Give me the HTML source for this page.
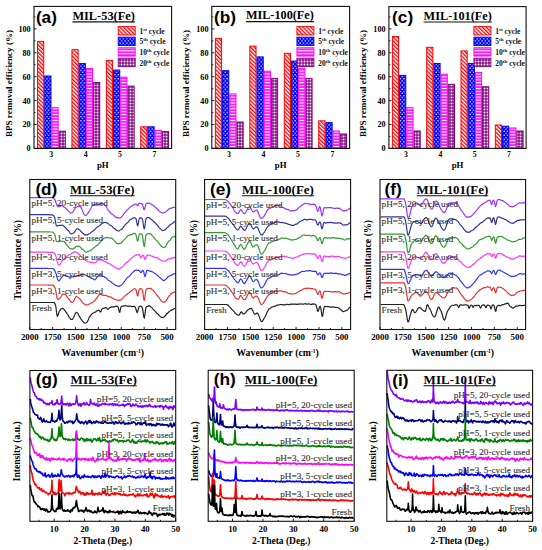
<!DOCTYPE html>
<html><head><meta charset="utf-8"><style>
html,body{margin:0;padding:0;background:#fff;}
svg{display:block;}
</style></head><body>
<svg width="542" height="550" viewBox="0 0 542 550">
<rect width="542" height="550" fill="#fff"/>
<defs>
<pattern id="pr" patternUnits="userSpaceOnUse" width="2.7" height="2.7" patternTransform="rotate(-45)">
<rect width="2.7" height="2.7" fill="#fff"/><rect width="1.3" height="2.7" fill="#ff0000"/></pattern>
<pattern id="pb" patternUnits="userSpaceOnUse" width="3.4" height="4.2">
<rect width="3.4" height="4.2" fill="#0000ff"/><rect x="0.4" y="0.45" width="1.25" height="1.2" fill="#fff"/><rect x="2.1" y="2.55" width="1.25" height="1.2" fill="#fff"/></pattern>
<pattern id="pm" patternUnits="userSpaceOnUse" width="4" height="2.9">
<rect width="4" height="2.9" fill="#ff00ff"/><rect y="0.9" width="4" height="1.2" fill="#fff"/></pattern>
<pattern id="pp" patternUnits="userSpaceOnUse" width="3" height="3">
<rect width="3" height="3" fill="#800080"/><rect x="0.6" y="0.6" width="1.8" height="1.8" fill="#fff"/></pattern>
</defs>
<rect x="37.55" y="41.35" width="6.20" height="107.05" fill="url(#pr)" stroke="#ff0000" stroke-width="1.0"/>
<rect x="44.75" y="76.00" width="6.20" height="72.40" fill="url(#pb)" stroke="#0000ff" stroke-width="1.0"/>
<rect x="51.95" y="107.67" width="6.20" height="40.73" fill="url(#pm)" stroke="#ff00ff" stroke-width="1.0"/>
<rect x="59.15" y="131.21" width="6.20" height="17.19" fill="url(#pp)" stroke="#800080" stroke-width="1.0"/>
<rect x="71.95" y="49.72" width="6.20" height="98.69" fill="url(#pr)" stroke="#ff0000" stroke-width="1.0"/>
<rect x="79.15" y="63.58" width="6.20" height="84.82" fill="url(#pb)" stroke="#0000ff" stroke-width="1.0"/>
<rect x="86.35" y="68.60" width="6.20" height="79.80" fill="url(#pm)" stroke="#ff00ff" stroke-width="1.0"/>
<rect x="93.55" y="82.46" width="6.20" height="65.94" fill="url(#pp)" stroke="#800080" stroke-width="1.0"/>
<rect x="106.35" y="60.47" width="6.20" height="87.93" fill="url(#pr)" stroke="#ff0000" stroke-width="1.0"/>
<rect x="113.55" y="70.03" width="6.20" height="78.37" fill="url(#pb)" stroke="#0000ff" stroke-width="1.0"/>
<rect x="120.75" y="77.20" width="6.20" height="71.20" fill="url(#pm)" stroke="#ff00ff" stroke-width="1.0"/>
<rect x="127.95" y="86.16" width="6.20" height="62.24" fill="url(#pp)" stroke="#800080" stroke-width="1.0"/>
<rect x="140.75" y="126.79" width="6.20" height="21.61" fill="url(#pr)" stroke="#ff0000" stroke-width="1.0"/>
<rect x="147.95" y="126.79" width="6.20" height="21.61" fill="url(#pb)" stroke="#0000ff" stroke-width="1.0"/>
<rect x="155.15" y="130.38" width="6.20" height="18.02" fill="url(#pm)" stroke="#ff00ff" stroke-width="1.0"/>
<rect x="162.35" y="131.57" width="6.20" height="16.83" fill="url(#pp)" stroke="#800080" stroke-width="1.0"/>
<rect x="34.00" y="6.40" width="137.60" height="142.00" fill="none" stroke="#111" stroke-width="1.1"/>
<line x1="34.00" y1="148.40" x2="36.60" y2="148.40" stroke="#111" stroke-width="0.9"/>
<text x="30.70" y="151.30" font-family='"Liberation Serif", serif' font-size="8.2" font-weight="bold" text-anchor="end" fill="#000" >0</text>
<line x1="34.00" y1="136.45" x2="35.50" y2="136.45" stroke="#111" stroke-width="0.9"/>
<line x1="34.00" y1="124.50" x2="36.60" y2="124.50" stroke="#111" stroke-width="0.9"/>
<text x="30.70" y="127.40" font-family='"Liberation Serif", serif' font-size="8.2" font-weight="bold" text-anchor="end" fill="#000" >20</text>
<line x1="34.00" y1="112.55" x2="35.50" y2="112.55" stroke="#111" stroke-width="0.9"/>
<line x1="34.00" y1="100.60" x2="36.60" y2="100.60" stroke="#111" stroke-width="0.9"/>
<text x="30.70" y="103.50" font-family='"Liberation Serif", serif' font-size="8.2" font-weight="bold" text-anchor="end" fill="#000" >40</text>
<line x1="34.00" y1="88.65" x2="35.50" y2="88.65" stroke="#111" stroke-width="0.9"/>
<line x1="34.00" y1="76.70" x2="36.60" y2="76.70" stroke="#111" stroke-width="0.9"/>
<text x="30.70" y="79.60" font-family='"Liberation Serif", serif' font-size="8.2" font-weight="bold" text-anchor="end" fill="#000" >60</text>
<line x1="34.00" y1="64.75" x2="35.50" y2="64.75" stroke="#111" stroke-width="0.9"/>
<line x1="34.00" y1="52.80" x2="36.60" y2="52.80" stroke="#111" stroke-width="0.9"/>
<text x="30.70" y="55.70" font-family='"Liberation Serif", serif' font-size="8.2" font-weight="bold" text-anchor="end" fill="#000" >80</text>
<line x1="34.00" y1="40.85" x2="35.50" y2="40.85" stroke="#111" stroke-width="0.9"/>
<line x1="34.00" y1="28.90" x2="36.60" y2="28.90" stroke="#111" stroke-width="0.9"/>
<text x="30.70" y="31.80" font-family='"Liberation Serif", serif' font-size="8.2" font-weight="bold" text-anchor="end" fill="#000" >100</text>
<line x1="34.00" y1="16.95" x2="35.50" y2="16.95" stroke="#111" stroke-width="0.9"/>
<text x="51.20" y="157.00" font-family='"Liberation Serif", serif' font-size="7.8" font-weight="bold" text-anchor="middle" fill="#000" >3</text>
<text x="85.60" y="157.00" font-family='"Liberation Serif", serif' font-size="7.8" font-weight="bold" text-anchor="middle" fill="#000" >4</text>
<text x="120.00" y="157.00" font-family='"Liberation Serif", serif' font-size="7.8" font-weight="bold" text-anchor="middle" fill="#000" >5</text>
<text x="154.40" y="157.00" font-family='"Liberation Serif", serif' font-size="7.8" font-weight="bold" text-anchor="middle" fill="#000" >7</text>
<text x="102.80" y="168.00" font-family='"Liberation Serif", serif' font-size="8.8" font-weight="bold" text-anchor="middle" fill="#000" >pH</text>
<text transform="translate(12.40,83.50) rotate(-90)" font-family='"Liberation Serif", serif' font-size="9.1" font-weight="bold" text-anchor="middle" fill="#000">BPS removal efficiency (%)</text>
<text x="35.90" y="23.04" font-family='"Liberation Sans", sans-serif' font-size="17.2" font-weight="bold" text-anchor="start" fill="#000" >(a)</text>
<text x="72.40" y="19.60" font-family='"Liberation Serif", serif' font-size="12.4" font-weight="bold" textLength="62.50" lengthAdjust="spacingAndGlyphs">MIL-53(Fe)</text>
<line x1="72.40" y1="21.90" x2="134.90" y2="21.90" stroke="#111" stroke-width="1.1"/>
<rect x="118.20" y="26.60" width="17.0" height="8.4" fill="url(#pr)" stroke="#ff0000" stroke-width="0.9"/>
<text x="139.60" y="33.90" font-family='"Liberation Serif", serif' font-size="7.5" font-weight="bold" fill="#111">1<tspan font-size="5.0" dy="-3.0">st</tspan><tspan dy="3.0"> cycle</tspan></text>
<rect x="118.20" y="37.15" width="17.0" height="8.4" fill="url(#pb)" stroke="#0000ff" stroke-width="0.9"/>
<text x="139.60" y="44.45" font-family='"Liberation Serif", serif' font-size="7.5" font-weight="bold" fill="#111">5<tspan font-size="5.0" dy="-3.0">th</tspan><tspan dy="3.0"> cycle</tspan></text>
<rect x="118.20" y="47.70" width="17.0" height="8.4" fill="url(#pm)" stroke="#ff00ff" stroke-width="0.9"/>
<text x="139.60" y="55.00" font-family='"Liberation Serif", serif' font-size="7.5" font-weight="bold" fill="#111">10<tspan font-size="5.0" dy="-3.0">th</tspan><tspan dy="3.0"> cycle</tspan></text>
<rect x="118.20" y="58.25" width="17.0" height="8.4" fill="url(#pp)" stroke="#800080" stroke-width="0.9"/>
<text x="139.60" y="65.55" font-family='"Liberation Serif", serif' font-size="7.5" font-weight="bold" fill="#111">20<tspan font-size="5.0" dy="-3.0">th</tspan><tspan dy="3.0"> cycle</tspan></text>
<rect x="215.38" y="38.36" width="6.20" height="110.04" fill="url(#pr)" stroke="#ff0000" stroke-width="1.0"/>
<rect x="222.57" y="70.63" width="6.20" height="77.77" fill="url(#pb)" stroke="#0000ff" stroke-width="1.0"/>
<rect x="229.78" y="93.93" width="6.20" height="54.47" fill="url(#pm)" stroke="#ff00ff" stroke-width="1.0"/>
<rect x="236.97" y="122.01" width="6.20" height="26.39" fill="url(#pp)" stroke="#800080" stroke-width="1.0"/>
<rect x="249.83" y="46.13" width="6.20" height="102.27" fill="url(#pr)" stroke="#ff0000" stroke-width="1.0"/>
<rect x="257.03" y="56.89" width="6.20" height="91.52" fill="url(#pb)" stroke="#0000ff" stroke-width="1.0"/>
<rect x="264.23" y="71.23" width="6.20" height="77.17" fill="url(#pm)" stroke="#ff00ff" stroke-width="1.0"/>
<rect x="271.43" y="78.39" width="6.20" height="70.01" fill="url(#pp)" stroke="#800080" stroke-width="1.0"/>
<rect x="284.28" y="53.30" width="6.20" height="95.10" fill="url(#pr)" stroke="#ff0000" stroke-width="1.0"/>
<rect x="291.48" y="61.07" width="6.20" height="87.33" fill="url(#pb)" stroke="#0000ff" stroke-width="1.0"/>
<rect x="298.68" y="68.24" width="6.20" height="80.16" fill="url(#pm)" stroke="#ff00ff" stroke-width="1.0"/>
<rect x="305.88" y="78.39" width="6.20" height="70.01" fill="url(#pp)" stroke="#800080" stroke-width="1.0"/>
<rect x="318.73" y="120.82" width="6.20" height="27.58" fill="url(#pr)" stroke="#ff0000" stroke-width="1.0"/>
<rect x="325.93" y="122.61" width="6.20" height="25.79" fill="url(#pb)" stroke="#0000ff" stroke-width="1.0"/>
<rect x="333.12" y="130.97" width="6.20" height="17.43" fill="url(#pm)" stroke="#ff00ff" stroke-width="1.0"/>
<rect x="340.33" y="133.96" width="6.20" height="14.44" fill="url(#pp)" stroke="#800080" stroke-width="1.0"/>
<rect x="211.80" y="6.40" width="137.80" height="142.00" fill="none" stroke="#111" stroke-width="1.1"/>
<line x1="211.80" y1="148.40" x2="214.40" y2="148.40" stroke="#111" stroke-width="0.9"/>
<text x="208.50" y="151.30" font-family='"Liberation Serif", serif' font-size="8.2" font-weight="bold" text-anchor="end" fill="#000" >0</text>
<line x1="211.80" y1="136.45" x2="213.30" y2="136.45" stroke="#111" stroke-width="0.9"/>
<line x1="211.80" y1="124.50" x2="214.40" y2="124.50" stroke="#111" stroke-width="0.9"/>
<text x="208.50" y="127.40" font-family='"Liberation Serif", serif' font-size="8.2" font-weight="bold" text-anchor="end" fill="#000" >20</text>
<line x1="211.80" y1="112.55" x2="213.30" y2="112.55" stroke="#111" stroke-width="0.9"/>
<line x1="211.80" y1="100.60" x2="214.40" y2="100.60" stroke="#111" stroke-width="0.9"/>
<text x="208.50" y="103.50" font-family='"Liberation Serif", serif' font-size="8.2" font-weight="bold" text-anchor="end" fill="#000" >40</text>
<line x1="211.80" y1="88.65" x2="213.30" y2="88.65" stroke="#111" stroke-width="0.9"/>
<line x1="211.80" y1="76.70" x2="214.40" y2="76.70" stroke="#111" stroke-width="0.9"/>
<text x="208.50" y="79.60" font-family='"Liberation Serif", serif' font-size="8.2" font-weight="bold" text-anchor="end" fill="#000" >60</text>
<line x1="211.80" y1="64.75" x2="213.30" y2="64.75" stroke="#111" stroke-width="0.9"/>
<line x1="211.80" y1="52.80" x2="214.40" y2="52.80" stroke="#111" stroke-width="0.9"/>
<text x="208.50" y="55.70" font-family='"Liberation Serif", serif' font-size="8.2" font-weight="bold" text-anchor="end" fill="#000" >80</text>
<line x1="211.80" y1="40.85" x2="213.30" y2="40.85" stroke="#111" stroke-width="0.9"/>
<line x1="211.80" y1="28.90" x2="214.40" y2="28.90" stroke="#111" stroke-width="0.9"/>
<text x="208.50" y="31.80" font-family='"Liberation Serif", serif' font-size="8.2" font-weight="bold" text-anchor="end" fill="#000" >100</text>
<line x1="211.80" y1="16.95" x2="213.30" y2="16.95" stroke="#111" stroke-width="0.9"/>
<text x="229.03" y="157.00" font-family='"Liberation Serif", serif' font-size="7.8" font-weight="bold" text-anchor="middle" fill="#000" >3</text>
<text x="263.48" y="157.00" font-family='"Liberation Serif", serif' font-size="7.8" font-weight="bold" text-anchor="middle" fill="#000" >4</text>
<text x="297.93" y="157.00" font-family='"Liberation Serif", serif' font-size="7.8" font-weight="bold" text-anchor="middle" fill="#000" >5</text>
<text x="332.38" y="157.00" font-family='"Liberation Serif", serif' font-size="7.8" font-weight="bold" text-anchor="middle" fill="#000" >7</text>
<text x="280.70" y="168.00" font-family='"Liberation Serif", serif' font-size="8.8" font-weight="bold" text-anchor="middle" fill="#000" >pH</text>
<text transform="translate(189.30,83.50) rotate(-90)" font-family='"Liberation Serif", serif' font-size="9.1" font-weight="bold" text-anchor="middle" fill="#000">BPS removal efficiency (%)</text>
<text x="214.10" y="23.04" font-family='"Liberation Sans", sans-serif' font-size="17.2" font-weight="bold" text-anchor="start" fill="#000" >(b)</text>
<text x="245.90" y="19.30" font-family='"Liberation Serif", serif' font-size="12.3" font-weight="bold" textLength="67.90" lengthAdjust="spacingAndGlyphs">MIL-100(Fe)</text>
<line x1="245.90" y1="21.60" x2="313.80" y2="21.60" stroke="#111" stroke-width="1.1"/>
<rect x="296.90" y="26.60" width="17.0" height="8.4" fill="url(#pr)" stroke="#ff0000" stroke-width="0.9"/>
<text x="318.30" y="33.90" font-family='"Liberation Serif", serif' font-size="7.5" font-weight="bold" fill="#111">1<tspan font-size="5.0" dy="-3.0">st</tspan><tspan dy="3.0"> cycle</tspan></text>
<rect x="296.90" y="37.15" width="17.0" height="8.4" fill="url(#pb)" stroke="#0000ff" stroke-width="0.9"/>
<text x="318.30" y="44.45" font-family='"Liberation Serif", serif' font-size="7.5" font-weight="bold" fill="#111">5<tspan font-size="5.0" dy="-3.0">th</tspan><tspan dy="3.0"> cycle</tspan></text>
<rect x="296.90" y="47.70" width="17.0" height="8.4" fill="url(#pm)" stroke="#ff00ff" stroke-width="0.9"/>
<text x="318.30" y="55.00" font-family='"Liberation Serif", serif' font-size="7.5" font-weight="bold" fill="#111">10<tspan font-size="5.0" dy="-3.0">th</tspan><tspan dy="3.0"> cycle</tspan></text>
<rect x="296.90" y="58.25" width="17.0" height="8.4" fill="url(#pp)" stroke="#800080" stroke-width="0.9"/>
<text x="318.30" y="65.55" font-family='"Liberation Serif", serif' font-size="7.5" font-weight="bold" fill="#111">20<tspan font-size="5.0" dy="-3.0">th</tspan><tspan dy="3.0"> cycle</tspan></text>
<rect x="392.40" y="36.57" width="6.20" height="111.83" fill="url(#pr)" stroke="#ff0000" stroke-width="1.0"/>
<rect x="399.60" y="75.41" width="6.20" height="72.99" fill="url(#pb)" stroke="#0000ff" stroke-width="1.0"/>
<rect x="406.80" y="107.67" width="6.20" height="40.73" fill="url(#pm)" stroke="#ff00ff" stroke-width="1.0"/>
<rect x="414.00" y="130.97" width="6.20" height="17.43" fill="url(#pp)" stroke="#800080" stroke-width="1.0"/>
<rect x="426.70" y="47.33" width="6.20" height="101.08" fill="url(#pr)" stroke="#ff0000" stroke-width="1.0"/>
<rect x="433.90" y="63.46" width="6.20" height="84.94" fill="url(#pb)" stroke="#0000ff" stroke-width="1.0"/>
<rect x="441.10" y="74.21" width="6.20" height="74.19" fill="url(#pm)" stroke="#ff00ff" stroke-width="1.0"/>
<rect x="448.30" y="84.37" width="6.20" height="64.03" fill="url(#pp)" stroke="#800080" stroke-width="1.0"/>
<rect x="461.00" y="50.91" width="6.20" height="97.49" fill="url(#pr)" stroke="#ff0000" stroke-width="1.0"/>
<rect x="468.20" y="63.46" width="6.20" height="84.94" fill="url(#pb)" stroke="#0000ff" stroke-width="1.0"/>
<rect x="475.40" y="72.42" width="6.20" height="75.98" fill="url(#pm)" stroke="#ff00ff" stroke-width="1.0"/>
<rect x="482.60" y="86.76" width="6.20" height="61.64" fill="url(#pp)" stroke="#800080" stroke-width="1.0"/>
<rect x="495.30" y="125.00" width="6.20" height="23.40" fill="url(#pr)" stroke="#ff0000" stroke-width="1.0"/>
<rect x="502.50" y="126.20" width="6.20" height="22.20" fill="url(#pb)" stroke="#0000ff" stroke-width="1.0"/>
<rect x="509.70" y="127.99" width="6.20" height="20.41" fill="url(#pm)" stroke="#ff00ff" stroke-width="1.0"/>
<rect x="516.90" y="130.97" width="6.20" height="17.43" fill="url(#pp)" stroke="#800080" stroke-width="1.0"/>
<rect x="388.90" y="6.60" width="137.20" height="141.80" fill="none" stroke="#111" stroke-width="1.1"/>
<line x1="388.90" y1="148.40" x2="391.50" y2="148.40" stroke="#111" stroke-width="0.9"/>
<text x="385.60" y="151.30" font-family='"Liberation Serif", serif' font-size="8.2" font-weight="bold" text-anchor="end" fill="#000" >0</text>
<line x1="388.90" y1="136.45" x2="390.40" y2="136.45" stroke="#111" stroke-width="0.9"/>
<line x1="388.90" y1="124.50" x2="391.50" y2="124.50" stroke="#111" stroke-width="0.9"/>
<text x="385.60" y="127.40" font-family='"Liberation Serif", serif' font-size="8.2" font-weight="bold" text-anchor="end" fill="#000" >20</text>
<line x1="388.90" y1="112.55" x2="390.40" y2="112.55" stroke="#111" stroke-width="0.9"/>
<line x1="388.90" y1="100.60" x2="391.50" y2="100.60" stroke="#111" stroke-width="0.9"/>
<text x="385.60" y="103.50" font-family='"Liberation Serif", serif' font-size="8.2" font-weight="bold" text-anchor="end" fill="#000" >40</text>
<line x1="388.90" y1="88.65" x2="390.40" y2="88.65" stroke="#111" stroke-width="0.9"/>
<line x1="388.90" y1="76.70" x2="391.50" y2="76.70" stroke="#111" stroke-width="0.9"/>
<text x="385.60" y="79.60" font-family='"Liberation Serif", serif' font-size="8.2" font-weight="bold" text-anchor="end" fill="#000" >60</text>
<line x1="388.90" y1="64.75" x2="390.40" y2="64.75" stroke="#111" stroke-width="0.9"/>
<line x1="388.90" y1="52.80" x2="391.50" y2="52.80" stroke="#111" stroke-width="0.9"/>
<text x="385.60" y="55.70" font-family='"Liberation Serif", serif' font-size="8.2" font-weight="bold" text-anchor="end" fill="#000" >80</text>
<line x1="388.90" y1="40.85" x2="390.40" y2="40.85" stroke="#111" stroke-width="0.9"/>
<line x1="388.90" y1="28.90" x2="391.50" y2="28.90" stroke="#111" stroke-width="0.9"/>
<text x="385.60" y="31.80" font-family='"Liberation Serif", serif' font-size="8.2" font-weight="bold" text-anchor="end" fill="#000" >100</text>
<line x1="388.90" y1="16.95" x2="390.40" y2="16.95" stroke="#111" stroke-width="0.9"/>
<text x="406.05" y="157.00" font-family='"Liberation Serif", serif' font-size="7.8" font-weight="bold" text-anchor="middle" fill="#000" >3</text>
<text x="440.35" y="157.00" font-family='"Liberation Serif", serif' font-size="7.8" font-weight="bold" text-anchor="middle" fill="#000" >4</text>
<text x="474.65" y="157.00" font-family='"Liberation Serif", serif' font-size="7.8" font-weight="bold" text-anchor="middle" fill="#000" >5</text>
<text x="508.95" y="157.00" font-family='"Liberation Serif", serif' font-size="7.8" font-weight="bold" text-anchor="middle" fill="#000" >7</text>
<text x="457.50" y="168.00" font-family='"Liberation Serif", serif' font-size="8.8" font-weight="bold" text-anchor="middle" fill="#000" >pH</text>
<text transform="translate(365.80,83.50) rotate(-90)" font-family='"Liberation Serif", serif' font-size="9.1" font-weight="bold" text-anchor="middle" fill="#000">BPS removal efficiency (%)</text>
<text x="392.10" y="23.04" font-family='"Liberation Sans", sans-serif' font-size="17.2" font-weight="bold" text-anchor="start" fill="#000" >(c)</text>
<text x="423.60" y="19.70" font-family='"Liberation Serif", serif' font-size="12.3" font-weight="bold" textLength="68.20" lengthAdjust="spacingAndGlyphs">MIL-101(Fe)</text>
<line x1="423.60" y1="22.00" x2="491.80" y2="22.00" stroke="#111" stroke-width="1.1"/>
<rect x="473.90" y="26.60" width="17.0" height="8.4" fill="url(#pr)" stroke="#ff0000" stroke-width="0.9"/>
<text x="495.30" y="33.90" font-family='"Liberation Serif", serif' font-size="7.5" font-weight="bold" fill="#111">1<tspan font-size="5.0" dy="-3.0">st</tspan><tspan dy="3.0"> cycle</tspan></text>
<rect x="473.90" y="37.15" width="17.0" height="8.4" fill="url(#pb)" stroke="#0000ff" stroke-width="0.9"/>
<text x="495.30" y="44.45" font-family='"Liberation Serif", serif' font-size="7.5" font-weight="bold" fill="#111">5<tspan font-size="5.0" dy="-3.0">th</tspan><tspan dy="3.0"> cycle</tspan></text>
<rect x="473.90" y="47.70" width="17.0" height="8.4" fill="url(#pm)" stroke="#ff00ff" stroke-width="0.9"/>
<text x="495.30" y="55.00" font-family='"Liberation Serif", serif' font-size="7.5" font-weight="bold" fill="#111">10<tspan font-size="5.0" dy="-3.0">th</tspan><tspan dy="3.0"> cycle</tspan></text>
<rect x="473.90" y="58.25" width="17.0" height="8.4" fill="url(#pp)" stroke="#800080" stroke-width="0.9"/>
<text x="495.30" y="65.55" font-family='"Liberation Serif", serif' font-size="7.5" font-weight="bold" fill="#111">20<tspan font-size="5.0" dy="-3.0">th</tspan><tspan dy="3.0"> cycle</tspan></text>
<path d="M30.3 197.7 30.8 197.7 31.3 197.7 31.8 197.7 32.3 197.7 32.8 197.7 33.3 197.7 33.8 197.7 34.3 197.7 34.8 197.7 35.3 197.7 35.8 197.7 36.3 197.7 36.8 197.7 37.3 197.7 37.8 197.7 38.3 197.7 38.8 197.7 39.3 197.7 39.8 197.7 40.3 197.7 40.8 197.7 41.3 197.7 41.8 197.7 42.3 197.7 42.8 197.7 43.3 197.7 43.8 197.7 44.3 197.7 44.8 197.7 45.3 197.7 45.8 197.7 46.3 197.7 46.8 197.7 47.3 197.7 47.8 197.7 48.3 197.7 48.8 197.7 49.3 197.7 49.8 197.7 50.3 197.7 50.8 197.7 51.3 197.7 51.8 197.7 52.3 197.7 52.8 197.9 53.3 198.1 53.8 198.5 54.3 198.8 54.8 199.4 55.3 200.5 55.8 202.0 56.3 203.6 56.8 205.1 57.3 206.1 57.8 206.6 58.3 206.6 58.8 206.6 59.3 206.6 59.8 206.4 60.3 206.2 60.8 205.7 61.3 205.6 61.8 205.8 62.3 205.9 62.8 206.3 63.3 206.6 63.8 206.9 64.3 207.2 64.8 207.5 65.3 207.9 65.8 208.3 66.3 208.8 66.8 209.5 67.3 209.9 67.8 210.3 68.3 210.8 68.8 211.3 69.3 211.9 69.8 212.4 70.3 212.7 70.8 212.9 71.3 213.0 71.8 212.9 72.3 212.8 72.8 212.0 73.3 211.3 73.8 210.5 74.3 209.5 74.8 208.7 75.3 208.2 75.8 207.6 76.3 207.3 76.8 207.0 77.3 206.6 77.8 206.5 78.3 206.5 78.8 206.6 79.3 206.5 79.8 206.4 80.3 206.5 80.8 207.1 81.3 207.9 81.8 209.0 82.3 210.4 82.8 211.7 83.3 212.7 83.8 214.0 84.3 214.7 84.8 215.2 85.3 215.7 85.8 215.5 86.3 215.1 86.8 214.7 87.3 214.0 87.8 213.3 88.3 212.7 88.8 211.9 89.3 211.2 89.8 210.5 90.3 209.3 90.8 208.5 91.3 207.5 91.8 206.4 92.3 205.7 92.8 205.1 93.3 204.7 93.8 204.4 94.3 204.4 94.8 204.4 95.3 204.4 95.8 204.5 96.3 204.5 96.8 204.4 97.3 204.5 97.8 204.5 98.3 204.4 98.8 204.4 99.3 204.1 99.8 203.9 100.3 204.0 100.8 204.0 101.3 204.2 101.8 204.2 102.3 204.0 102.8 204.1 103.3 204.1 103.8 204.1 104.3 204.8 104.8 205.0 105.3 205.3 105.8 206.1 106.3 206.7 106.8 207.7 107.3 208.7 107.8 209.5 108.3 210.4 108.8 210.9 109.3 211.5 109.8 212.0 110.3 212.6 110.8 213.2 111.3 213.6 111.8 213.9 112.3 214.3 112.8 214.5 113.3 215.0 113.8 215.3 114.3 215.9 114.8 216.5 115.3 216.8 115.8 217.4 116.3 217.6 116.8 217.4 117.3 217.6 117.8 217.6 118.3 217.7 118.8 218.0 119.3 218.0 119.8 217.8 120.3 217.7 120.8 217.6 121.3 217.2 121.8 216.6 122.3 216.1 122.8 215.2 123.3 214.6 123.8 214.0 124.3 213.1 124.8 212.7 125.3 212.1 125.8 211.4 126.3 210.8 126.8 210.1 127.3 209.8 127.8 209.4 128.3 208.9 128.8 208.3 129.3 207.9 129.8 207.4 130.3 207.0 130.8 206.6 131.3 206.1 131.8 205.9 132.3 205.6 132.8 205.4 133.3 205.1 133.8 204.6 134.3 204.4 134.8 204.2 135.3 204.1 135.8 204.1 136.3 204.2 136.8 204.8 137.3 205.7 137.8 205.7 138.3 204.5 138.8 203.4 139.3 203.1 139.8 203.4 140.3 203.5 140.8 203.6 141.3 203.8 141.8 203.6 142.3 204.4 142.8 205.3 143.3 207.3 143.8 209.5 144.3 209.7 144.8 208.5 145.3 206.3 145.8 204.3 146.3 203.5 146.8 203.2 147.3 203.0 147.8 203.1 148.3 203.2 148.8 203.2 149.3 203.2 149.8 203.3 150.3 203.5 150.8 203.9 151.3 204.3 151.8 204.7 152.3 204.8 152.8 205.1 153.3 205.5 153.8 206.0 154.3 206.5 154.8 206.9 155.3 207.2 155.8 207.5 156.3 208.0 156.8 208.5 157.3 209.0 157.8 209.5 158.3 210.1 158.8 210.7 159.3 211.3 159.8 211.8 160.3 212.1 160.8 212.3 161.3 212.5 161.8 212.7 162.3 213.0 162.8 213.2 163.3 213.1 163.8 212.8 164.3 212.7 164.8 212.3 165.3 212.1 165.8 211.7 166.3 211.4 166.8 211.0 167.3 210.4 167.8 210.1 168.3 209.5 168.8 209.0 169.3 208.7 169.8 208.4 170.3 208.4 170.8 208.2 171.3 208.1 171.8 208.1 172.3 207.6 172.8 207.6 173.3 207.4 173.8 207.3 174.3 207.5 174.8 207.3 175.3 207.3" fill="none" stroke="#9933ff" stroke-width="1.2" stroke-linejoin="round"/>
<path d="M30.3 214.6 30.8 214.6 31.3 214.6 31.8 214.6 32.3 214.6 32.8 214.6 33.3 214.6 33.8 214.6 34.3 214.6 34.8 214.6 35.3 214.6 35.8 214.6 36.3 214.6 36.8 214.6 37.3 214.6 37.8 214.6 38.3 214.6 38.8 214.6 39.3 214.6 39.8 214.6 40.3 214.6 40.8 214.6 41.3 214.6 41.8 214.6 42.3 214.6 42.8 214.6 43.3 214.7 43.8 214.7 44.3 214.7 44.8 214.7 45.3 214.7 45.8 214.7 46.3 214.7 46.8 214.7 47.3 214.7 47.8 214.7 48.3 214.7 48.8 214.7 49.3 214.7 49.8 214.8 50.3 214.8 50.8 214.8 51.3 214.8 51.8 214.8 52.3 214.8 52.8 215.1 53.3 215.5 53.8 216.0 54.3 216.7 54.8 217.8 55.3 220.4 55.8 223.4 56.3 225.6 56.8 226.0 57.3 225.8 57.8 225.8 58.3 225.6 58.8 225.4 59.3 225.5 59.8 225.4 60.3 225.4 60.8 225.4 61.3 225.3 61.8 225.2 62.3 225.2 62.8 225.4 63.3 225.6 63.8 226.0 64.3 226.5 64.8 227.0 65.3 227.5 65.8 227.9 66.3 228.5 66.8 229.1 67.3 229.8 67.8 230.2 68.3 230.5 68.8 231.1 69.3 231.7 69.8 232.6 70.3 233.4 70.8 233.7 71.3 233.9 71.8 233.7 72.3 233.7 72.8 233.5 73.3 233.1 73.8 232.8 74.3 232.1 74.8 231.6 75.3 230.9 75.8 230.2 76.3 229.5 76.8 228.9 77.3 228.9 77.8 228.8 78.3 229.1 78.8 229.5 79.3 229.7 79.8 230.3 80.3 230.6 80.8 231.1 81.3 231.8 81.8 232.2 82.3 232.9 82.8 233.3 83.3 233.7 83.8 234.1 84.3 234.6 84.8 234.8 85.3 234.7 85.8 235.1 86.3 234.9 86.8 234.9 87.3 235.0 87.8 234.5 88.3 234.2 88.8 233.9 89.3 233.7 89.8 233.5 90.3 233.2 90.8 232.7 91.3 232.2 91.8 231.8 92.3 231.5 92.8 231.1 93.3 230.7 93.8 230.3 94.3 229.8 94.8 229.5 95.3 228.9 95.8 228.4 96.3 227.8 96.8 227.4 97.3 227.0 97.8 226.9 98.3 226.6 98.8 226.3 99.3 225.9 99.8 225.4 100.3 225.0 100.8 224.4 101.3 224.1 101.8 223.8 102.3 223.2 102.8 223.2 103.3 222.8 103.8 222.6 104.3 222.5 104.8 222.3 105.3 222.6 105.8 222.5 106.3 222.8 106.8 222.9 107.3 223.0 107.8 223.3 108.3 223.7 108.8 224.3 109.3 224.8 109.8 225.0 110.3 225.2 110.8 225.5 111.3 225.8 111.8 226.3 112.3 226.6 112.8 227.1 113.3 227.7 113.8 228.1 114.3 228.5 114.8 229.0 115.3 229.1 115.8 229.7 116.3 230.1 116.8 230.3 117.3 230.6 117.8 230.7 118.3 230.9 118.8 231.0 119.3 230.9 119.8 230.4 120.3 230.0 120.8 229.8 121.3 229.4 121.8 229.2 122.3 228.8 122.8 228.0 123.3 227.4 123.8 226.6 124.3 225.9 124.8 225.3 125.3 224.6 125.8 224.2 126.3 223.6 126.8 223.2 127.3 222.9 127.8 222.4 128.3 222.0 128.8 221.2 129.3 220.4 129.8 219.9 130.3 219.4 130.8 219.3 131.3 219.2 131.8 218.9 132.3 218.4 132.8 218.2 133.3 218.2 133.8 217.9 134.3 217.9 134.8 217.9 135.3 217.9 135.8 218.2 136.3 219.8 136.8 222.6 137.3 225.1 137.8 225.8 138.3 223.5 138.8 220.5 139.3 218.9 139.8 218.1 140.3 217.8 140.8 217.9 141.3 218.1 141.8 218.2 142.3 219.0 142.8 220.9 143.3 224.4 143.8 227.8 144.3 228.9 144.8 226.9 145.3 223.0 145.8 219.8 146.3 218.3 146.8 217.9 147.3 217.6 147.8 217.7 148.3 217.6 148.8 217.6 149.3 217.8 149.8 218.2 150.3 218.7 150.8 219.1 151.3 219.6 151.8 219.8 152.3 220.1 152.8 220.7 153.3 221.1 153.8 221.8 154.3 222.2 154.8 222.4 155.3 223.0 155.8 223.5 156.3 224.1 156.8 224.8 157.3 225.0 157.8 225.6 158.3 226.3 158.8 227.1 159.3 227.8 159.8 228.3 160.3 228.6 160.8 229.0 161.3 229.6 161.8 230.0 162.3 230.5 162.8 230.6 163.3 230.5 163.8 230.3 164.3 230.1 164.8 230.0 165.3 229.6 165.8 229.3 166.3 228.5 166.8 228.0 167.3 227.6 167.8 227.1 168.3 226.9 168.8 226.1 169.3 225.5 169.8 225.0 170.3 224.6 170.8 224.4 171.3 224.0 171.8 223.9 172.3 223.4 172.8 223.2 173.3 222.8 173.8 222.2 174.3 221.8 174.8 221.6 175.3 221.4" fill="none" stroke="#333399" stroke-width="1.2" stroke-linejoin="round"/>
<path d="M30.3 231.8 30.8 231.8 31.3 231.8 31.8 231.8 32.3 231.8 32.8 231.8 33.3 231.8 33.8 231.8 34.3 231.8 34.8 231.8 35.3 231.8 35.8 231.8 36.3 231.8 36.8 231.8 37.3 231.8 37.8 231.8 38.3 231.8 38.8 231.8 39.3 231.8 39.8 231.8 40.3 231.8 40.8 231.8 41.3 231.8 41.8 231.8 42.3 231.8 42.8 231.8 43.3 231.9 43.8 231.9 44.3 231.9 44.8 231.9 45.3 231.9 45.8 231.9 46.3 231.9 46.8 231.9 47.3 231.9 47.8 231.9 48.3 231.9 48.8 231.9 49.3 231.9 49.8 232.0 50.3 232.0 50.8 232.0 51.3 232.0 51.8 232.0 52.3 232.0 52.8 232.3 53.3 232.6 53.8 233.1 54.3 233.7 54.8 234.7 55.3 236.8 55.8 239.3 56.3 241.2 56.8 241.5 57.3 241.6 57.8 241.6 58.3 241.7 58.8 241.5 59.3 241.3 59.8 241.3 60.3 241.1 60.8 241.1 61.3 241.3 61.8 241.5 62.3 241.4 62.8 241.3 63.3 241.3 63.8 241.5 64.3 241.7 64.8 242.2 65.3 243.0 65.8 243.6 66.3 244.4 66.8 245.0 67.3 245.5 67.8 246.2 68.3 246.6 68.8 247.2 69.3 247.9 69.8 248.3 70.3 248.8 70.8 249.0 71.3 248.8 71.8 248.8 72.3 249.1 72.8 249.0 73.3 248.9 73.8 248.6 74.3 248.0 74.8 247.5 75.3 247.1 75.8 246.7 76.3 246.4 76.8 246.3 77.3 246.0 77.8 246.0 78.3 246.2 78.8 246.0 79.3 246.3 79.8 246.7 80.3 247.0 80.8 247.7 81.3 248.1 81.8 248.8 82.3 249.2 82.8 249.5 83.3 249.9 83.8 250.4 84.3 250.7 84.8 251.3 85.3 251.9 85.8 252.0 86.3 252.2 86.8 252.0 87.3 251.9 87.8 251.6 88.3 251.3 88.8 251.3 89.3 251.0 89.8 251.0 90.3 250.9 90.8 250.3 91.3 250.1 91.8 249.7 92.3 249.1 92.8 248.7 93.3 248.1 93.8 247.6 94.3 247.3 94.8 247.0 95.3 246.6 95.8 246.1 96.3 245.8 96.8 245.5 97.3 245.2 97.8 244.8 98.3 244.3 98.8 243.7 99.3 243.1 99.8 242.9 100.3 242.3 100.8 241.5 101.3 240.8 101.8 240.1 102.3 239.5 102.8 239.2 103.3 238.8 103.8 238.2 104.3 237.9 104.8 237.8 105.3 237.8 105.8 237.7 106.3 237.7 106.8 237.4 107.3 237.4 107.8 237.7 108.3 237.9 108.8 238.0 109.3 238.0 109.8 237.8 110.3 237.7 110.8 237.8 111.3 238.1 111.8 238.4 112.3 238.6 112.8 239.2 113.3 239.6 113.8 240.0 114.3 240.7 114.8 241.1 115.3 241.9 115.8 242.5 116.3 242.9 116.8 243.3 117.3 243.4 117.8 243.7 118.3 243.7 118.8 244.0 119.3 243.8 119.8 243.5 120.3 243.5 120.8 243.1 121.3 242.9 121.8 242.6 122.3 241.9 122.8 241.2 123.3 240.6 123.8 240.0 124.3 239.6 124.8 239.1 125.3 238.6 125.8 238.1 126.3 237.4 126.8 236.8 127.3 236.3 127.8 235.8 128.3 235.6 128.8 235.4 129.3 235.2 129.8 235.1 130.3 234.9 130.8 234.7 131.3 234.7 131.8 234.4 132.3 234.1 132.8 234.1 133.3 233.6 133.8 233.4 134.3 233.5 134.8 233.3 135.3 233.6 135.8 234.4 136.3 235.9 136.8 238.5 137.3 241.0 137.8 241.1 138.3 238.7 138.8 236.0 139.3 234.1 139.8 233.7 140.3 233.9 140.8 233.7 141.3 233.9 141.8 234.2 142.3 235.0 142.8 237.6 143.3 241.6 143.8 245.5 144.3 246.5 144.8 244.0 145.3 239.7 145.8 236.2 146.3 234.5 146.8 234.2 147.3 233.9 147.8 233.9 148.3 233.7 148.8 233.5 149.3 233.6 149.8 233.6 150.3 233.8 150.8 233.9 151.3 234.4 151.8 235.1 152.3 235.9 152.8 236.4 153.3 237.0 153.8 237.4 154.3 238.0 154.8 238.7 155.3 239.4 155.8 240.0 156.3 240.4 156.8 240.7 157.3 241.1 157.8 241.5 158.3 242.2 158.8 243.1 159.3 243.6 159.8 244.4 160.3 244.9 160.8 245.6 161.3 246.3 161.8 246.6 162.3 247.0 162.8 247.1 163.3 247.2 163.8 247.4 164.3 247.3 164.8 247.1 165.3 246.7 165.8 246.1 166.3 245.3 166.8 244.3 167.3 243.3 167.8 242.5 168.3 241.7 168.8 241.0 169.3 240.8 169.8 240.3 170.3 239.9 170.8 239.2 171.3 238.4 171.8 237.7 172.3 237.2 172.8 237.1 173.3 236.7 173.8 236.5 174.3 236.8 174.8 236.4 175.3 236.1" fill="none" stroke="#339933" stroke-width="1.2" stroke-linejoin="round"/>
<path d="M30.3 252.2 30.8 252.2 31.3 252.2 31.8 252.2 32.3 252.2 32.8 252.2 33.3 252.2 33.8 252.2 34.3 252.2 34.8 252.2 35.3 252.2 35.8 252.2 36.3 252.2 36.8 252.2 37.3 252.2 37.8 252.2 38.3 252.2 38.8 252.2 39.3 252.2 39.8 252.2 40.3 252.2 40.8 252.2 41.3 252.2 41.8 252.2 42.3 252.2 42.8 252.2 43.3 252.2 43.8 252.2 44.3 252.2 44.8 252.2 45.3 252.2 45.8 252.2 46.3 252.2 46.8 252.2 47.3 252.2 47.8 252.3 48.3 252.3 48.8 252.3 49.3 252.3 49.8 252.3 50.3 252.3 50.8 252.3 51.3 252.3 51.8 252.3 52.3 252.3 52.8 252.3 53.3 252.4 53.8 252.7 54.3 253.2 54.8 253.8 55.3 254.5 55.8 255.9 56.3 257.8 56.8 259.8 57.3 261.7 57.8 263.3 58.3 264.6 58.8 264.9 59.3 264.9 59.8 264.5 60.3 263.8 60.8 263.0 61.3 262.1 61.8 261.1 62.3 260.7 62.8 260.2 63.3 259.6 63.8 259.3 64.3 258.8 64.8 258.4 65.3 258.2 65.8 257.7 66.3 257.1 66.8 256.7 67.3 256.0 67.8 255.8 68.3 255.4 68.8 255.0 69.3 254.8 69.8 254.5 70.3 254.3 70.8 254.1 71.3 253.8 71.8 253.2 72.3 252.9 72.8 252.6 73.3 252.2 73.8 252.1 74.3 251.9 74.8 251.8 75.3 251.8 75.8 252.1 76.3 252.3 76.8 252.4 77.3 252.6 77.8 253.0 78.3 253.3 78.8 253.8 79.3 254.5 79.8 255.0 80.3 255.5 80.8 256.1 81.3 256.6 81.8 257.1 82.3 257.5 82.8 257.9 83.3 258.6 83.8 258.9 84.3 259.2 84.8 259.7 85.3 260.1 85.8 260.6 86.3 261.0 86.8 261.0 87.3 261.2 87.8 261.4 88.3 261.8 88.8 262.0 89.3 262.0 89.8 262.2 90.3 262.2 90.8 262.3 91.3 262.3 91.8 262.3 92.3 262.5 92.8 262.5 93.3 262.7 93.8 262.9 94.3 262.8 94.8 263.0 95.3 262.8 95.8 262.5 96.3 262.1 96.8 261.3 97.3 260.7 97.8 260.4 98.3 259.9 98.8 260.0 99.3 259.9 99.8 259.7 100.3 259.9 100.8 259.8 101.3 260.1 101.8 260.1 102.3 260.1 102.8 260.4 103.3 260.4 103.8 260.9 104.3 261.2 104.8 261.4 105.3 261.6 105.8 261.8 106.3 262.0 106.8 262.4 107.3 262.9 107.8 263.1 108.3 263.3 108.8 263.4 109.3 263.7 109.8 263.9 110.3 264.4 110.8 264.7 111.3 264.9 111.8 265.2 112.3 265.4 112.8 265.9 113.3 266.2 113.8 266.6 114.3 266.8 114.8 267.1 115.3 267.3 115.8 267.6 116.3 268.1 116.8 268.4 117.3 268.7 117.8 269.0 118.3 268.8 118.8 268.8 119.3 268.8 119.8 268.4 120.3 268.2 120.8 267.8 121.3 267.5 121.8 267.2 122.3 267.0 122.8 266.6 123.3 266.1 123.8 265.4 124.3 264.8 124.8 264.0 125.3 263.5 125.8 263.1 126.3 262.7 126.8 262.2 127.3 261.9 127.8 261.6 128.3 261.1 128.8 260.7 129.3 260.0 129.8 259.9 130.3 259.4 130.8 258.9 131.3 258.4 131.8 257.8 132.3 257.3 132.8 257.1 133.3 256.8 133.8 256.4 134.3 256.1 134.8 255.7 135.3 255.3 135.8 255.0 136.3 254.9 136.8 255.1 137.3 255.0 137.8 255.0 138.3 254.7 138.8 254.4 139.3 254.6 139.8 255.2 140.3 256.6 140.8 257.8 141.3 257.7 141.8 256.4 142.3 255.6 142.8 255.0 143.3 255.2 143.8 256.3 144.3 257.8 144.8 259.4 145.3 259.4 145.8 257.8 146.3 256.2 146.8 255.5 147.3 255.2 147.8 255.3 148.3 255.2 148.8 255.1 149.3 255.1 149.8 255.2 150.3 255.4 150.8 255.8 151.3 256.0 151.8 256.2 152.3 256.2 152.8 256.4 153.3 256.6 153.8 256.9 154.3 257.3 154.8 257.4 155.3 257.6 155.8 257.6 156.3 257.6 156.8 257.7 157.3 257.9 157.8 258.3 158.3 258.6 158.8 259.0 159.3 259.5 159.8 259.6 160.3 260.0 160.8 260.2 161.3 260.3 161.8 260.6 162.3 260.8 162.8 261.0 163.3 261.0 163.8 261.1 164.3 261.0 164.8 261.0 165.3 261.1 165.8 260.8 166.3 260.5 166.8 260.1 167.3 259.6 167.8 259.3 168.3 259.0 168.8 258.7 169.3 258.9 169.8 258.8 170.3 258.7 170.8 258.5 171.3 258.2 171.8 258.2 172.3 258.0 172.8 258.1 173.3 257.9 173.8 257.6 174.3 257.6 174.8 257.3 175.3 257.3" fill="none" stroke="#ff33ff" stroke-width="1.2" stroke-linejoin="round"/>
<path d="M30.3 268.4 30.8 268.4 31.3 268.4 31.8 268.4 32.3 268.4 32.8 268.4 33.3 268.4 33.8 268.4 34.3 268.4 34.8 268.4 35.3 268.4 35.8 268.4 36.3 268.4 36.8 268.4 37.3 268.4 37.8 268.4 38.3 268.4 38.8 268.4 39.3 268.4 39.8 268.4 40.3 268.4 40.8 268.4 41.3 268.4 41.8 268.4 42.3 268.4 42.8 268.4 43.3 268.4 43.8 268.4 44.3 268.4 44.8 268.4 45.3 268.4 45.8 268.4 46.3 268.4 46.8 268.4 47.3 268.4 47.8 268.4 48.3 268.5 48.8 268.5 49.3 268.5 49.8 268.5 50.3 268.5 50.8 268.5 51.3 268.5 51.8 268.5 52.3 268.5 52.8 268.5 53.3 268.6 53.8 269.1 54.3 269.8 54.8 270.7 55.3 271.6 55.8 273.0 56.3 274.7 56.8 276.6 57.3 278.3 57.8 279.7 58.3 280.6 58.8 280.8 59.3 280.7 59.8 280.2 60.3 279.3 60.8 278.5 61.3 277.7 61.8 277.1 62.3 276.5 62.8 275.9 63.3 275.5 63.8 275.3 64.3 275.4 64.8 275.4 65.3 275.5 65.8 275.7 66.3 275.9 66.8 276.0 67.3 276.2 67.8 276.3 68.3 276.6 68.8 277.0 69.3 277.1 69.8 277.3 70.3 277.2 70.8 277.0 71.3 277.0 71.8 276.8 72.3 276.9 72.8 276.8 73.3 276.7 73.8 276.4 74.3 276.2 74.8 276.1 75.3 276.0 75.8 276.0 76.3 275.8 76.8 275.7 77.3 275.7 77.8 275.7 78.3 275.7 78.8 275.6 79.3 275.4 79.8 275.2 80.3 274.9 80.8 274.8 81.3 274.8 81.8 274.9 82.3 274.9 82.8 274.8 83.3 274.6 83.8 274.5 84.3 274.6 84.8 274.8 85.3 275.1 85.8 275.3 86.3 275.5 86.8 275.8 87.3 276.1 87.8 276.3 88.3 276.6 88.8 276.9 89.3 277.1 89.8 277.4 90.3 277.7 90.8 277.9 91.3 278.1 91.8 278.4 92.3 278.5 92.8 278.7 93.3 279.1 93.8 279.5 94.3 279.7 94.8 279.9 95.3 279.4 95.8 278.9 96.3 278.4 96.8 277.5 97.3 276.9 97.8 276.4 98.3 275.8 98.8 275.7 99.3 275.3 99.8 275.0 100.3 274.8 100.8 274.7 101.3 275.0 101.8 275.3 102.3 275.8 102.8 276.1 103.3 276.3 103.8 276.6 104.3 276.9 104.8 277.1 105.3 277.5 105.8 277.8 106.3 278.0 106.8 278.6 107.3 279.0 107.8 279.7 108.3 280.2 108.8 280.5 109.3 280.8 109.8 281.1 110.3 281.3 110.8 281.8 111.3 282.0 111.8 282.5 112.3 282.9 112.8 283.2 113.3 283.7 113.8 284.0 114.3 284.5 114.8 284.8 115.3 285.1 115.8 285.4 116.3 285.6 116.8 285.5 117.3 285.9 117.8 286.2 118.3 286.0 118.8 286.3 119.3 286.3 119.8 285.9 120.3 285.8 120.8 285.4 121.3 285.0 121.8 284.7 122.3 284.2 122.8 283.7 123.3 283.1 123.8 282.4 124.3 281.7 124.8 281.1 125.3 280.2 125.8 279.5 126.3 278.8 126.8 278.0 127.3 277.6 127.8 277.1 128.3 277.0 128.8 276.7 129.3 276.2 129.8 275.9 130.3 275.2 130.8 274.4 131.3 273.9 131.8 273.3 132.3 272.7 132.8 272.4 133.3 271.9 133.8 271.5 134.3 271.0 134.8 270.5 135.3 270.2 135.8 270.0 136.3 270.2 136.8 270.3 137.3 270.3 137.8 270.4 138.3 270.2 138.8 270.5 139.3 270.7 139.8 270.9 140.3 272.0 140.8 272.7 141.3 272.5 141.8 271.4 142.3 270.5 142.8 270.3 143.3 270.8 143.8 272.2 144.3 274.5 144.8 276.3 145.3 276.2 145.8 274.1 146.3 271.8 146.8 270.6 147.3 270.3 147.8 270.3 148.3 270.5 148.8 270.6 149.3 270.9 149.8 271.1 150.3 271.2 150.8 271.4 151.3 271.4 151.8 271.5 152.3 272.0 152.8 272.0 153.3 272.4 153.8 272.7 154.3 273.1 154.8 273.4 155.3 273.6 155.8 274.0 156.3 274.2 156.8 274.7 157.3 275.1 157.8 275.6 158.3 276.1 158.8 276.6 159.3 277.0 159.8 277.6 160.3 277.8 160.8 278.2 161.3 278.9 161.8 279.1 162.3 279.7 162.8 280.2 163.3 280.4 163.8 280.6 164.3 280.5 164.8 280.0 165.3 279.6 165.8 279.2 166.3 278.7 166.8 278.3 167.3 277.7 167.8 277.0 168.3 276.5 168.8 276.1 169.3 276.0 169.8 276.0 170.3 275.7 170.8 275.6 171.3 275.2 171.8 274.9 172.3 274.7 172.8 274.2 173.3 274.0 173.8 274.1 174.3 273.8 174.8 273.7 175.3 273.6" fill="none" stroke="#3333ff" stroke-width="1.2" stroke-linejoin="round"/>
<path d="M30.3 285.0 30.8 285.0 31.3 285.0 31.8 285.0 32.3 285.0 32.8 285.0 33.3 285.0 33.8 285.0 34.3 285.0 34.8 285.0 35.3 285.0 35.8 285.0 36.3 285.0 36.8 285.0 37.3 285.0 37.8 285.0 38.3 285.0 38.8 285.0 39.3 285.0 39.8 285.0 40.3 285.0 40.8 285.0 41.3 285.0 41.8 285.0 42.3 285.0 42.8 285.0 43.3 285.0 43.8 285.0 44.3 285.0 44.8 285.0 45.3 285.0 45.8 285.0 46.3 285.0 46.8 285.0 47.3 285.0 47.8 285.0 48.3 285.1 48.8 285.1 49.3 285.1 49.8 285.1 50.3 285.1 50.8 285.1 51.3 285.1 51.8 285.1 52.3 285.1 52.8 285.1 53.3 285.2 53.8 285.7 54.3 286.6 54.8 287.6 55.3 288.9 55.8 291.3 56.3 294.2 56.8 297.0 57.3 298.9 57.8 299.4 58.3 299.3 58.8 298.9 59.3 298.7 59.8 298.3 60.3 297.9 60.8 297.1 61.3 296.3 61.8 295.4 62.3 294.5 62.8 294.1 63.3 293.9 63.8 294.0 64.3 294.1 64.8 294.3 65.3 294.6 65.8 294.9 66.3 295.4 66.8 296.4 67.3 297.1 67.8 297.8 68.3 298.3 68.8 298.9 69.3 299.6 69.8 300.3 70.3 301.4 70.8 301.9 71.3 302.1 71.8 302.4 72.3 302.3 72.8 302.0 73.3 301.5 73.8 300.9 74.3 300.0 74.8 298.7 75.3 297.8 75.8 296.7 76.3 296.3 76.8 296.6 77.3 297.0 77.8 297.3 78.3 297.6 78.8 298.0 79.3 298.3 79.8 298.8 80.3 299.4 80.8 300.1 81.3 300.9 81.8 301.7 82.3 302.3 82.8 302.8 83.3 303.2 83.8 303.6 84.3 304.1 84.8 304.3 85.3 304.6 85.8 304.9 86.3 304.9 86.8 304.8 87.3 304.9 87.8 304.7 88.3 304.5 88.8 304.3 89.3 304.1 89.8 303.8 90.3 303.5 90.8 303.3 91.3 302.9 91.8 302.7 92.3 302.6 92.8 302.1 93.3 301.8 93.8 301.4 94.3 300.9 94.8 300.6 95.3 300.1 95.8 299.3 96.3 298.5 96.8 298.0 97.3 297.1 97.8 296.5 98.3 295.7 98.8 295.1 99.3 294.6 99.8 294.3 100.3 294.2 100.8 294.3 101.3 294.5 101.8 294.8 102.3 295.1 102.8 295.2 103.3 295.2 103.8 295.3 104.3 295.3 104.8 295.3 105.3 295.3 105.8 295.4 106.3 295.6 106.8 295.8 107.3 296.2 107.8 296.3 108.3 296.7 108.8 297.0 109.3 296.8 109.8 296.9 110.3 296.9 110.8 296.9 111.3 297.3 111.8 297.8 112.3 297.9 112.8 298.3 113.3 298.7 113.8 299.0 114.3 299.2 114.8 299.3 115.3 299.3 115.8 299.6 116.3 299.8 116.8 300.0 117.3 300.2 117.8 300.2 118.3 300.2 118.8 300.3 119.3 300.3 119.8 300.2 120.3 300.2 120.8 299.9 121.3 299.5 121.8 299.1 122.3 298.4 122.8 298.0 123.3 297.6 123.8 297.1 124.3 296.4 124.8 296.0 125.3 295.6 125.8 295.2 126.3 295.0 126.8 294.3 127.3 294.1 127.8 293.5 128.3 293.2 128.8 292.9 129.3 292.3 129.8 292.0 130.3 291.5 130.8 291.1 131.3 290.6 131.8 290.5 132.3 290.4 132.8 289.9 133.3 289.5 133.8 289.1 134.3 288.8 134.8 288.6 135.3 289.0 135.8 289.4 136.3 290.7 136.8 293.3 137.3 295.7 137.8 295.9 138.3 293.8 138.8 291.2 139.3 289.4 139.8 288.9 140.3 288.8 140.8 288.7 141.3 288.8 141.8 289.0 142.3 289.8 142.8 292.0 143.3 295.8 143.8 299.2 144.3 300.4 144.8 298.0 145.3 294.2 145.8 290.9 146.3 289.3 146.8 288.8 147.3 288.5 147.8 288.6 148.3 288.5 148.8 288.4 149.3 288.5 149.8 288.4 150.3 288.3 150.8 288.4 151.3 288.8 151.8 289.2 152.3 289.6 152.8 290.0 153.3 290.4 153.8 291.1 154.3 291.8 154.8 292.5 155.3 293.2 155.8 293.7 156.3 294.4 156.8 295.0 157.3 295.6 157.8 296.1 158.3 297.0 158.8 297.4 159.3 297.9 159.8 298.8 160.3 299.3 160.8 300.1 161.3 300.9 161.8 301.4 162.3 301.8 162.8 302.1 163.3 302.2 163.8 302.1 164.3 301.9 164.8 301.8 165.3 301.5 165.8 301.1 166.3 300.4 166.8 299.7 167.3 298.7 167.8 297.9 168.3 297.2 168.8 296.3 169.3 295.7 169.8 295.2 170.3 294.6 170.8 294.1 171.3 293.8 171.8 293.2 172.3 292.9 172.8 292.9 173.3 292.5 173.8 292.5 174.3 292.1 174.8 291.6 175.3 291.4" fill="none" stroke="#e83030" stroke-width="1.2" stroke-linejoin="round"/>
<path d="M30.3 302.5 30.8 302.5 31.3 302.5 31.8 302.5 32.3 302.5 32.8 302.5 33.3 302.5 33.8 302.5 34.3 302.5 34.8 302.5 35.3 302.5 35.8 302.5 36.3 302.5 36.8 302.5 37.3 302.5 37.8 302.5 38.3 302.5 38.8 302.5 39.3 302.5 39.8 302.5 40.3 302.5 40.8 302.5 41.3 302.5 41.8 302.5 42.3 302.5 42.8 302.5 43.3 302.5 43.8 302.5 44.3 302.5 44.8 302.5 45.3 302.5 45.8 302.5 46.3 302.5 46.8 302.5 47.3 302.5 47.8 302.5 48.3 302.5 48.8 302.5 49.3 302.5 49.8 302.5 50.3 302.5 50.8 302.5 51.3 302.5 51.8 302.5 52.3 302.5 52.8 302.5 53.3 302.5 53.8 302.5 54.3 302.9 54.8 303.6 55.3 304.6 55.8 306.3 56.3 310.3 56.8 314.4 57.3 316.4 57.8 315.7 58.3 314.3 58.8 312.6 59.3 311.3 59.8 310.5 60.3 310.0 60.8 309.2 61.3 308.7 61.8 308.5 62.3 308.4 62.8 308.6 63.3 308.8 63.8 309.2 64.3 309.5 64.8 310.4 65.3 311.2 65.8 311.9 66.3 312.6 66.8 313.3 67.3 313.9 67.8 314.7 68.3 315.7 68.8 316.4 69.3 317.5 69.8 318.2 70.3 318.7 70.8 319.3 71.3 319.4 71.8 319.5 72.3 319.5 72.8 318.7 73.3 318.0 73.8 317.0 74.3 315.7 74.8 314.7 75.3 313.6 75.8 312.9 76.3 312.4 76.8 312.4 77.3 312.9 77.8 313.3 78.3 314.3 78.8 315.4 79.3 316.2 79.8 317.2 80.3 317.9 80.8 318.8 81.3 319.4 81.8 320.0 82.3 320.9 82.8 321.3 83.3 322.0 83.8 322.6 84.3 322.9 84.8 323.0 85.3 323.0 85.8 323.0 86.3 322.8 86.8 322.5 87.3 321.8 87.8 320.7 88.3 319.7 88.8 318.5 89.3 317.2 89.8 316.7 90.3 315.7 90.8 315.0 91.3 314.7 91.8 314.1 92.3 313.8 92.8 313.4 93.3 313.0 93.8 312.8 94.3 312.5 94.8 312.4 95.3 312.1 95.8 311.7 96.3 311.3 96.8 310.9 97.3 310.6 97.8 310.5 98.3 310.3 98.8 310.1 99.3 310.5 99.8 311.3 100.3 312.1 100.8 311.8 101.3 310.5 101.8 309.2 102.3 308.7 102.8 308.4 103.3 308.4 103.8 308.3 104.3 308.2 104.8 307.9 105.3 307.6 105.8 307.6 106.3 307.7 106.8 308.1 107.3 308.8 107.8 309.5 108.3 309.2 108.8 308.5 109.3 307.9 109.8 307.6 110.3 307.4 110.8 307.3 111.3 307.1 111.8 306.9 112.3 306.9 112.8 306.7 113.3 306.8 113.8 306.9 114.3 306.9 114.8 306.6 115.3 306.4 115.8 306.4 116.3 306.1 116.8 306.4 117.3 306.5 117.8 306.4 118.3 307.4 118.8 309.4 119.3 311.9 119.8 312.4 120.3 310.0 120.8 307.6 121.3 306.5 121.8 306.1 122.3 306.1 122.8 306.3 123.3 306.0 123.8 305.9 124.3 306.0 124.8 305.8 125.3 306.0 125.8 305.9 126.3 305.9 126.8 305.9 127.3 306.0 127.8 306.3 128.3 306.3 128.8 306.3 129.3 306.2 129.8 306.0 130.3 306.1 130.8 306.3 131.3 306.3 131.8 306.6 132.3 306.7 132.8 306.6 133.3 306.5 133.8 306.3 134.3 306.4 134.8 306.7 135.3 307.4 135.8 308.7 136.3 310.5 136.8 312.2 137.3 312.5 137.8 311.2 138.3 308.9 138.8 307.4 139.3 306.5 139.8 306.1 140.3 306.1 140.8 306.1 141.3 306.6 141.8 306.7 142.3 307.7 142.8 310.1 143.3 313.4 143.8 317.1 144.3 318.1 144.8 315.6 145.3 311.6 145.8 308.4 146.3 306.8 146.8 306.4 147.3 306.4 147.8 306.3 148.3 306.2 148.8 305.6 149.3 305.7 149.8 306.1 150.3 306.3 150.8 307.0 151.3 307.3 151.8 307.6 152.3 308.0 152.8 308.8 153.3 309.3 153.8 309.8 154.3 310.6 154.8 310.9 155.3 311.4 155.8 312.1 156.3 312.4 156.8 313.1 157.3 313.6 157.8 313.8 158.3 314.4 158.8 315.0 159.3 315.5 159.8 316.2 160.3 316.7 160.8 316.9 161.3 317.2 161.8 317.4 162.3 317.5 162.8 317.3 163.3 317.3 163.8 317.1 164.3 316.7 164.8 316.5 165.3 315.6 165.8 315.0 166.3 314.5 166.8 313.6 167.3 313.6 167.8 313.0 168.3 312.4 168.8 312.1 169.3 311.5 169.8 311.1 170.3 310.6 170.8 310.3 171.3 310.1 171.8 309.9 172.3 309.9 172.8 309.6 173.3 309.2 173.8 308.9 174.3 308.5 174.8 308.5 175.3 308.4" fill="none" stroke="#222222" stroke-width="1.2" stroke-linejoin="round"/>
<text x="31.40" y="206.40" font-family='"Liberation Serif", serif' font-size="9.2" font-weight="normal" text-anchor="start" fill="#333" stroke="#333" stroke-width="0.12">pH=5, 20-cycle used</text>
<text x="31.40" y="223.40" font-family='"Liberation Serif", serif' font-size="9.2" font-weight="normal" text-anchor="start" fill="#333" stroke="#333" stroke-width="0.12">pH=5, 5-cycle used</text>
<text x="31.40" y="240.60" font-family='"Liberation Serif", serif' font-size="9.2" font-weight="normal" text-anchor="start" fill="#333" stroke="#333" stroke-width="0.12">pH=5, 1-cycle used</text>
<text x="31.40" y="260.20" font-family='"Liberation Serif", serif' font-size="9.2" font-weight="normal" text-anchor="start" fill="#333" stroke="#333" stroke-width="0.12">pH=3, 20-cycle used</text>
<text x="31.40" y="277.40" font-family='"Liberation Serif", serif' font-size="9.2" font-weight="normal" text-anchor="start" fill="#333" stroke="#333" stroke-width="0.12">pH=3, 5-cycle used</text>
<text x="31.40" y="293.60" font-family='"Liberation Serif", serif' font-size="9.2" font-weight="normal" text-anchor="start" fill="#333" stroke="#333" stroke-width="0.12">pH=3, 1-cycle used</text>
<text x="31.40" y="311.30" font-family='"Liberation Serif", serif' font-size="9.2" font-weight="normal" text-anchor="start" fill="#333" stroke="#333" stroke-width="0.12">Fresh</text>
<rect x="29.80" y="179.50" width="145.90" height="150.00" fill="none" stroke="#111" stroke-width="1.1"/>
<line x1="29.80" y1="329.50" x2="29.80" y2="326.90" stroke="#111" stroke-width="0.9"/>
<text x="29.80" y="340.00" font-family='"Liberation Serif", serif' font-size="8.9" font-weight="bold" text-anchor="middle" fill="#000" >2000</text>
<line x1="41.24" y1="329.50" x2="41.24" y2="328.00" stroke="#111" stroke-width="0.9"/>
<line x1="52.67" y1="329.50" x2="52.67" y2="326.90" stroke="#111" stroke-width="0.9"/>
<text x="52.67" y="340.00" font-family='"Liberation Serif", serif' font-size="8.9" font-weight="bold" text-anchor="middle" fill="#000" >1750</text>
<line x1="64.11" y1="329.50" x2="64.11" y2="328.00" stroke="#111" stroke-width="0.9"/>
<line x1="75.55" y1="329.50" x2="75.55" y2="326.90" stroke="#111" stroke-width="0.9"/>
<text x="75.55" y="340.00" font-family='"Liberation Serif", serif' font-size="8.9" font-weight="bold" text-anchor="middle" fill="#000" >1500</text>
<line x1="86.99" y1="329.50" x2="86.99" y2="328.00" stroke="#111" stroke-width="0.9"/>
<line x1="98.42" y1="329.50" x2="98.42" y2="326.90" stroke="#111" stroke-width="0.9"/>
<text x="98.42" y="340.00" font-family='"Liberation Serif", serif' font-size="8.9" font-weight="bold" text-anchor="middle" fill="#000" >1250</text>
<line x1="109.86" y1="329.50" x2="109.86" y2="328.00" stroke="#111" stroke-width="0.9"/>
<line x1="121.30" y1="329.50" x2="121.30" y2="326.90" stroke="#111" stroke-width="0.9"/>
<text x="121.30" y="340.00" font-family='"Liberation Serif", serif' font-size="8.9" font-weight="bold" text-anchor="middle" fill="#000" >1000</text>
<line x1="132.74" y1="329.50" x2="132.74" y2="328.00" stroke="#111" stroke-width="0.9"/>
<line x1="144.18" y1="329.50" x2="144.18" y2="326.90" stroke="#111" stroke-width="0.9"/>
<text x="144.18" y="340.00" font-family='"Liberation Serif", serif' font-size="8.9" font-weight="bold" text-anchor="middle" fill="#000" >750</text>
<line x1="155.61" y1="329.50" x2="155.61" y2="328.00" stroke="#111" stroke-width="0.9"/>
<line x1="167.05" y1="329.50" x2="167.05" y2="326.90" stroke="#111" stroke-width="0.9"/>
<text x="167.05" y="340.00" font-family='"Liberation Serif", serif' font-size="8.9" font-weight="bold" text-anchor="middle" fill="#000" >500</text>
<text x="102.75" y="356.10" font-family='"Liberation Serif", serif' font-size="9.8" font-weight="bold" text-anchor="middle">Wavenumber (cm<tspan font-size="5.5" dy="-3.5">-1</tspan><tspan dy="3.5">)</tspan></text>
<text transform="translate(21.20,260.00) rotate(-90)" font-family='"Liberation Serif", serif' font-size="9.9" font-weight="bold" text-anchor="middle" fill="#000">Transmittance (%)</text>
<text x="35.40" y="195.04" font-family='"Liberation Sans", sans-serif' font-size="17.2" font-weight="bold" text-anchor="start" fill="#000" >(d)</text>
<text x="70.00" y="193.50" font-family='"Liberation Serif", serif' font-size="12.8" font-weight="bold" textLength="64.50" lengthAdjust="spacingAndGlyphs">MIL-53(Fe)</text>
<line x1="70.00" y1="195.80" x2="134.50" y2="195.80" stroke="#111" stroke-width="1.1"/>
<path d="M205.1 199.5 205.6 199.5 206.1 199.5 206.6 199.5 207.1 199.5 207.6 199.5 208.1 199.5 208.6 199.5 209.1 199.5 209.6 199.5 210.1 199.5 210.6 199.5 211.1 199.5 211.6 199.5 212.1 199.5 212.6 199.5 213.1 199.5 213.6 199.5 214.1 199.5 214.6 199.5 215.1 199.5 215.6 199.5 216.1 199.5 216.6 199.5 217.1 199.5 217.6 199.5 218.1 199.5 218.6 199.5 219.1 199.5 219.6 199.5 220.1 199.5 220.6 199.5 221.1 199.5 221.6 199.5 222.1 199.5 222.6 199.5 223.1 199.5 223.6 199.5 224.1 199.5 224.6 199.5 225.1 199.5 225.6 199.7 226.1 199.9 226.6 200.3 227.1 200.7 227.6 201.1 228.1 201.5 228.6 202.0 229.1 202.6 229.6 203.3 230.1 204.0 230.6 204.7 231.1 205.5 231.6 206.1 232.1 206.8 232.6 207.5 233.1 208.3 233.6 209.2 234.1 210.2 234.6 211.0 235.1 211.7 235.6 212.1 236.1 212.6 236.6 213.1 237.1 213.4 237.6 213.7 238.1 213.6 238.6 213.0 239.1 212.1 239.6 211.0 240.1 210.2 240.6 209.7 241.1 209.8 241.6 210.5 242.1 211.2 242.6 212.0 243.1 212.8 243.6 213.5 244.1 213.8 244.6 213.7 245.1 213.3 245.6 212.5 246.1 211.6 246.6 210.7 247.1 209.9 247.6 208.7 248.1 208.0 248.6 207.4 249.1 206.8 249.6 206.7 250.1 207.1 250.6 207.7 251.1 208.7 251.6 209.7 252.1 210.6 252.6 211.4 253.1 211.9 253.6 211.9 254.1 211.6 254.6 211.2 255.1 210.7 255.6 210.4 256.1 210.1 256.6 210.1 257.1 210.6 257.6 211.3 258.1 212.2 258.6 213.6 259.1 214.7 259.6 215.8 260.1 217.2 260.6 217.8 261.1 218.3 261.6 218.4 262.1 218.0 262.6 217.6 263.1 217.3 263.6 216.7 264.1 216.1 264.6 215.5 265.1 214.4 265.6 213.5 266.1 212.6 266.6 211.4 267.1 210.6 267.6 209.8 268.1 209.3 268.6 208.9 269.1 208.7 269.6 208.5 270.1 208.2 270.6 208.1 271.1 207.8 271.6 207.6 272.1 207.5 272.6 207.2 273.1 207.0 273.6 206.8 274.1 206.3 274.6 206.0 275.1 205.9 275.6 205.8 276.1 205.9 276.6 205.9 277.1 205.5 277.6 205.6 278.1 205.5 278.6 205.4 279.1 205.7 279.6 205.7 280.1 205.6 280.6 206.0 281.1 206.1 281.6 206.7 282.1 207.2 282.6 207.5 283.1 207.7 283.6 207.7 284.1 207.9 284.6 208.2 285.1 208.6 285.6 208.9 286.1 209.2 286.6 209.2 287.1 209.3 287.6 209.4 288.1 209.6 288.6 209.7 289.1 210.1 289.6 210.5 290.1 210.6 290.6 211.0 291.1 211.0 291.6 210.7 292.1 210.8 292.6 210.7 293.1 210.6 293.6 210.8 294.1 210.7 294.6 210.5 295.1 210.4 295.6 210.4 296.1 210.1 296.6 209.6 297.1 209.4 297.6 208.6 298.1 208.2 298.6 207.9 299.1 207.2 299.6 207.0 300.1 206.7 300.6 206.2 301.1 205.8 301.6 205.3 302.1 205.2 302.6 204.9 303.1 204.4 303.6 204.1 304.1 203.8 304.6 203.6 305.1 203.4 305.6 203.5 306.1 203.3 306.6 203.5 307.1 203.7 307.6 203.8 308.1 204.0 308.6 203.8 309.1 203.9 309.6 204.1 310.1 204.2 310.6 204.4 311.1 204.6 311.6 204.5 312.1 204.4 312.6 204.3 313.1 204.3 313.6 204.2 314.1 204.3 314.6 204.7 315.1 204.9 315.6 205.4 316.1 206.4 316.6 207.7 317.1 210.0 317.6 211.2 318.1 211.1 318.6 209.7 319.1 207.5 319.6 206.7 320.1 207.1 320.6 208.8 321.1 212.0 321.6 215.1 322.1 215.9 322.6 214.3 323.1 211.5 323.6 209.1 324.1 207.9 324.6 207.5 325.1 207.5 325.6 207.7 326.1 207.9 326.6 207.9 327.1 207.7 327.6 207.6 328.1 207.6 328.6 207.7 329.1 207.7 329.6 207.7 330.1 207.6 330.6 207.6 331.1 207.7 331.6 207.8 332.1 207.9 332.6 208.0 333.1 208.1 333.6 208.3 334.1 208.4 334.6 208.5 335.1 208.4 335.6 208.3 336.1 208.2 336.6 208.1 337.1 208.2 337.6 208.4 338.1 208.3 338.6 208.2 339.1 208.3 339.6 208.3 340.1 208.7 340.6 209.1 341.1 209.5 341.6 209.9 342.1 210.2 342.6 210.6 343.1 210.7 343.6 210.8 344.1 210.8 344.6 210.7 345.1 210.8 345.6 210.7 346.1 210.6 346.6 210.6 347.1 210.0 347.6 209.8 348.1 209.5 348.6 209.1 349.1 209.1 349.6 208.5 350.1 208.0" fill="none" stroke="#9933ff" stroke-width="1.2" stroke-linejoin="round"/>
<path d="M205.1 216.1 205.6 216.1 206.1 216.1 206.6 216.1 207.1 216.1 207.6 216.1 208.1 216.1 208.6 216.1 209.1 216.1 209.6 216.1 210.1 216.1 210.6 216.1 211.1 216.1 211.6 216.1 212.1 216.1 212.6 216.1 213.1 216.1 213.6 216.1 214.1 216.1 214.6 216.1 215.1 216.1 215.6 216.1 216.1 216.1 216.6 216.1 217.1 216.1 217.6 216.1 218.1 216.1 218.6 216.1 219.1 216.1 219.6 216.1 220.1 216.1 220.6 216.1 221.1 216.1 221.6 216.1 222.1 216.1 222.6 216.1 223.1 216.1 223.6 216.1 224.1 216.1 224.6 216.1 225.1 216.1 225.6 216.3 226.1 216.5 226.6 216.9 227.1 217.3 227.6 217.7 228.1 218.1 228.6 218.6 229.1 219.2 229.6 219.8 230.1 220.5 230.6 221.3 231.1 222.0 231.6 222.7 232.1 223.3 232.6 223.9 233.1 224.5 233.6 225.0 234.1 225.9 234.6 226.6 235.1 227.4 235.6 228.2 236.1 228.7 236.6 229.1 237.1 229.5 237.6 229.8 238.1 229.8 238.6 229.4 239.1 228.6 239.6 227.6 240.1 226.7 240.6 226.1 241.1 226.3 241.6 226.8 242.1 227.7 242.6 228.5 243.1 229.0 243.6 229.7 244.1 230.0 244.6 230.3 245.1 230.2 245.6 229.5 246.1 228.7 246.6 227.4 247.1 226.5 247.6 225.5 248.1 224.7 248.6 224.1 249.1 223.6 249.6 223.5 250.1 223.6 250.6 224.2 251.1 225.2 251.6 226.2 252.1 227.5 252.6 228.3 253.1 228.8 253.6 228.8 254.1 228.5 254.6 228.2 255.1 227.6 255.6 227.1 256.1 227.0 256.6 226.7 257.1 227.0 257.6 227.6 258.1 228.4 258.6 229.6 259.1 231.0 259.6 232.3 260.1 233.2 260.6 234.4 261.1 234.8 261.6 235.0 262.1 235.1 262.6 234.5 263.1 233.8 263.6 233.2 264.1 232.5 264.6 231.8 265.1 231.0 265.6 230.0 266.1 229.0 266.6 228.2 267.1 227.5 267.6 226.8 268.1 226.2 268.6 225.7 269.1 225.3 269.6 225.1 270.1 224.8 270.6 224.3 271.1 223.9 271.6 223.6 272.1 223.3 272.6 223.3 273.1 223.2 273.6 223.0 274.1 222.9 274.6 222.5 275.1 222.5 275.6 222.1 276.1 222.2 276.6 222.2 277.1 221.8 277.6 222.0 278.1 221.9 278.6 222.0 279.1 222.1 279.6 222.1 280.1 222.4 280.6 222.5 281.1 222.6 281.6 222.6 282.1 222.4 282.6 222.5 283.1 222.6 283.6 222.8 284.1 223.1 284.6 223.0 285.1 223.1 285.6 223.1 286.1 223.2 286.6 223.5 287.1 223.6 287.6 223.9 288.1 224.2 288.6 224.3 289.1 224.5 289.6 224.7 290.1 224.6 290.6 225.0 291.1 225.2 291.6 225.2 292.1 225.3 292.6 225.4 293.1 225.4 293.6 225.4 294.1 225.3 294.6 224.8 295.1 224.4 295.6 224.3 296.1 224.1 296.6 224.1 297.1 224.0 297.6 223.4 298.1 223.1 298.6 222.6 299.1 222.2 299.6 221.8 300.1 221.5 300.6 221.3 301.1 220.9 301.6 220.7 302.1 220.5 302.6 220.3 303.1 220.2 303.6 219.8 304.1 219.4 304.6 219.4 305.1 219.2 305.6 219.6 306.1 219.9 306.6 219.9 307.1 219.7 307.6 219.6 308.1 219.6 308.6 219.4 309.1 219.5 309.6 219.4 310.1 219.4 310.6 219.2 311.1 219.4 311.6 219.5 312.1 219.4 312.6 219.8 313.1 219.9 313.6 219.8 314.1 220.0 314.6 220.0 315.1 219.9 315.6 220.3 316.1 221.1 316.6 222.3 317.1 223.9 317.6 225.0 318.1 225.0 318.6 224.0 319.1 222.7 319.6 222.1 320.1 222.0 320.6 223.2 321.1 225.7 321.6 228.2 322.1 228.8 322.6 227.6 323.1 225.2 323.6 223.2 324.1 222.5 324.6 222.5 325.1 222.7 325.6 222.9 326.1 223.1 326.6 222.9 327.1 222.7 327.6 222.7 328.1 222.6 328.6 222.8 329.1 222.6 329.6 222.3 330.1 222.4 330.6 222.4 331.1 222.6 331.6 222.8 332.1 222.5 332.6 222.5 333.1 222.7 333.6 223.0 334.1 223.2 334.6 223.1 335.1 222.9 335.6 222.9 336.1 223.1 336.6 223.0 337.1 223.2 337.6 223.1 338.1 222.9 338.6 222.7 339.1 222.7 339.6 222.9 340.1 222.9 340.6 223.4 341.1 223.3 341.6 223.7 342.1 224.2 342.6 224.6 343.1 225.1 343.6 225.0 344.1 225.0 344.6 224.9 345.1 224.9 345.6 224.9 346.1 224.8 346.6 224.9 347.1 224.6 347.6 224.5 348.1 224.2 348.6 223.6 349.1 223.2 349.6 222.9 350.1 222.6" fill="none" stroke="#333399" stroke-width="1.2" stroke-linejoin="round"/>
<path d="M205.1 232.7 205.6 232.7 206.1 232.7 206.6 232.7 207.1 232.7 207.6 232.7 208.1 232.7 208.6 232.7 209.1 232.7 209.6 232.7 210.1 232.7 210.6 232.7 211.1 232.7 211.6 232.7 212.1 232.7 212.6 232.7 213.1 232.7 213.6 232.7 214.1 232.7 214.6 232.7 215.1 232.7 215.6 232.7 216.1 232.7 216.6 232.7 217.1 232.7 217.6 232.7 218.1 232.7 218.6 232.7 219.1 232.7 219.6 232.7 220.1 232.7 220.6 232.7 221.1 232.7 221.6 232.7 222.1 232.7 222.6 232.7 223.1 232.7 223.6 232.7 224.1 232.7 224.6 232.7 225.1 232.7 225.6 232.9 226.1 233.2 226.6 233.6 227.1 234.0 227.6 234.5 228.1 235.0 228.6 235.5 229.1 236.2 229.6 237.0 230.1 237.8 230.6 238.6 231.1 239.5 231.6 240.3 232.1 241.1 232.6 241.9 233.1 242.8 233.6 243.6 234.1 244.3 234.6 245.2 235.1 245.9 235.6 246.7 236.1 247.7 236.6 248.5 237.1 248.8 237.6 248.9 238.1 248.6 238.6 247.9 239.1 246.6 239.6 245.5 240.1 244.9 240.6 244.4 241.1 244.7 241.6 245.4 242.1 246.2 242.6 247.4 243.1 248.2 243.6 249.0 244.1 249.4 244.6 249.2 245.1 248.7 245.6 247.9 246.1 246.5 246.6 245.3 247.1 244.4 247.6 243.4 248.1 242.6 248.6 241.8 249.1 241.0 249.6 240.8 250.1 241.1 250.6 241.8 251.1 243.1 251.6 244.6 252.1 245.8 252.6 246.8 253.1 247.2 253.6 246.7 254.1 246.4 254.6 246.0 255.1 245.4 255.6 245.1 256.1 244.8 256.6 244.7 257.1 244.9 257.6 245.5 258.1 246.4 258.6 247.8 259.1 249.2 259.6 250.9 260.1 252.5 260.6 253.5 261.1 254.2 261.6 254.2 262.1 253.9 262.6 253.4 263.1 252.7 263.6 252.1 264.1 251.2 264.6 250.5 265.1 249.8 265.6 248.6 266.1 247.7 266.6 246.7 267.1 245.5 267.6 244.7 268.1 243.8 268.6 243.1 269.1 242.9 269.6 242.7 270.1 242.5 270.6 242.1 271.1 242.0 271.6 241.9 272.1 241.8 272.6 241.5 273.1 241.2 273.6 240.9 274.1 240.8 274.6 241.0 275.1 240.8 275.6 240.5 276.1 240.2 276.6 240.0 277.1 239.8 277.6 239.8 278.1 239.8 278.6 239.3 279.1 239.2 279.6 239.0 280.1 238.9 280.6 238.6 281.1 238.4 281.6 238.0 282.1 237.8 282.6 238.0 283.1 238.2 283.6 238.3 284.1 238.3 284.6 238.3 285.1 238.1 285.6 238.2 286.1 238.4 286.6 238.5 287.1 238.5 287.6 238.8 288.1 238.9 288.6 238.9 289.1 239.3 289.6 239.3 290.1 239.6 290.6 239.9 291.1 240.0 291.6 240.0 292.1 239.8 292.6 239.9 293.1 239.8 293.6 239.9 294.1 239.7 294.6 239.5 295.1 239.5 295.6 239.3 296.1 239.3 296.6 239.2 297.1 238.8 297.6 238.4 298.1 238.1 298.6 237.9 299.1 237.8 299.6 237.6 300.1 237.3 300.6 237.0 301.1 236.6 301.6 236.0 302.1 235.7 302.6 235.2 303.1 235.1 303.6 235.2 304.1 235.1 304.6 235.2 305.1 235.2 305.6 235.3 306.1 235.6 306.6 235.5 307.1 235.5 307.6 235.6 308.1 235.4 308.6 235.2 309.1 235.5 309.6 235.4 310.1 235.6 310.6 235.9 311.1 235.9 311.6 235.8 312.1 235.8 312.6 235.6 313.1 235.6 313.6 235.7 314.1 235.7 314.6 235.9 315.1 236.4 315.6 236.4 316.1 237.1 316.6 238.2 317.1 239.3 317.6 240.4 318.1 240.4 318.6 239.4 319.1 238.2 319.6 237.6 320.1 237.7 320.6 238.9 321.1 240.9 321.6 243.1 322.1 243.7 322.6 242.6 323.1 240.6 323.6 238.9 324.1 238.2 324.6 237.8 325.1 237.7 325.6 237.6 326.1 237.6 326.6 237.9 327.1 238.2 327.6 238.1 328.1 238.1 328.6 237.9 329.1 237.8 329.6 238.0 330.1 238.1 330.6 238.2 331.1 238.1 331.6 237.9 332.1 237.8 332.6 237.6 333.1 237.6 333.6 237.9 334.1 237.8 334.6 238.0 335.1 237.9 335.6 238.1 336.1 238.3 336.6 238.2 337.1 238.3 337.6 238.1 338.1 238.1 338.6 238.3 339.1 238.3 339.6 238.4 340.1 238.6 340.6 238.7 341.1 238.9 341.6 238.9 342.1 238.9 342.6 239.1 343.1 239.2 343.6 239.4 344.1 239.9 344.6 240.0 345.1 240.0 345.6 239.7 346.1 239.3 346.6 239.0 347.1 238.7 347.6 238.9 348.1 238.7 348.6 238.7 349.1 239.1 349.6 238.8 350.1 238.6" fill="none" stroke="#339933" stroke-width="1.2" stroke-linejoin="round"/>
<path d="M205.1 251.0 205.6 251.0 206.1 251.0 206.6 251.0 207.1 251.0 207.6 251.0 208.1 251.0 208.6 251.0 209.1 251.0 209.6 251.0 210.1 251.0 210.6 251.0 211.1 251.0 211.6 251.0 212.1 251.0 212.6 251.0 213.1 251.0 213.6 251.0 214.1 251.0 214.6 251.0 215.1 251.0 215.6 251.0 216.1 251.0 216.6 251.0 217.1 251.0 217.6 251.0 218.1 251.0 218.6 251.0 219.1 251.0 219.6 251.0 220.1 251.0 220.6 251.0 221.1 251.0 221.6 251.0 222.1 251.0 222.6 251.0 223.1 251.0 223.6 251.0 224.1 251.0 224.6 251.0 225.1 251.0 225.6 251.2 226.1 251.5 226.6 251.8 227.1 252.2 227.6 252.7 228.1 253.1 228.6 253.6 229.1 254.2 229.6 254.9 230.1 255.6 230.6 256.4 231.1 257.1 231.6 257.9 232.1 258.5 232.6 259.1 233.1 259.9 233.6 260.7 234.1 261.7 234.6 262.6 235.1 263.4 235.6 264.0 236.1 264.5 236.6 264.8 237.1 265.3 237.6 265.5 238.1 265.4 238.6 265.0 239.1 264.0 239.6 263.1 240.1 262.5 240.6 261.9 241.1 261.9 241.6 262.4 242.1 263.0 242.6 264.1 243.1 265.0 243.6 265.7 244.1 266.1 244.6 266.0 245.1 265.6 245.6 265.1 246.1 264.3 246.6 263.0 247.1 262.0 247.6 260.9 248.1 259.8 248.6 259.2 249.1 258.7 249.6 258.5 250.1 258.7 250.6 259.7 251.1 260.9 251.6 262.0 252.1 263.0 252.6 263.7 253.1 263.9 253.6 263.9 254.1 263.7 254.6 263.3 255.1 263.1 255.6 262.8 256.1 262.4 256.6 262.3 257.1 262.4 257.6 262.9 258.1 264.0 258.6 265.1 259.1 266.2 259.6 267.6 260.1 268.7 260.6 269.8 261.1 270.5 261.6 270.4 262.1 270.3 262.6 269.9 263.1 269.6 263.6 268.9 264.1 268.0 264.6 267.3 265.1 266.2 265.6 265.3 266.1 264.2 266.6 263.2 267.1 262.5 267.6 261.7 268.1 261.3 268.6 260.9 269.1 260.5 269.6 260.4 270.1 260.2 270.6 259.8 271.1 259.6 271.6 258.9 272.1 258.6 272.6 258.5 273.1 258.2 273.6 258.4 274.1 258.4 274.6 258.2 275.1 258.2 275.6 257.9 276.1 258.0 276.6 257.7 277.1 257.6 277.6 257.5 278.1 257.2 278.6 257.4 279.1 257.3 279.6 257.1 280.1 256.8 280.6 256.7 281.1 256.5 281.6 256.5 282.1 256.6 282.6 256.5 283.1 256.4 283.6 256.3 284.1 256.2 284.6 256.3 285.1 256.6 285.6 256.7 286.1 256.8 286.6 256.9 287.1 256.9 287.6 257.2 288.1 257.3 288.6 257.5 289.1 257.5 289.6 257.7 290.1 257.7 290.6 257.7 291.1 258.0 291.6 258.2 292.1 258.4 292.6 258.6 293.1 258.2 293.6 258.1 294.1 258.1 294.6 257.7 295.1 257.6 295.6 257.3 296.1 257.1 296.6 257.1 297.1 257.0 297.6 256.9 298.1 256.7 298.6 256.3 299.1 255.9 299.6 255.5 300.1 255.3 300.6 255.1 301.1 255.0 301.6 254.9 302.1 254.8 302.6 254.7 303.1 254.4 303.6 254.2 304.1 253.8 304.6 254.0 305.1 253.9 305.6 253.8 306.1 253.8 306.6 253.6 307.1 253.5 307.6 253.7 308.1 253.9 308.6 253.8 309.1 253.9 309.6 253.7 310.1 253.6 310.6 253.6 311.1 253.8 311.6 254.1 312.1 254.1 312.6 254.3 313.1 254.0 313.6 253.7 314.1 253.9 314.6 253.9 315.1 254.3 315.6 254.6 316.1 255.1 316.6 256.1 317.1 257.6 317.6 258.3 318.1 258.2 318.6 257.2 319.1 255.8 319.6 255.3 320.1 255.6 320.6 256.8 321.1 258.8 321.6 260.8 322.1 261.5 322.6 260.5 323.1 258.6 323.6 256.8 324.1 256.1 324.6 255.9 325.1 256.0 325.6 256.3 326.1 256.5 326.6 256.6 327.1 256.5 327.6 256.5 328.1 256.5 328.6 256.6 329.1 256.8 329.6 256.7 330.1 256.6 330.6 256.4 331.1 256.2 331.6 256.1 332.1 256.1 332.6 256.2 333.1 256.4 333.6 256.4 334.1 256.6 334.6 256.5 335.1 256.7 335.6 256.6 336.1 256.4 336.6 256.5 337.1 256.6 337.6 256.6 338.1 256.5 338.6 256.7 339.1 256.6 339.6 256.8 340.1 257.2 340.6 257.3 341.1 257.5 341.6 257.6 342.1 257.6 342.6 257.7 343.1 257.9 343.6 258.0 344.1 258.4 344.6 258.4 345.1 258.4 345.6 258.2 346.1 258.0 346.6 258.0 347.1 257.8 347.6 257.9 348.1 257.5 348.6 257.2 349.1 257.0 349.6 256.5 350.1 256.3" fill="none" stroke="#ff33ff" stroke-width="1.2" stroke-linejoin="round"/>
<path d="M205.1 268.4 205.6 268.4 206.1 268.4 206.6 268.4 207.1 268.4 207.6 268.4 208.1 268.4 208.6 268.4 209.1 268.4 209.6 268.4 210.1 268.4 210.6 268.4 211.1 268.4 211.6 268.4 212.1 268.4 212.6 268.4 213.1 268.4 213.6 268.4 214.1 268.4 214.6 268.4 215.1 268.4 215.6 268.4 216.1 268.4 216.6 268.4 217.1 268.4 217.6 268.4 218.1 268.4 218.6 268.4 219.1 268.4 219.6 268.4 220.1 268.4 220.6 268.4 221.1 268.4 221.6 268.4 222.1 268.4 222.6 268.4 223.1 268.4 223.6 268.4 224.1 268.4 224.6 268.4 225.1 268.4 225.6 268.6 226.1 268.9 226.6 269.2 227.1 269.6 227.6 270.1 228.1 270.5 228.6 271.0 229.1 271.6 229.6 272.3 230.1 273.0 230.6 273.8 231.1 274.6 231.6 275.4 232.1 276.1 232.6 276.7 233.1 277.5 233.6 278.2 234.1 279.0 234.6 279.7 235.1 280.2 235.6 280.8 236.1 281.3 236.6 282.0 237.1 282.5 237.6 282.7 238.1 282.8 238.6 282.3 239.1 281.4 239.6 280.3 240.1 279.4 240.6 278.9 241.1 279.1 241.6 279.6 242.1 280.4 242.6 281.4 243.1 282.4 243.6 283.3 244.1 283.6 244.6 283.6 245.1 283.0 245.6 282.1 246.1 281.3 246.6 280.2 247.1 279.3 247.6 278.4 248.1 277.5 248.6 276.6 249.1 275.9 249.6 275.7 250.1 275.9 250.6 276.8 251.1 277.7 251.6 278.9 252.1 280.1 252.6 281.1 253.1 281.5 253.6 281.5 254.1 281.1 254.6 280.6 255.1 280.0 255.6 279.7 256.1 279.5 256.6 279.6 257.1 279.9 257.6 280.5 258.1 281.4 258.6 282.5 259.1 283.9 259.6 285.2 260.1 286.4 260.6 287.4 261.1 287.9 261.6 288.0 262.1 287.8 262.6 287.3 263.1 286.8 263.6 286.1 264.1 285.2 264.6 284.3 265.1 283.4 265.6 282.4 266.1 281.4 266.6 280.5 267.1 279.6 267.6 278.9 268.1 278.5 268.6 278.3 269.1 278.1 269.6 278.1 270.1 277.7 270.6 277.3 271.1 277.1 271.6 276.5 272.1 276.3 272.6 276.1 273.1 275.9 273.6 276.1 274.1 275.9 274.6 275.5 275.1 275.3 275.6 274.9 276.1 275.0 276.6 275.0 277.1 275.1 277.6 275.0 278.1 274.8 278.6 274.7 279.1 274.4 279.6 274.1 280.1 273.9 280.6 273.7 281.1 273.2 281.6 273.3 282.1 273.2 282.6 273.3 283.1 273.5 283.6 273.5 284.1 273.5 284.6 273.5 285.1 273.5 285.6 273.7 286.1 273.7 286.6 274.0 287.1 274.1 287.6 274.2 288.1 274.4 288.6 274.4 289.1 274.7 289.6 274.8 290.1 274.8 290.6 274.9 291.1 274.9 291.6 274.7 292.1 274.9 292.6 275.1 293.1 274.8 293.6 275.0 294.1 274.9 294.6 274.5 295.1 274.6 295.6 274.4 296.1 274.2 296.6 274.2 297.1 274.1 297.6 273.9 298.1 273.7 298.6 273.4 299.1 273.1 299.6 273.0 300.1 272.5 300.6 272.2 301.1 272.0 301.6 271.5 302.1 271.5 302.6 271.3 303.1 271.5 303.6 271.5 304.1 271.4 304.6 271.5 305.1 271.3 305.6 271.0 306.1 270.9 306.6 270.9 307.1 270.7 307.6 270.9 308.1 270.9 308.6 270.9 309.1 270.8 309.6 270.6 310.1 270.6 310.6 270.6 311.1 270.9 311.6 271.2 312.1 271.2 312.6 271.3 313.1 271.2 313.6 271.4 314.1 271.5 314.6 271.3 315.1 271.3 315.6 271.2 316.1 271.5 316.6 272.6 317.1 273.8 317.6 274.8 318.1 274.9 318.6 274.2 319.1 273.3 319.6 272.8 320.1 273.0 320.6 273.8 321.1 275.4 321.6 277.0 322.1 277.6 322.6 276.7 323.1 275.1 323.6 273.8 324.1 273.3 324.6 273.3 325.1 273.3 325.6 273.4 326.1 273.2 326.6 273.2 327.1 273.4 327.6 273.2 328.1 273.2 328.6 273.3 329.1 273.3 329.6 273.3 330.1 273.1 330.6 273.1 331.1 272.9 331.6 273.1 332.1 273.2 332.6 273.3 333.1 273.4 333.6 273.4 334.1 273.4 334.6 273.5 335.1 273.2 335.6 273.2 336.1 273.4 336.6 273.2 337.1 273.6 337.6 273.8 338.1 273.9 338.6 274.1 339.1 274.1 339.6 273.9 340.1 273.9 340.6 274.0 341.1 274.1 341.6 274.4 342.1 274.6 342.6 274.5 343.1 274.7 343.6 274.8 344.1 275.1 344.6 275.4 345.1 275.3 345.6 275.3 346.1 275.1 346.6 274.9 347.1 274.7 347.6 274.3 348.1 274.1 348.6 274.1 349.1 273.7 349.6 273.6 350.1 273.3" fill="none" stroke="#3333ff" stroke-width="1.2" stroke-linejoin="round"/>
<path d="M205.1 285.0 205.6 285.0 206.1 285.0 206.6 285.0 207.1 285.0 207.6 285.0 208.1 285.0 208.6 285.0 209.1 285.0 209.6 285.0 210.1 285.0 210.6 285.0 211.1 285.0 211.6 285.0 212.1 285.0 212.6 285.0 213.1 285.0 213.6 285.0 214.1 285.0 214.6 285.0 215.1 285.0 215.6 285.0 216.1 285.0 216.6 285.0 217.1 285.0 217.6 285.0 218.1 285.0 218.6 285.0 219.1 285.0 219.6 285.0 220.1 285.0 220.6 285.0 221.1 285.0 221.6 285.0 222.1 285.0 222.6 285.0 223.1 285.0 223.6 285.0 224.1 285.0 224.6 285.0 225.1 285.0 225.6 285.2 226.1 285.5 226.6 285.8 227.1 286.2 227.6 286.7 228.1 287.1 228.6 287.6 229.1 288.2 229.6 288.9 230.1 289.6 230.6 290.4 231.1 291.2 231.6 291.9 232.1 292.6 232.6 293.2 233.1 293.9 233.6 294.6 234.1 295.6 234.6 296.5 235.1 297.5 235.6 298.1 236.1 298.5 236.6 298.7 237.1 298.8 237.6 299.0 238.1 299.2 238.6 298.9 239.1 298.0 239.6 296.9 240.1 296.0 240.6 295.4 241.1 295.5 241.6 296.5 242.1 297.3 242.6 298.3 243.1 299.0 243.6 299.5 244.1 299.7 244.6 299.6 245.1 299.6 245.6 299.0 246.1 298.0 246.6 297.0 247.1 295.9 247.6 294.8 248.1 294.0 248.6 293.5 249.1 293.1 249.6 292.7 250.1 292.8 250.6 293.2 251.1 294.1 251.6 295.6 252.1 296.9 252.6 297.8 253.1 298.1 253.6 297.9 254.1 297.4 254.6 296.9 255.1 296.5 255.6 296.2 256.1 296.1 256.6 296.2 257.1 296.4 257.6 297.0 258.1 297.8 258.6 299.0 259.1 300.3 259.6 301.5 260.1 302.8 260.6 303.8 261.1 304.3 261.6 304.4 262.1 304.3 262.6 303.9 263.1 303.3 263.6 302.6 264.1 301.9 264.6 301.0 265.1 300.1 265.6 299.2 266.1 298.3 266.6 297.5 267.1 296.9 267.6 296.0 268.1 295.4 268.6 294.9 269.1 294.4 269.6 294.1 270.1 293.9 270.6 293.5 271.1 293.2 271.6 293.2 272.1 292.8 272.6 292.6 273.1 292.2 273.6 292.0 274.1 291.7 274.6 291.4 275.1 291.1 275.6 291.0 276.1 291.1 276.6 291.2 277.1 291.4 277.6 291.2 278.1 291.2 278.6 291.1 279.1 291.0 279.6 290.9 280.1 290.8 280.6 290.8 281.1 290.9 281.6 291.0 282.1 291.3 282.6 291.4 283.1 291.7 283.6 291.9 284.1 291.7 284.6 291.7 285.1 291.8 285.6 291.7 286.1 292.1 286.6 292.5 287.1 292.6 287.6 293.0 288.1 293.3 288.6 293.5 289.1 293.6 289.6 293.6 290.1 293.5 290.6 293.7 291.1 293.9 291.6 293.9 292.1 294.0 292.6 294.0 293.1 293.9 293.6 294.0 294.1 293.9 294.6 293.7 295.1 293.7 295.6 293.5 296.1 293.2 296.6 292.9 297.1 292.4 297.6 292.2 298.1 292.0 298.6 291.6 299.1 291.1 299.6 290.9 300.1 290.7 300.6 290.5 301.1 290.5 301.6 290.0 302.1 289.9 302.6 289.4 303.1 289.2 303.6 289.1 304.1 288.6 304.6 288.6 305.1 288.3 305.6 288.3 306.1 288.2 306.6 288.4 307.1 288.6 307.6 288.4 308.1 288.4 308.6 288.2 309.1 288.2 309.6 288.2 310.1 288.7 310.6 288.7 311.1 288.7 311.6 288.7 312.1 288.5 312.6 288.5 313.1 288.7 313.6 289.0 314.1 289.1 314.6 289.2 315.1 289.4 315.6 289.6 316.1 290.3 316.6 291.6 317.1 293.1 317.6 294.3 318.1 294.3 318.6 292.9 319.1 291.7 319.6 290.9 320.1 291.2 320.6 292.6 321.1 295.1 321.6 297.6 322.1 298.2 322.6 297.0 323.1 294.6 323.6 292.6 324.1 291.7 324.6 291.4 325.1 291.2 325.6 291.3 326.1 291.4 326.6 291.5 327.1 291.5 327.6 291.5 328.1 291.3 328.6 291.5 329.1 291.6 329.6 291.7 330.1 291.7 330.6 291.7 331.1 291.8 331.6 291.9 332.1 292.0 332.6 291.8 333.1 292.1 333.6 291.9 334.1 291.6 334.6 291.8 335.1 291.6 335.6 291.7 336.1 291.9 336.6 291.9 337.1 291.9 337.6 291.9 338.1 291.8 338.6 291.6 339.1 291.6 339.6 291.9 340.1 292.2 340.6 292.6 341.1 292.9 341.6 293.2 342.1 293.3 342.6 293.6 343.1 293.9 343.6 293.9 344.1 294.0 344.6 294.0 345.1 293.8 345.6 293.6 346.1 293.7 346.6 293.4 347.1 293.3 347.6 293.4 348.1 293.1 348.6 293.1 349.1 292.7 349.6 292.2 350.1 291.9" fill="none" stroke="#e83030" stroke-width="1.2" stroke-linejoin="round"/>
<path d="M205.1 304.5 205.6 304.5 206.1 304.5 206.6 304.5 207.1 304.5 207.6 304.5 208.1 304.5 208.6 304.5 209.1 304.5 209.6 304.5 210.1 304.5 210.6 304.5 211.1 304.5 211.6 304.5 212.1 304.5 212.6 304.5 213.1 304.5 213.6 304.5 214.1 304.5 214.6 304.5 215.1 304.5 215.6 304.5 216.1 304.5 216.6 304.5 217.1 304.5 217.6 304.5 218.1 304.5 218.6 304.5 219.1 304.5 219.6 304.5 220.1 304.5 220.6 304.5 221.1 304.5 221.6 304.5 222.1 304.5 222.6 304.5 223.1 304.5 223.6 304.5 224.1 304.5 224.6 304.5 225.1 304.5 225.6 304.5 226.1 304.5 226.6 304.5 227.1 304.6 227.6 304.9 228.1 305.3 228.6 305.7 229.1 306.3 229.6 306.8 230.1 307.4 230.6 308.0 231.1 308.6 231.6 309.2 232.1 309.6 232.6 310.1 233.1 310.6 233.6 311.0 234.1 311.7 234.6 312.3 235.1 313.0 235.6 313.5 236.1 313.9 236.6 314.3 237.1 314.7 237.6 315.0 238.1 315.1 238.6 315.3 239.1 315.1 239.6 314.7 240.1 313.6 240.6 312.5 241.1 311.9 241.6 312.1 242.1 312.6 242.6 313.3 243.1 314.0 243.6 313.9 244.1 313.9 244.6 313.6 245.1 313.1 245.6 312.7 246.1 311.9 246.6 311.2 247.1 310.8 247.6 310.0 248.1 309.7 248.6 309.4 249.1 309.0 249.6 308.9 250.1 308.6 250.6 308.6 251.1 308.4 251.6 308.6 252.1 309.4 252.6 310.1 253.1 311.4 253.6 312.6 254.1 313.4 254.6 314.1 255.1 314.1 255.6 314.1 256.1 313.6 256.6 313.1 257.1 313.1 257.6 313.0 258.1 313.9 258.6 315.1 259.1 316.4 259.6 317.7 260.1 319.0 260.6 320.3 261.1 321.2 261.6 321.7 262.1 321.6 262.6 320.9 263.1 320.2 263.6 319.4 264.1 318.2 264.6 317.6 265.1 316.6 265.6 315.5 266.1 314.7 266.6 313.4 267.1 312.3 267.6 311.3 268.1 310.4 268.6 309.6 269.1 308.9 269.6 308.7 270.1 308.4 270.6 308.0 271.1 307.7 271.6 307.2 272.1 307.0 272.6 306.9 273.1 306.7 273.6 306.5 274.1 306.4 274.6 306.3 275.1 306.2 275.6 306.1 276.1 305.7 276.6 305.3 277.1 305.2 277.6 305.1 278.1 305.1 278.6 305.0 279.1 304.9 279.6 304.7 280.1 304.5 280.6 304.5 281.1 304.6 281.6 304.7 282.1 304.7 282.6 304.8 283.1 304.6 283.6 304.8 284.1 304.9 284.6 304.9 285.1 304.8 285.6 304.8 286.1 304.6 286.6 304.4 287.1 304.5 287.6 304.4 288.1 304.5 288.6 304.7 289.1 304.7 289.6 304.4 290.1 304.2 290.6 304.3 291.1 304.0 291.6 304.3 292.1 304.4 292.6 304.1 293.1 304.3 293.6 304.0 294.1 304.1 294.6 304.3 295.1 304.1 295.6 304.2 296.1 304.3 296.6 304.2 297.1 304.3 297.6 304.5 298.1 304.2 298.6 304.1 299.1 304.1 299.6 303.9 300.1 304.2 300.6 304.0 301.1 304.0 301.6 303.9 302.1 304.0 302.6 304.3 303.1 304.2 303.6 304.1 304.1 304.0 304.6 303.7 305.1 303.8 305.6 303.9 306.1 303.9 306.6 304.2 307.1 304.2 307.6 304.1 308.1 304.0 308.6 303.8 309.1 303.9 309.6 304.0 310.1 304.3 310.6 304.5 311.1 304.5 311.6 304.3 312.1 304.2 312.6 304.1 313.1 303.9 313.6 304.1 314.1 304.0 314.6 304.1 315.1 304.3 315.6 304.6 316.1 305.6 316.6 306.8 317.1 308.9 317.6 311.1 318.1 311.3 318.6 310.3 319.1 308.3 319.6 306.6 320.1 306.2 320.6 307.2 321.1 309.9 321.6 313.7 322.1 316.4 322.6 316.1 323.1 313.3 323.6 309.4 324.1 307.3 324.6 306.6 325.1 306.3 325.6 306.6 326.1 306.6 326.6 306.5 327.1 306.4 327.6 306.6 328.1 306.6 328.6 306.6 329.1 307.0 329.6 306.8 330.1 306.9 330.6 307.1 331.1 307.0 331.6 307.1 332.1 307.2 332.6 306.8 333.1 306.8 333.6 306.9 334.1 307.0 334.6 307.3 335.1 307.4 335.6 307.3 336.1 307.4 336.6 307.5 337.1 307.5 337.6 307.5 338.1 307.7 338.6 307.9 339.1 308.3 339.6 308.9 340.1 309.0 340.6 309.4 341.1 309.9 341.6 310.1 342.1 311.1 342.6 311.4 343.1 311.5 343.6 311.7 344.1 311.4 344.6 311.3 345.1 311.0 345.6 310.8 346.1 310.6 346.6 310.4 347.1 310.3 347.6 309.8 348.1 309.2 348.6 308.7 349.1 307.9 349.6 307.4 350.1 306.8" fill="none" stroke="#222222" stroke-width="1.2" stroke-linejoin="round"/>
<text x="206.20" y="208.00" font-family='"Liberation Serif", serif' font-size="9.2" font-weight="normal" text-anchor="start" fill="#333" stroke="#333" stroke-width="0.12">pH=5, 20-cycle used</text>
<text x="206.20" y="224.60" font-family='"Liberation Serif", serif' font-size="9.2" font-weight="normal" text-anchor="start" fill="#333" stroke="#333" stroke-width="0.12">pH=5, 5-cycle used</text>
<text x="206.20" y="241.20" font-family='"Liberation Serif", serif' font-size="9.2" font-weight="normal" text-anchor="start" fill="#333" stroke="#333" stroke-width="0.12">pH=5, 1-cycle used</text>
<text x="206.20" y="259.90" font-family='"Liberation Serif", serif' font-size="9.2" font-weight="normal" text-anchor="start" fill="#333" stroke="#333" stroke-width="0.12">pH=3, 20-cycle used</text>
<text x="206.20" y="276.90" font-family='"Liberation Serif", serif' font-size="9.2" font-weight="normal" text-anchor="start" fill="#333" stroke="#333" stroke-width="0.12">pH=3, 5-cycle used</text>
<text x="206.20" y="293.50" font-family='"Liberation Serif", serif' font-size="9.2" font-weight="normal" text-anchor="start" fill="#333" stroke="#333" stroke-width="0.12">pH=3, 1-cycle used</text>
<text x="206.20" y="313.00" font-family='"Liberation Serif", serif' font-size="9.2" font-weight="normal" text-anchor="start" fill="#333" stroke="#333" stroke-width="0.12">Fresh</text>
<rect x="204.60" y="179.50" width="146.00" height="150.00" fill="none" stroke="#111" stroke-width="1.1"/>
<line x1="204.60" y1="329.50" x2="204.60" y2="326.90" stroke="#111" stroke-width="0.9"/>
<text x="204.60" y="340.00" font-family='"Liberation Serif", serif' font-size="8.9" font-weight="bold" text-anchor="middle" fill="#000" >2000</text>
<line x1="216.04" y1="329.50" x2="216.04" y2="328.00" stroke="#111" stroke-width="0.9"/>
<line x1="227.47" y1="329.50" x2="227.47" y2="326.90" stroke="#111" stroke-width="0.9"/>
<text x="227.47" y="340.00" font-family='"Liberation Serif", serif' font-size="8.9" font-weight="bold" text-anchor="middle" fill="#000" >1750</text>
<line x1="238.91" y1="329.50" x2="238.91" y2="328.00" stroke="#111" stroke-width="0.9"/>
<line x1="250.35" y1="329.50" x2="250.35" y2="326.90" stroke="#111" stroke-width="0.9"/>
<text x="250.35" y="340.00" font-family='"Liberation Serif", serif' font-size="8.9" font-weight="bold" text-anchor="middle" fill="#000" >1500</text>
<line x1="261.79" y1="329.50" x2="261.79" y2="328.00" stroke="#111" stroke-width="0.9"/>
<line x1="273.23" y1="329.50" x2="273.23" y2="326.90" stroke="#111" stroke-width="0.9"/>
<text x="273.23" y="340.00" font-family='"Liberation Serif", serif' font-size="8.9" font-weight="bold" text-anchor="middle" fill="#000" >1250</text>
<line x1="284.66" y1="329.50" x2="284.66" y2="328.00" stroke="#111" stroke-width="0.9"/>
<line x1="296.10" y1="329.50" x2="296.10" y2="326.90" stroke="#111" stroke-width="0.9"/>
<text x="296.10" y="340.00" font-family='"Liberation Serif", serif' font-size="8.9" font-weight="bold" text-anchor="middle" fill="#000" >1000</text>
<line x1="307.54" y1="329.50" x2="307.54" y2="328.00" stroke="#111" stroke-width="0.9"/>
<line x1="318.98" y1="329.50" x2="318.98" y2="326.90" stroke="#111" stroke-width="0.9"/>
<text x="318.98" y="340.00" font-family='"Liberation Serif", serif' font-size="8.9" font-weight="bold" text-anchor="middle" fill="#000" >750</text>
<line x1="330.41" y1="329.50" x2="330.41" y2="328.00" stroke="#111" stroke-width="0.9"/>
<line x1="341.85" y1="329.50" x2="341.85" y2="326.90" stroke="#111" stroke-width="0.9"/>
<text x="341.85" y="340.00" font-family='"Liberation Serif", serif' font-size="8.9" font-weight="bold" text-anchor="middle" fill="#000" >500</text>
<text x="277.60" y="356.10" font-family='"Liberation Serif", serif' font-size="9.8" font-weight="bold" text-anchor="middle">Wavenumber (cm<tspan font-size="5.5" dy="-3.5">-1</tspan><tspan dy="3.5">)</tspan></text>
<text transform="translate(196.70,260.00) rotate(-90)" font-family='"Liberation Serif", serif' font-size="9.9" font-weight="bold" text-anchor="middle" fill="#000">Transmittance (%)</text>
<text x="210.00" y="194.84" font-family='"Liberation Sans", sans-serif' font-size="17.2" font-weight="bold" text-anchor="start" fill="#000" >(e)</text>
<text x="241.90" y="193.50" font-family='"Liberation Serif", serif' font-size="12.8" font-weight="bold" textLength="72.00" lengthAdjust="spacingAndGlyphs">MIL-100(Fe)</text>
<line x1="241.90" y1="195.80" x2="313.90" y2="195.80" stroke="#111" stroke-width="1.1"/>
<path d="M380.5 198.8 381.0 198.8 381.5 198.8 382.0 198.8 382.5 198.8 383.0 198.8 383.5 198.8 384.0 198.8 384.5 198.8 385.0 198.8 385.5 198.8 386.0 198.8 386.5 198.8 387.0 198.8 387.5 198.8 388.0 198.8 388.5 198.8 389.0 198.8 389.5 198.8 390.0 198.8 390.5 198.8 391.0 198.8 391.5 198.8 392.0 198.8 392.5 198.8 393.0 198.8 393.5 198.8 394.0 198.8 394.5 198.8 395.0 198.8 395.5 198.8 396.0 198.8 396.5 198.8 397.0 198.8 397.5 198.8 398.0 198.8 398.5 198.8 399.0 198.8 399.5 198.8 400.0 198.8 400.5 198.8 401.0 198.8 401.5 198.8 402.0 198.8 402.5 198.8 403.0 198.8 403.5 198.8 404.0 198.8 404.5 199.6 405.0 201.1 405.5 202.8 406.0 205.4 406.5 209.2 407.0 213.1 407.5 216.4 408.0 218.1 408.5 218.0 409.0 217.2 409.5 215.9 410.0 214.0 410.5 212.1 411.0 209.8 411.5 208.0 412.0 206.9 412.5 206.1 413.0 205.5 413.5 205.0 414.0 204.4 414.5 203.9 415.0 203.5 415.5 203.2 416.0 203.0 416.5 202.9 417.0 203.2 417.5 203.4 418.0 203.7 418.5 204.1 419.0 204.6 419.5 205.2 420.0 205.5 420.5 205.6 421.0 205.4 421.5 204.9 422.0 204.2 422.5 203.6 423.0 202.4 423.5 201.6 424.0 200.8 424.5 199.9 425.0 199.3 425.5 199.1 426.0 198.8 426.5 199.0 427.0 199.4 427.5 200.2 428.0 201.4 428.5 202.9 429.0 204.5 429.5 205.8 430.0 207.0 430.5 207.9 431.0 208.7 431.5 209.0 432.0 208.9 432.5 208.4 433.0 207.2 433.5 205.6 434.0 204.3 434.5 202.7 435.0 201.5 435.5 201.2 436.0 201.0 436.5 201.1 437.0 201.6 437.5 202.1 438.0 202.9 438.5 204.0 439.0 205.0 439.5 206.2 440.0 207.5 440.5 208.3 441.0 209.3 441.5 210.2 442.0 210.7 442.5 211.4 443.0 212.0 443.5 212.4 444.0 212.6 444.5 212.5 445.0 212.0 445.5 211.1 446.0 210.1 446.5 209.0 447.0 207.7 447.5 206.6 448.0 205.4 448.5 204.4 449.0 203.7 449.5 203.1 450.0 202.9 450.5 202.9 451.0 202.9 451.5 203.1 452.0 203.1 452.5 202.8 453.0 202.9 453.5 202.8 454.0 202.7 454.5 203.0 455.0 202.8 455.5 202.4 456.0 202.5 456.5 202.5 457.0 203.1 457.5 204.0 458.0 204.9 458.5 205.8 459.0 206.6 459.5 207.4 460.0 208.2 460.5 209.1 461.0 209.9 461.5 210.6 462.0 211.2 462.5 211.9 463.0 212.5 463.5 213.3 464.0 213.9 464.5 214.8 465.0 215.6 465.5 216.1 466.0 216.8 466.5 217.1 467.0 217.0 467.5 217.2 468.0 217.1 468.5 216.9 469.0 217.1 469.5 216.9 470.0 216.7 470.5 216.5 471.0 216.4 471.5 216.0 472.0 215.5 472.5 215.1 473.0 214.3 473.5 213.7 474.0 213.3 474.5 212.5 475.0 212.1 475.5 211.6 476.0 210.9 476.5 210.3 477.0 209.6 477.5 209.2 478.0 208.7 478.5 207.9 479.0 207.2 479.5 206.6 480.0 206.1 480.5 205.5 481.0 205.1 481.5 204.5 482.0 204.4 482.5 204.1 483.0 203.9 483.5 203.6 484.0 203.0 484.5 202.7 485.0 202.5 485.5 202.2 486.0 202.1 486.5 201.8 487.0 201.5 487.5 201.0 488.0 200.7 488.5 200.5 489.0 200.3 489.5 200.2 490.0 200.7 490.5 201.4 491.0 203.0 491.5 204.5 492.0 204.0 492.5 202.5 493.0 200.7 493.5 200.2 494.0 200.9 494.5 202.2 495.0 204.8 495.5 206.6 496.0 205.6 496.5 203.3 497.0 201.2 497.5 199.9 498.0 199.6 498.5 199.7 499.0 199.7 499.5 199.7 500.0 199.7 500.5 199.9 501.0 200.1 501.5 200.4 502.0 200.6 502.5 200.6 503.0 200.8 503.5 201.1 504.0 201.5 504.5 201.9 505.0 202.2 505.5 202.5 506.0 202.9 506.5 203.3 507.0 203.8 507.5 204.2 508.0 204.7 508.5 205.2 509.0 205.7 509.5 206.1 510.0 206.4 510.5 206.5 511.0 206.6 511.5 206.6 512.0 206.6 512.5 206.8 513.0 206.9 513.5 206.6 514.0 206.3 514.5 206.1 515.0 205.6 515.5 205.4 516.0 205.1 516.5 204.7 517.0 204.4 517.5 204.0 518.0 203.8 518.5 203.3 519.0 203.0 519.5 202.9 520.0 202.8 520.5 203.0 521.0 203.0 521.5 203.0 522.0 203.2 522.5 202.7 523.0 202.8 523.5 202.8 524.0 202.7 524.5 203.0 525.0 202.9" fill="none" stroke="#9933ff" stroke-width="1.2" stroke-linejoin="round"/>
<path d="M380.5 216.8 381.0 216.8 381.5 216.8 382.0 216.8 382.5 216.8 383.0 216.8 383.5 216.8 384.0 216.8 384.5 216.8 385.0 216.8 385.5 216.8 386.0 216.8 386.5 216.8 387.0 216.8 387.5 216.8 388.0 216.8 388.5 216.8 389.0 216.8 389.5 216.8 390.0 216.8 390.5 216.8 391.0 216.8 391.5 216.8 392.0 216.8 392.5 216.8 393.0 216.8 393.5 216.8 394.0 216.8 394.5 216.8 395.0 216.8 395.5 216.8 396.0 216.8 396.5 216.8 397.0 216.8 397.5 216.8 398.0 216.8 398.5 216.8 399.0 216.8 399.5 216.8 400.0 216.8 400.5 216.8 401.0 216.8 401.5 216.8 402.0 216.8 402.5 216.8 403.0 216.8 403.5 216.8 404.0 216.8 404.5 217.6 405.0 219.1 405.5 220.8 406.0 223.3 406.5 227.0 407.0 230.7 407.5 233.8 408.0 235.2 408.5 235.0 409.0 233.9 409.5 232.2 410.0 230.4 410.5 228.4 411.0 226.5 411.5 225.0 412.0 223.7 412.5 223.1 413.0 222.6 413.5 222.3 414.0 221.9 414.5 221.6 415.0 221.4 415.5 221.3 416.0 221.1 416.5 221.0 417.0 221.1 417.5 221.4 418.0 221.9 418.5 222.1 419.0 222.3 419.5 222.7 420.0 223.1 420.5 223.6 421.0 223.9 421.5 223.5 422.0 222.8 422.5 221.8 423.0 221.0 423.5 220.1 424.0 219.3 424.5 218.7 425.0 218.1 425.5 217.9 426.0 217.6 426.5 217.7 427.0 218.2 427.5 218.9 428.0 220.1 428.5 221.3 429.0 222.7 429.5 224.0 430.0 225.0 430.5 226.0 431.0 226.4 431.5 226.6 432.0 226.5 432.5 225.5 433.0 224.4 433.5 222.8 434.0 221.2 434.5 219.7 435.0 218.9 435.5 218.3 436.0 218.1 436.5 218.7 437.0 219.1 437.5 219.8 438.0 220.8 438.5 221.5 439.0 222.4 439.5 223.4 440.0 224.5 440.5 225.7 441.0 226.8 441.5 227.6 442.0 228.3 442.5 229.1 443.0 229.7 443.5 230.1 444.0 230.2 444.5 230.0 445.0 229.2 445.5 228.3 446.0 226.9 446.5 225.3 447.0 223.7 447.5 222.2 448.0 220.8 448.5 219.9 449.0 219.3 449.5 218.9 450.0 219.0 450.5 218.9 451.0 219.0 451.5 218.8 452.0 219.0 452.5 219.1 453.0 218.9 453.5 219.3 454.0 219.2 454.5 219.4 455.0 219.6 455.5 219.6 456.0 219.9 456.5 220.1 457.0 220.6 457.5 221.1 458.0 221.5 458.5 222.2 459.0 223.0 459.5 223.8 460.0 224.6 460.5 224.9 461.0 225.5 461.5 226.0 462.0 226.6 462.5 227.3 463.0 227.9 463.5 228.6 464.0 229.4 464.5 229.9 465.0 230.5 465.5 231.1 466.0 231.2 466.5 231.8 467.0 232.2 467.5 232.2 468.0 232.3 468.5 232.2 469.0 232.2 469.5 232.1 470.0 231.9 470.5 231.3 471.0 230.9 471.5 230.7 472.0 230.5 472.5 230.3 473.0 230.1 473.5 229.5 474.0 229.1 474.5 228.5 475.0 228.0 475.5 227.5 476.0 227.0 476.5 226.7 477.0 226.2 477.5 225.9 478.0 225.5 478.5 225.0 479.0 224.8 479.5 224.1 480.0 223.4 480.5 223.1 481.0 222.6 481.5 222.7 482.0 222.6 482.5 222.3 483.0 221.7 483.5 221.2 484.0 220.8 484.5 220.3 485.0 219.9 485.5 219.4 486.0 219.0 486.5 218.5 487.0 218.3 487.5 218.1 488.0 217.9 488.5 218.1 489.0 218.1 489.5 217.9 490.0 218.1 490.5 218.9 491.0 220.6 491.5 222.4 492.0 222.3 492.5 220.1 493.0 218.3 493.5 217.6 494.0 218.2 494.5 220.0 495.0 222.7 495.5 224.4 496.0 223.3 496.5 220.6 497.0 218.5 497.5 217.5 498.0 217.0 498.5 217.0 499.0 216.9 499.5 216.9 500.0 217.2 500.5 217.5 501.0 217.8 501.5 218.1 502.0 218.4 502.5 218.4 503.0 218.4 503.5 218.7 504.0 218.9 504.5 219.3 505.0 219.5 505.5 219.4 506.0 219.8 506.5 220.2 507.0 220.7 507.5 221.2 508.0 221.2 508.5 221.5 509.0 221.9 509.5 222.4 510.0 222.8 510.5 223.0 511.0 222.9 511.5 223.0 512.0 223.2 512.5 223.2 513.0 223.4 513.5 223.2 514.0 222.8 514.5 222.3 515.0 222.0 515.5 221.8 516.0 221.4 516.5 221.3 517.0 220.6 517.5 220.4 518.0 220.4 518.5 220.2 519.0 220.4 519.5 220.1 520.0 220.0 520.5 219.9 521.0 219.8 521.5 219.9 522.0 219.9 522.5 220.0 523.0 219.9 523.5 219.9 524.0 219.8 524.5 219.5 525.0 219.6" fill="none" stroke="#333399" stroke-width="1.2" stroke-linejoin="round"/>
<path d="M380.5 234.1 381.0 234.1 381.5 234.1 382.0 234.1 382.5 234.1 383.0 234.1 383.5 234.1 384.0 234.1 384.5 234.1 385.0 234.1 385.5 234.1 386.0 234.1 386.5 234.1 387.0 234.1 387.5 234.1 388.0 234.1 388.5 234.1 389.0 234.1 389.5 234.1 390.0 234.1 390.5 234.1 391.0 234.1 391.5 234.1 392.0 234.1 392.5 234.1 393.0 234.1 393.5 234.1 394.0 234.1 394.5 234.1 395.0 234.1 395.5 234.1 396.0 234.1 396.5 234.1 397.0 234.1 397.5 234.1 398.0 234.1 398.5 234.1 399.0 234.1 399.5 234.1 400.0 234.1 400.5 234.1 401.0 234.1 401.5 234.1 402.0 234.1 402.5 234.1 403.0 234.1 403.5 234.1 404.0 234.1 404.5 234.9 405.0 236.4 405.5 238.1 406.0 240.6 406.5 244.2 407.0 248.0 407.5 251.2 408.0 252.8 408.5 252.7 409.0 251.9 409.5 250.7 410.0 248.9 410.5 247.0 411.0 245.2 411.5 243.6 412.0 242.7 412.5 242.4 413.0 242.1 413.5 241.5 414.0 241.0 414.5 240.4 415.0 240.0 415.5 239.6 416.0 239.5 416.5 239.8 417.0 239.9 417.5 240.2 418.0 240.4 418.5 240.5 419.0 240.8 419.5 240.9 420.0 241.0 420.5 241.2 421.0 241.0 421.5 240.7 422.0 240.1 422.5 239.0 423.0 238.1 423.5 237.7 424.0 237.0 424.5 236.5 425.0 236.0 425.5 235.4 426.0 235.3 426.5 235.6 427.0 236.0 427.5 236.9 428.0 238.0 428.5 239.1 429.0 240.2 429.5 241.4 430.0 242.0 430.5 242.8 431.0 243.4 431.5 243.5 432.0 243.5 432.5 242.7 433.0 241.7 433.5 240.2 434.0 238.6 434.5 237.2 435.0 236.3 435.5 235.7 436.0 236.0 436.5 236.5 437.0 237.0 437.5 237.7 438.0 238.4 438.5 239.2 439.0 239.9 439.5 240.8 440.0 242.0 440.5 242.9 441.0 244.1 441.5 245.2 442.0 245.8 442.5 246.6 443.0 247.0 443.5 247.2 444.0 247.2 444.5 246.8 445.0 246.1 445.5 245.4 446.0 244.4 446.5 243.2 447.0 241.8 447.5 240.7 448.0 239.6 448.5 238.8 449.0 238.0 449.5 237.7 450.0 237.6 450.5 237.6 451.0 237.9 451.5 238.0 452.0 237.8 452.5 237.7 453.0 237.7 453.5 237.6 454.0 237.8 454.5 237.9 455.0 237.7 455.5 237.7 456.0 237.8 456.5 238.0 457.0 238.3 457.5 238.8 458.0 239.2 458.5 239.8 459.0 240.8 459.5 241.7 460.0 242.3 460.5 242.7 461.0 243.2 461.5 243.5 462.0 244.0 462.5 244.7 463.0 245.3 463.5 245.7 464.0 246.4 464.5 246.8 465.0 247.2 465.5 247.8 466.0 248.1 466.5 248.6 467.0 249.0 467.5 249.0 468.0 249.0 468.5 248.7 469.0 248.7 469.5 248.4 470.0 248.4 470.5 248.0 471.0 247.6 471.5 247.5 472.0 247.1 472.5 247.0 473.0 246.7 473.5 246.1 474.0 245.5 474.5 245.0 475.0 244.6 475.5 244.3 476.0 243.9 476.5 243.5 477.0 242.9 477.5 242.2 478.0 241.5 478.5 240.9 479.0 240.3 479.5 239.9 480.0 239.7 480.5 239.4 481.0 239.3 481.5 239.1 482.0 238.9 482.5 239.0 483.0 238.6 483.5 238.3 484.0 238.2 484.5 237.6 485.0 237.2 485.5 237.1 486.0 236.8 486.5 236.8 487.0 236.9 487.5 236.7 488.0 236.5 488.5 236.4 489.0 236.2 489.5 236.1 490.0 236.4 490.5 237.0 491.0 238.7 491.5 240.5 492.0 240.1 492.5 238.7 493.0 237.4 493.5 236.8 494.0 237.4 494.5 239.2 495.0 241.8 495.5 243.3 496.0 242.6 496.5 240.0 497.0 237.9 497.5 236.9 498.0 236.8 498.5 236.7 499.0 236.7 499.5 236.5 500.0 236.4 500.5 236.5 501.0 236.5 501.5 236.5 502.0 236.5 502.5 236.8 503.0 237.2 503.5 237.7 504.0 238.0 504.5 238.2 505.0 238.3 505.5 238.5 506.0 239.0 506.5 239.4 507.0 239.8 507.5 240.0 508.0 240.1 508.5 240.2 509.0 240.3 509.5 240.6 510.0 241.0 510.5 241.1 511.0 241.4 511.5 241.5 512.0 241.8 512.5 242.0 513.0 241.8 513.5 241.8 514.0 241.6 514.5 241.4 515.0 241.4 515.5 241.3 516.0 241.1 516.5 241.0 517.0 240.8 517.5 240.5 518.0 240.0 518.5 239.6 519.0 239.5 519.5 239.2 520.0 239.2 520.5 239.5 521.0 239.5 521.5 239.3 522.0 239.0 522.5 238.5 523.0 238.1 523.5 237.8 524.0 238.0 524.5 237.9 525.0 237.9" fill="none" stroke="#339933" stroke-width="1.2" stroke-linejoin="round"/>
<path d="M380.5 251.8 381.0 251.8 381.5 251.8 382.0 251.8 382.5 251.8 383.0 251.8 383.5 251.8 384.0 251.8 384.5 251.8 385.0 251.8 385.5 251.8 386.0 251.8 386.5 251.8 387.0 251.8 387.5 251.8 388.0 251.8 388.5 251.8 389.0 251.8 389.5 251.8 390.0 251.8 390.5 251.8 391.0 251.8 391.5 251.8 392.0 251.8 392.5 251.8 393.0 251.8 393.5 251.8 394.0 251.8 394.5 251.8 395.0 251.8 395.5 251.8 396.0 251.8 396.5 251.8 397.0 251.8 397.5 251.8 398.0 251.8 398.5 251.8 399.0 251.8 399.5 251.8 400.0 251.8 400.5 251.8 401.0 251.8 401.5 251.8 402.0 251.8 402.5 251.8 403.0 251.8 403.5 251.8 404.0 251.8 404.5 252.6 405.0 254.1 405.5 255.8 406.0 258.1 406.5 261.2 407.0 264.5 407.5 267.1 408.0 268.3 408.5 268.1 409.0 267.0 409.5 265.8 410.0 264.4 410.5 262.8 411.0 261.4 411.5 260.2 412.0 259.3 412.5 258.7 413.0 258.2 413.5 257.6 414.0 257.4 414.5 257.1 415.0 256.8 415.5 256.9 416.0 256.7 416.5 256.9 417.0 257.2 417.5 257.4 418.0 257.5 418.5 257.7 419.0 257.7 419.5 258.2 420.0 258.4 420.5 258.5 421.0 258.5 421.5 258.1 422.0 257.7 422.5 257.1 423.0 256.4 423.5 255.2 424.0 254.5 424.5 253.6 425.0 252.9 425.5 252.6 426.0 252.4 426.5 252.6 427.0 253.1 427.5 254.0 428.0 254.9 428.5 255.6 429.0 256.4 429.5 257.3 430.0 257.9 430.5 258.7 431.0 259.3 431.5 259.5 432.0 259.5 432.5 259.1 433.0 258.2 433.5 257.2 434.0 256.0 434.5 254.9 435.0 254.3 435.5 253.7 436.0 253.5 436.5 253.8 437.0 254.2 437.5 254.9 438.0 255.7 438.5 256.3 439.0 257.2 439.5 258.0 440.0 259.1 440.5 260.0 441.0 260.7 441.5 261.5 442.0 262.0 442.5 262.6 443.0 262.9 443.5 263.1 444.0 263.4 444.5 263.1 445.0 262.8 445.5 262.2 446.0 261.3 446.5 260.6 447.0 259.6 447.5 258.5 448.0 257.6 448.5 256.4 449.0 255.7 449.5 255.6 450.0 255.5 450.5 256.0 451.0 256.2 451.5 256.2 452.0 256.5 452.5 256.5 453.0 256.8 453.5 256.8 454.0 257.0 454.5 257.2 455.0 257.3 455.5 257.7 456.0 258.0 456.5 258.2 457.0 258.4 457.5 258.9 458.0 259.2 458.5 259.9 459.0 260.6 459.5 261.0 460.0 261.3 460.5 261.7 461.0 262.1 461.5 262.5 462.0 263.3 462.5 263.8 463.0 264.3 463.5 264.8 464.0 265.1 464.5 265.7 465.0 266.1 465.5 266.5 466.0 266.7 466.5 267.0 467.0 267.0 467.5 267.1 468.0 267.3 468.5 267.3 469.0 267.3 469.5 267.4 470.0 266.8 470.5 266.5 471.0 266.3 471.5 265.7 472.0 265.4 472.5 264.8 473.0 264.4 473.5 264.1 474.0 263.9 474.5 263.6 475.0 263.1 475.5 262.4 476.0 261.9 476.5 261.2 477.0 260.8 477.5 260.4 478.0 260.0 478.5 259.6 479.0 259.3 479.5 258.9 480.0 258.4 480.5 258.0 481.0 257.4 481.5 257.3 482.0 257.0 482.5 256.6 483.0 256.3 483.5 255.8 484.0 255.4 484.5 255.3 485.0 255.1 485.5 254.7 486.0 254.6 486.5 254.1 487.0 253.8 487.5 253.6 488.0 253.6 488.5 253.8 489.0 253.8 489.5 253.9 490.0 253.7 490.5 254.0 491.0 255.2 491.5 256.3 492.0 256.4 492.5 255.4 493.0 254.3 493.5 254.0 494.0 254.5 494.5 255.5 495.0 257.2 495.5 258.3 496.0 257.5 496.5 255.9 497.0 254.4 497.5 253.6 498.0 253.5 498.5 253.6 499.0 253.6 499.5 253.7 500.0 253.6 500.5 253.5 501.0 253.6 501.5 253.8 502.0 254.1 502.5 254.6 503.0 254.9 503.5 255.2 504.0 255.3 504.5 255.6 505.0 255.9 505.5 256.3 506.0 256.7 506.5 256.9 507.0 257.1 507.5 257.2 508.0 257.2 508.5 257.4 509.0 257.7 509.5 258.0 510.0 258.3 510.5 258.6 511.0 258.9 511.5 258.9 512.0 259.1 512.5 259.1 513.0 258.9 513.5 258.9 514.0 258.7 514.5 258.5 515.0 258.2 515.5 258.0 516.0 257.6 516.5 257.5 517.0 257.4 517.5 257.1 518.0 256.8 518.5 256.5 519.0 256.1 519.5 255.9 520.0 255.9 520.5 255.9 521.0 256.3 521.5 256.3 522.0 256.4 522.5 256.2 523.0 256.1 523.5 256.2 524.0 256.1 524.5 256.3 525.0 256.2" fill="none" stroke="#ff33ff" stroke-width="1.2" stroke-linejoin="round"/>
<path d="M380.5 269.3 381.0 269.3 381.5 269.3 382.0 269.3 382.5 269.3 383.0 269.3 383.5 269.3 384.0 269.3 384.5 269.3 385.0 269.3 385.5 269.3 386.0 269.3 386.5 269.3 387.0 269.3 387.5 269.3 388.0 269.3 388.5 269.3 389.0 269.3 389.5 269.3 390.0 269.3 390.5 269.3 391.0 269.3 391.5 269.3 392.0 269.3 392.5 269.3 393.0 269.3 393.5 269.3 394.0 269.3 394.5 269.3 395.0 269.3 395.5 269.3 396.0 269.3 396.5 269.3 397.0 269.3 397.5 269.3 398.0 269.3 398.5 269.3 399.0 269.3 399.5 269.3 400.0 269.3 400.5 269.3 401.0 269.3 401.5 269.3 402.0 269.3 402.5 269.3 403.0 269.3 403.5 269.3 404.0 269.3 404.5 270.1 405.0 271.7 405.5 273.3 406.0 275.3 406.5 277.8 407.0 280.3 407.5 282.4 408.0 283.6 408.5 283.6 409.0 283.3 409.5 282.2 410.0 281.0 410.5 279.9 411.0 278.7 411.5 277.8 412.0 276.9 412.5 276.2 413.0 275.7 413.5 275.3 414.0 275.1 414.5 274.9 415.0 274.7 415.5 274.6 416.0 274.5 416.5 274.6 417.0 274.6 417.5 274.8 418.0 275.0 418.5 275.3 419.0 275.5 419.5 275.7 420.0 275.7 420.5 275.9 421.0 276.0 421.5 275.7 422.0 275.3 422.5 274.5 423.0 273.6 423.5 272.9 424.0 272.0 424.5 271.5 425.0 271.0 425.5 270.7 426.0 270.3 426.5 270.3 427.0 270.6 427.5 271.2 428.0 271.9 428.5 272.5 429.0 273.3 429.5 274.1 430.0 274.9 430.5 275.6 431.0 276.0 431.5 276.1 432.0 275.9 432.5 275.3 433.0 274.8 433.5 274.1 434.0 273.5 434.5 272.9 435.0 272.3 435.5 271.8 436.0 271.7 436.5 271.9 437.0 272.2 437.5 272.6 438.0 273.1 438.5 273.5 439.0 274.0 439.5 274.6 440.0 275.0 440.5 275.6 441.0 276.1 441.5 276.5 442.0 276.8 442.5 277.2 443.0 277.5 443.5 277.6 444.0 277.6 444.5 277.4 445.0 277.1 445.5 276.9 446.0 276.7 446.5 276.3 447.0 275.9 447.5 275.1 448.0 274.4 448.5 273.9 449.0 273.2 449.5 273.0 450.0 273.1 450.5 273.1 451.0 273.5 451.5 273.5 452.0 273.5 452.5 273.5 453.0 273.5 453.5 273.9 454.0 274.2 454.5 274.7 455.0 274.9 455.5 275.2 456.0 275.4 456.5 275.7 457.0 276.1 457.5 276.7 458.0 277.3 458.5 277.7 459.0 278.7 459.5 279.4 460.0 280.2 460.5 281.0 461.0 281.5 461.5 282.1 462.0 282.7 462.5 283.2 463.0 284.0 463.5 284.5 464.0 285.3 464.5 285.9 465.0 286.3 465.5 286.9 466.0 287.2 466.5 287.7 467.0 287.8 467.5 287.8 468.0 287.8 468.5 287.6 469.0 287.2 469.5 287.2 470.0 287.0 470.5 286.4 471.0 286.2 471.5 285.7 472.0 284.9 472.5 284.5 473.0 283.9 473.5 283.3 474.0 282.9 474.5 282.2 475.0 281.6 475.5 281.0 476.0 280.2 476.5 279.5 477.0 279.0 477.5 278.1 478.0 277.4 478.5 276.7 479.0 276.0 479.5 275.6 480.0 275.1 480.5 274.9 481.0 274.7 481.5 274.3 482.0 274.2 482.5 273.8 483.0 273.3 483.5 273.0 484.0 272.7 484.5 272.3 485.0 272.3 485.5 272.0 486.0 271.8 486.5 271.5 487.0 271.1 487.5 270.9 488.0 270.8 488.5 271.1 489.0 271.2 489.5 271.1 490.0 271.3 490.5 271.6 491.0 272.7 491.5 273.6 492.0 273.1 492.5 272.0 493.0 270.9 493.5 270.4 494.0 270.9 494.5 271.9 495.0 273.4 495.5 274.4 496.0 274.1 496.5 272.8 497.0 271.6 497.5 271.0 498.0 270.5 498.5 270.3 499.0 270.1 499.5 270.1 500.0 270.2 500.5 270.4 501.0 270.7 501.5 271.0 502.0 271.4 502.5 271.6 503.0 272.0 503.5 272.1 504.0 272.3 504.5 272.8 505.0 272.9 505.5 273.2 506.0 273.6 506.5 273.9 507.0 274.2 507.5 274.3 508.0 274.6 508.5 274.8 509.0 275.2 509.5 275.5 510.0 275.9 510.5 276.2 511.0 276.3 511.5 276.4 512.0 276.6 512.5 276.4 513.0 276.3 513.5 276.4 514.0 276.1 514.5 276.2 515.0 276.3 515.5 276.1 516.0 275.9 516.5 275.6 517.0 275.1 517.5 274.7 518.0 274.5 518.5 274.2 519.0 274.1 519.5 274.0 520.0 273.7 520.5 273.7 521.0 273.7 521.5 273.9 522.0 274.2 522.5 274.1 523.0 274.2 523.5 274.0 524.0 273.9 524.5 273.8 525.0 273.7" fill="none" stroke="#3333ff" stroke-width="1.2" stroke-linejoin="round"/>
<path d="M380.5 282.9 381.0 282.9 381.5 282.9 382.0 282.9 382.5 282.9 383.0 282.9 383.5 282.9 384.0 282.9 384.5 282.9 385.0 282.9 385.5 282.9 386.0 282.9 386.5 282.9 387.0 282.9 387.5 282.9 388.0 282.9 388.5 282.9 389.0 282.9 389.5 282.9 390.0 282.9 390.5 282.9 391.0 282.9 391.5 282.9 392.0 282.9 392.5 282.9 393.0 282.9 393.5 282.9 394.0 282.9 394.5 282.9 395.0 282.9 395.5 282.9 396.0 282.9 396.5 282.9 397.0 282.9 397.5 282.9 398.0 282.9 398.5 282.9 399.0 282.9 399.5 282.9 400.0 282.9 400.5 282.9 401.0 282.9 401.5 282.9 402.0 282.9 402.5 282.9 403.0 282.9 403.5 282.9 404.0 282.9 404.5 283.7 405.0 285.2 405.5 286.9 406.0 289.3 406.5 292.8 407.0 296.5 407.5 299.5 408.0 301.0 408.5 300.9 409.0 300.3 409.5 299.5 410.0 298.3 410.5 297.3 411.0 296.4 411.5 295.4 412.0 295.0 412.5 294.7 413.0 294.5 413.5 294.1 414.0 293.5 414.5 293.0 415.0 292.4 415.5 292.3 416.0 292.4 416.5 292.6 417.0 292.8 417.5 293.3 418.0 293.8 418.5 294.2 419.0 294.8 419.5 295.7 420.0 296.0 420.5 296.1 421.0 295.8 421.5 295.3 422.0 294.8 422.5 294.3 423.0 294.2 423.5 293.6 424.0 292.8 424.5 292.3 425.0 291.7 425.5 291.3 426.0 291.2 426.5 291.7 427.0 292.3 427.5 292.8 428.0 293.7 428.5 294.4 429.0 295.4 429.5 296.7 430.0 297.9 430.5 298.8 431.0 299.3 431.5 299.5 432.0 299.2 432.5 298.4 433.0 297.4 433.5 296.2 434.0 295.1 434.5 294.2 435.0 293.2 435.5 292.7 436.0 292.5 436.5 292.6 437.0 292.8 437.5 293.0 438.0 293.4 438.5 293.9 439.0 294.5 439.5 294.9 440.0 295.6 440.5 296.0 441.0 296.4 441.5 296.8 442.0 297.2 442.5 297.5 443.0 297.8 443.5 298.0 444.0 298.0 444.5 297.9 445.0 297.7 445.5 296.8 446.0 296.0 446.5 295.0 447.0 293.9 447.5 292.8 448.0 291.9 448.5 290.9 449.0 290.2 449.5 290.0 450.0 289.6 450.5 289.4 451.0 289.0 451.5 288.7 452.0 288.4 452.5 288.1 453.0 287.8 453.5 287.7 454.0 287.8 454.5 288.0 455.0 288.1 455.5 288.0 456.0 287.9 456.5 288.1 457.0 288.4 457.5 288.9 458.0 289.5 458.5 290.3 459.0 291.1 459.5 292.0 460.0 292.9 460.5 293.5 461.0 294.3 461.5 295.2 462.0 295.5 462.5 296.1 463.0 296.8 463.5 297.2 464.0 298.1 464.5 298.9 465.0 299.4 465.5 300.0 466.0 300.6 466.5 300.9 467.0 301.1 467.5 301.2 468.0 300.9 468.5 300.9 469.0 300.8 469.5 300.6 470.0 300.3 470.5 299.9 471.0 299.5 471.5 299.1 472.0 298.6 472.5 298.1 473.0 297.7 473.5 297.1 474.0 296.5 474.5 295.8 475.0 295.0 475.5 294.4 476.0 293.9 476.5 293.2 477.0 292.5 477.5 292.0 478.0 291.6 478.5 291.1 479.0 290.9 479.5 290.3 480.0 290.0 480.5 289.4 481.0 289.2 481.5 289.0 482.0 288.5 482.5 288.4 483.0 288.1 483.5 288.0 484.0 287.7 484.5 287.7 485.0 287.8 485.5 287.5 486.0 287.3 486.5 287.0 487.0 286.9 487.5 286.8 488.0 287.2 488.5 287.2 489.0 287.1 489.5 287.1 490.0 287.0 490.5 287.6 491.0 289.0 491.5 290.5 492.0 290.4 492.5 289.1 493.0 288.0 493.5 287.6 494.0 288.1 494.5 289.6 495.0 291.6 495.5 293.0 496.0 292.4 496.5 290.1 497.0 288.3 497.5 287.4 498.0 287.1 498.5 287.1 499.0 287.1 499.5 287.2 500.0 287.2 500.5 287.4 501.0 287.5 501.5 287.5 502.0 288.0 502.5 288.2 503.0 288.4 503.5 288.8 504.0 289.3 504.5 289.8 505.0 290.3 505.5 290.7 506.0 290.9 506.5 291.6 507.0 292.1 507.5 292.7 508.0 293.1 508.5 293.5 509.0 293.9 509.5 294.4 510.0 294.8 510.5 294.9 511.0 295.4 511.5 295.4 512.0 295.3 512.5 295.5 513.0 295.2 513.5 295.2 514.0 295.2 514.5 294.9 515.0 294.5 515.5 294.1 516.0 293.5 516.5 292.9 517.0 292.4 517.5 292.2 518.0 292.0 518.5 291.8 519.0 291.6 519.5 291.4 520.0 291.1 520.5 291.0 521.0 291.0 521.5 290.8 522.0 290.8 522.5 290.7 523.0 290.5 523.5 290.4 524.0 290.5 524.5 290.2 525.0 290.3" fill="none" stroke="#e83030" stroke-width="1.2" stroke-linejoin="round"/>
<path d="M380.5 304.5 381.0 304.5 381.5 304.5 382.0 304.5 382.5 304.5 383.0 304.5 383.5 304.5 384.0 304.5 384.5 304.5 385.0 304.5 385.5 304.5 386.0 304.5 386.5 304.5 387.0 304.5 387.5 304.5 388.0 304.5 388.5 304.5 389.0 304.5 389.5 304.5 390.0 304.5 390.5 304.5 391.0 304.5 391.5 304.5 392.0 304.5 392.5 304.5 393.0 304.5 393.5 304.5 394.0 304.5 394.5 304.5 395.0 304.5 395.5 304.5 396.0 304.5 396.5 304.5 397.0 304.5 397.5 304.5 398.0 304.5 398.5 304.5 399.0 304.5 399.5 304.5 400.0 304.5 400.5 304.5 401.0 304.5 401.5 304.5 402.0 304.5 402.5 304.5 403.0 304.5 403.5 304.5 404.0 304.9 404.5 306.0 405.0 307.4 405.5 309.0 406.0 311.2 406.5 314.2 407.0 317.5 407.5 320.3 408.0 322.0 408.5 321.8 409.0 320.3 409.5 318.2 410.0 315.9 410.5 314.1 411.0 312.7 411.5 311.2 412.0 310.0 412.5 309.5 413.0 309.7 413.5 310.7 414.0 311.8 414.5 312.6 415.0 312.7 415.5 312.4 416.0 311.8 416.5 311.0 417.0 310.1 417.5 309.1 418.0 308.5 418.5 308.0 419.0 307.7 419.5 307.6 420.0 307.7 420.5 307.8 421.0 308.2 421.5 308.9 422.0 309.2 422.5 309.8 423.0 310.3 423.5 310.6 424.0 311.1 424.5 311.2 425.0 311.3 425.5 311.3 426.0 309.4 426.5 307.2 427.0 305.3 427.5 304.6 428.0 305.3 428.5 306.1 429.0 307.4 429.5 308.4 430.0 309.3 430.5 310.3 431.0 311.2 431.5 312.6 432.0 313.9 432.5 314.9 433.0 315.8 433.5 316.3 434.0 316.9 434.5 316.9 435.0 316.4 435.5 315.6 436.0 313.9 436.5 312.3 437.0 310.7 437.5 309.0 438.0 307.8 438.5 307.1 439.0 307.3 439.5 308.1 440.0 309.2 440.5 310.3 441.0 311.0 441.5 312.2 442.0 313.8 442.5 315.4 443.0 317.6 443.5 319.0 444.0 319.8 444.5 320.1 445.0 319.1 445.5 317.8 446.0 316.1 446.5 314.3 447.0 312.6 447.5 311.2 448.0 310.4 448.5 309.7 449.0 308.9 449.5 308.1 450.0 307.3 450.5 306.7 451.0 306.3 451.5 305.9 452.0 305.4 452.5 305.3 453.0 305.3 453.5 305.3 454.0 305.3 454.5 305.1 455.0 304.8 455.5 304.8 456.0 304.7 456.5 304.9 457.0 304.9 457.5 305.3 458.0 306.2 458.5 307.4 459.0 307.2 459.5 305.9 460.0 305.1 460.5 304.9 461.0 304.9 461.5 304.9 462.0 305.0 462.5 305.2 463.0 305.2 463.5 305.2 464.0 305.1 464.5 305.0 465.0 304.8 465.5 304.9 466.0 304.8 466.5 304.9 467.0 305.2 467.5 305.3 468.0 305.4 468.5 306.7 469.0 308.3 469.5 307.8 470.0 306.6 470.5 305.6 471.0 305.1 471.5 305.3 472.0 305.3 472.5 306.4 473.0 307.4 473.5 306.5 474.0 305.7 474.5 305.5 475.0 305.4 475.5 305.6 476.0 305.8 476.5 305.5 477.0 305.4 477.5 305.4 478.0 305.2 478.5 305.5 479.0 305.4 479.5 306.0 480.0 307.3 480.5 308.2 481.0 307.6 481.5 306.1 482.0 305.4 482.5 305.2 483.0 304.9 483.5 304.9 484.0 305.1 484.5 305.1 485.0 305.9 485.5 307.1 486.0 307.7 486.5 306.9 487.0 305.4 487.5 305.0 488.0 305.0 488.5 305.3 489.0 305.5 489.5 305.6 490.0 306.3 490.5 307.9 491.0 309.0 491.5 307.6 492.0 305.9 492.5 305.0 493.0 304.8 493.5 305.1 494.0 305.5 494.5 307.2 495.0 309.6 495.5 311.4 496.0 310.8 496.5 308.0 497.0 306.3 497.5 305.7 498.0 305.4 498.5 305.3 499.0 305.4 499.5 305.4 500.0 305.7 500.5 305.9 501.0 305.7 501.5 305.5 502.0 304.8 502.5 304.6 503.0 304.7 503.5 304.5 504.0 304.6 504.5 304.3 505.0 304.0 505.5 303.7 506.0 303.6 506.5 303.4 507.0 303.2 507.5 303.4 508.0 303.2 508.5 303.7 509.0 304.8 509.5 305.5 510.0 306.3 510.5 306.8 511.0 306.9 511.5 307.3 512.0 307.7 512.5 307.9 513.0 308.1 513.5 308.0 514.0 307.5 514.5 307.1 515.0 306.7 515.5 306.3 516.0 306.1 516.5 306.1 517.0 306.1 517.5 306.1 518.0 306.2 518.5 305.7 519.0 305.6 519.5 305.5 520.0 305.2 520.5 305.7 521.0 305.7 521.5 305.6 522.0 305.8 522.5 305.5 523.0 305.5 523.5 305.3 524.0 305.3 524.5 305.3 525.0 305.3" fill="none" stroke="#222222" stroke-width="1.2" stroke-linejoin="round"/>
<text x="381.60" y="207.00" font-family='"Liberation Serif", serif' font-size="9.2" font-weight="normal" text-anchor="start" fill="#333" stroke="#333" stroke-width="0.12">pH=5, 20-cycle used</text>
<text x="381.60" y="224.20" font-family='"Liberation Serif", serif' font-size="9.2" font-weight="normal" text-anchor="start" fill="#333" stroke="#333" stroke-width="0.12">pH=5, 5-cycle used</text>
<text x="381.60" y="241.60" font-family='"Liberation Serif", serif' font-size="9.2" font-weight="normal" text-anchor="start" fill="#333" stroke="#333" stroke-width="0.12">pH=5, 1-cycle used</text>
<text x="381.60" y="260.20" font-family='"Liberation Serif", serif' font-size="9.2" font-weight="normal" text-anchor="start" fill="#333" stroke="#333" stroke-width="0.12">pH=3, 20-cycle used</text>
<text x="381.60" y="277.50" font-family='"Liberation Serif", serif' font-size="9.2" font-weight="normal" text-anchor="start" fill="#333" stroke="#333" stroke-width="0.12">pH=3, 5-cycle used</text>
<text x="381.60" y="292.50" font-family='"Liberation Serif", serif' font-size="9.2" font-weight="normal" text-anchor="start" fill="#333" stroke="#333" stroke-width="0.12">pH=3, 1-cycle used</text>
<text x="381.60" y="313.00" font-family='"Liberation Serif", serif' font-size="9.2" font-weight="normal" text-anchor="start" fill="#333" stroke="#333" stroke-width="0.12">Fresh</text>
<rect x="380.00" y="179.50" width="145.60" height="150.00" fill="none" stroke="#111" stroke-width="1.1"/>
<line x1="380.00" y1="329.50" x2="380.00" y2="326.90" stroke="#111" stroke-width="0.9"/>
<text x="380.00" y="340.00" font-family='"Liberation Serif", serif' font-size="8.9" font-weight="bold" text-anchor="middle" fill="#000" >2000</text>
<line x1="391.44" y1="329.50" x2="391.44" y2="328.00" stroke="#111" stroke-width="0.9"/>
<line x1="402.88" y1="329.50" x2="402.88" y2="326.90" stroke="#111" stroke-width="0.9"/>
<text x="402.88" y="340.00" font-family='"Liberation Serif", serif' font-size="8.9" font-weight="bold" text-anchor="middle" fill="#000" >1750</text>
<line x1="414.31" y1="329.50" x2="414.31" y2="328.00" stroke="#111" stroke-width="0.9"/>
<line x1="425.75" y1="329.50" x2="425.75" y2="326.90" stroke="#111" stroke-width="0.9"/>
<text x="425.75" y="340.00" font-family='"Liberation Serif", serif' font-size="8.9" font-weight="bold" text-anchor="middle" fill="#000" >1500</text>
<line x1="437.19" y1="329.50" x2="437.19" y2="328.00" stroke="#111" stroke-width="0.9"/>
<line x1="448.62" y1="329.50" x2="448.62" y2="326.90" stroke="#111" stroke-width="0.9"/>
<text x="448.62" y="340.00" font-family='"Liberation Serif", serif' font-size="8.9" font-weight="bold" text-anchor="middle" fill="#000" >1250</text>
<line x1="460.06" y1="329.50" x2="460.06" y2="328.00" stroke="#111" stroke-width="0.9"/>
<line x1="471.50" y1="329.50" x2="471.50" y2="326.90" stroke="#111" stroke-width="0.9"/>
<text x="471.50" y="340.00" font-family='"Liberation Serif", serif' font-size="8.9" font-weight="bold" text-anchor="middle" fill="#000" >1000</text>
<line x1="482.94" y1="329.50" x2="482.94" y2="328.00" stroke="#111" stroke-width="0.9"/>
<line x1="494.38" y1="329.50" x2="494.38" y2="326.90" stroke="#111" stroke-width="0.9"/>
<text x="494.38" y="340.00" font-family='"Liberation Serif", serif' font-size="8.9" font-weight="bold" text-anchor="middle" fill="#000" >750</text>
<line x1="505.81" y1="329.50" x2="505.81" y2="328.00" stroke="#111" stroke-width="0.9"/>
<line x1="517.25" y1="329.50" x2="517.25" y2="326.90" stroke="#111" stroke-width="0.9"/>
<text x="517.25" y="340.00" font-family='"Liberation Serif", serif' font-size="8.9" font-weight="bold" text-anchor="middle" fill="#000" >500</text>
<text x="452.80" y="356.10" font-family='"Liberation Serif", serif' font-size="9.8" font-weight="bold" text-anchor="middle">Wavenumber (cm<tspan font-size="5.5" dy="-3.5">-1</tspan><tspan dy="3.5">)</tspan></text>
<text transform="translate(370.80,260.00) rotate(-90)" font-family='"Liberation Serif", serif' font-size="9.9" font-weight="bold" text-anchor="middle" fill="#000">Transmittance (%)</text>
<text x="384.50" y="195.24" font-family='"Liberation Sans", sans-serif' font-size="17.2" font-weight="bold" text-anchor="start" fill="#000" >(f)</text>
<text x="416.60" y="193.50" font-family='"Liberation Serif", serif' font-size="12.8" font-weight="bold" textLength="71.60" lengthAdjust="spacingAndGlyphs">MIL-101(Fe)</text>
<line x1="416.60" y1="195.80" x2="488.20" y2="195.80" stroke="#111" stroke-width="1.1"/>
<path d="M30.3 377.4 30.7 381.5 31.2 383.7 31.6 384.7 32.1 386.3 32.5 388.3 33.0 390.4 33.4 391.8 33.9 392.6 34.3 392.6 34.8 394.9 35.2 395.5 35.7 396.1 36.1 396.4 36.6 396.8 37.0 398.0 37.5 398.7 37.9 398.6 38.4 399.0 38.8 399.6 39.3 398.9 39.7 398.8 40.2 400.1 40.6 399.8 41.1 399.2 41.5 400.0 42.0 400.6 42.4 400.4 42.9 400.6 43.3 402.1 43.8 403.0 44.2 402.5 44.7 402.4 45.1 403.3 45.6 403.8 46.0 403.5 46.5 404.2 46.9 404.6 47.4 403.7 47.8 403.4 48.3 404.1 48.7 404.6 49.2 404.7 49.6 403.3 50.1 403.1 50.5 402.9 51.0 402.5 51.4 403.2 51.9 401.3 52.0 400.6 52.3 403.7 52.8 404.8 53.2 404.8 53.7 404.8 54.1 404.6 54.6 403.5 55.0 404.4 55.5 404.2 55.9 402.9 56.4 403.2 56.8 401.4 57.1 399.6 57.3 400.6 57.7 403.3 58.2 403.9 58.6 403.6 59.1 404.2 59.5 404.2 60.0 404.1 60.4 403.7 60.9 403.7 61.3 400.7 61.7 396.0 61.8 397.2 62.2 403.3 62.7 404.6 63.1 403.4 63.6 404.4 64.0 404.7 64.5 404.0 64.9 403.8 65.4 404.6 65.8 403.8 66.3 404.7 66.7 405.0 67.2 403.4 67.6 403.4 68.1 403.4 68.5 404.5 69.0 406.0 69.4 405.7 69.9 403.4 70.3 403.7 70.8 405.1 71.2 405.7 71.7 404.8 72.1 403.9 72.6 404.3 73.0 404.3 73.5 403.9 73.9 403.7 74.4 404.4 74.8 404.4 75.3 403.8 75.7 402.9 76.2 400.5 76.6 395.7 76.7 396.6 77.1 400.5 77.5 402.4 78.0 404.5 78.4 405.3 78.9 405.8 79.3 404.7 79.8 403.6 80.2 403.5 80.7 405.5 81.1 406.3 81.6 404.2 82.0 403.8 82.5 404.4 82.9 403.7 83.4 403.6 83.8 402.6 84.0 402.7 84.3 404.4 84.7 404.7 85.2 404.9 85.6 404.3 86.1 404.0 86.5 402.6 87.0 403.0 87.4 404.4 87.9 404.3 88.3 404.7 88.8 405.1 89.2 405.5 89.7 405.1 90.1 403.6 90.5 399.4 90.6 399.4 91.0 402.8 91.5 403.3 91.9 403.2 92.4 403.7 92.8 404.2 93.3 404.5 93.7 403.8 94.2 402.9 94.6 404.0 95.1 404.8 95.5 405.4 96.0 405.0 96.4 404.0 96.9 404.3 97.3 405.9 97.8 405.9 98.2 406.5 98.7 406.3 99.1 404.5 99.6 404.7 100.0 405.0 100.5 405.1 100.9 405.1 101.4 404.8 101.8 404.3 102.3 403.4 102.7 403.8 103.2 403.9 103.6 404.2 104.1 404.2 104.5 404.5 105.0 403.4 105.0 403.1 105.4 404.3 105.9 404.4 106.3 404.1 106.8 404.2 107.2 404.3 107.7 404.7 108.1 404.8 108.6 404.7 109.0 404.0 109.5 404.8 109.9 404.1 110.4 403.9 110.8 404.2 111.3 404.3 111.7 404.6 112.2 404.1 112.6 403.6 113.1 404.2 113.5 405.5 114.0 404.8 114.4 403.9 114.9 404.1 115.3 404.1 115.8 405.3 116.2 404.2 116.7 404.9 117.1 405.0 117.6 404.0 118.0 404.9 118.5 405.7 118.9 405.5 119.4 405.4 119.8 405.7 120.3 405.3 120.7 405.2 121.2 405.1 121.6 405.1 122.1 404.6 122.5 405.2 123.0 404.5 123.4 404.2 123.9 405.4 124.3 406.6 124.8 406.0 125.2 405.1 125.7 405.3 126.1 404.9 126.6 404.9 127.0 404.6 127.5 403.5 127.9 404.5 128.4 404.3 128.8 404.1 129.3 403.6 129.7 403.5 130.2 404.4 130.6 406.0 131.1 406.6 131.5 405.9 132.0 406.0 132.4 404.9 132.9 403.9 133.3 405.1 133.8 405.6 134.2 405.3 134.7 405.6 135.1 405.7 135.6 404.6 136.0 404.1 136.5 404.9 136.9 405.2 137.4 405.4 137.8 406.6 138.3 406.9 138.7 405.8 139.2 406.2 139.6 406.6 140.1 406.6 140.5 406.5 141.0 405.8 141.4 406.6 141.9 407.5 142.3 406.6 142.8 405.6 143.2 406.4 143.7 406.9 144.1 406.2 144.6 405.9 145.0 406.5 145.5 405.5 145.9 405.9 146.4 405.7 146.8 405.4 147.3 406.6 147.7 406.2 148.2 405.4 148.6 406.1 149.1 405.4 149.5 404.4 150.0 405.2 150.4 406.3 150.9 406.7 151.3 406.4 151.8 406.4 152.2 406.5 152.7 406.5 153.1 407.1 153.6 406.7 154.0 406.7 154.5 406.5 154.9 405.5 155.4 406.0 155.8 407.4 156.3 406.9 156.7 406.4 157.2 406.5 157.6 406.3 158.1 406.4 158.5 406.2 159.0 406.2 159.4 405.8 159.9 407.1 160.3 406.2 160.8 405.3 161.2 406.0 161.7 406.4 162.1 406.5 162.6 406.1 163.0 407.6 163.5 409.2 163.9 406.8 164.4 406.7 164.8 406.8 165.3 406.5 165.7 405.4 166.2 405.8 166.6 407.0 167.1 407.5 167.5 408.0 168.0 407.0 168.4 407.7 168.9 409.1 169.3 407.1 169.8 406.3 170.2 406.9 170.7 407.4 171.1 407.9 171.6 407.4 172.0 406.8 172.5 407.9 172.9 409.6 173.4 408.2 173.8 405.7 174.3 406.4 174.7 406.9 175.2 407.7" fill="none" stroke="#8000ff" stroke-width="1.6" stroke-linejoin="round"/>
<path d="M30.3 399.0 30.7 402.9 31.2 404.8 31.6 406.3 32.1 407.5 32.5 408.8 33.0 410.6 33.4 412.3 33.9 412.7 34.3 413.0 34.8 414.4 35.2 414.7 35.7 414.7 36.1 414.7 36.6 415.2 37.0 415.2 37.5 415.0 37.9 417.5 38.4 418.3 38.8 418.3 39.3 419.1 39.7 419.2 40.2 418.6 40.6 417.3 41.1 418.7 41.5 420.3 42.0 421.5 42.4 422.1 42.9 421.4 43.3 419.4 43.8 418.9 44.2 420.7 44.7 421.4 45.1 421.9 45.6 421.5 46.0 421.3 46.5 420.7 46.9 421.6 47.4 421.7 47.8 422.1 48.3 422.3 48.7 422.1 49.2 422.2 49.6 422.2 50.1 422.5 50.5 422.1 51.0 420.9 51.4 419.8 51.9 414.6 52.0 413.2 52.3 418.8 52.8 421.3 53.2 421.0 53.7 421.1 54.1 421.7 54.6 422.1 55.0 421.9 55.5 420.7 55.9 420.7 56.4 421.3 56.8 421.2 57.3 418.8 57.7 418.8 58.0 418.4 58.2 418.0 58.6 414.0 59.0 410.2 59.1 411.7 59.5 417.9 60.0 419.9 60.4 419.8 60.9 418.0 61.3 412.8 61.7 405.7 61.8 406.2 62.2 416.2 62.7 419.9 63.1 421.4 63.6 421.5 64.0 421.7 64.5 423.0 64.9 423.3 65.4 423.3 65.8 422.8 66.3 422.1 66.7 421.8 67.2 422.1 67.6 422.8 68.1 422.2 68.5 421.2 69.0 421.5 69.4 421.3 69.9 421.7 70.3 421.1 70.8 421.1 71.2 422.0 71.7 421.8 72.1 421.2 72.6 422.9 73.0 423.6 73.5 422.0 73.9 422.9 74.4 421.8 74.8 421.2 75.3 420.9 75.7 419.8 76.2 419.1 76.6 414.9 76.7 413.9 77.1 416.7 77.5 419.1 78.0 420.9 78.4 421.9 78.9 420.9 79.3 421.4 79.8 422.4 80.2 423.3 80.7 423.4 81.1 422.1 81.6 421.8 82.0 422.4 82.5 422.1 82.9 422.3 83.4 423.5 83.8 423.9 84.3 422.9 84.7 422.4 85.2 422.3 85.6 421.1 86.1 421.6 86.5 422.2 87.0 424.0 87.4 423.5 87.9 422.6 88.3 421.6 88.8 420.6 89.2 422.4 89.7 422.6 90.0 420.4 90.1 421.3 90.6 422.3 91.0 421.5 91.5 423.0 91.9 423.6 92.4 422.9 92.8 422.6 93.3 422.6 93.7 421.5 94.2 422.4 94.6 422.9 95.1 422.0 95.5 422.8 96.0 421.9 96.4 420.8 96.9 421.6 97.3 421.8 97.8 422.2 98.2 422.0 98.7 422.8 99.1 422.3 99.6 422.4 100.0 422.1 100.5 422.4 100.9 423.3 101.4 422.9 101.8 422.0 102.3 421.8 102.7 423.2 103.2 423.3 103.6 422.5 104.1 422.4 104.5 421.6 105.0 421.4 105.4 421.8 105.9 422.7 106.3 422.7 106.8 422.3 107.2 423.1 107.7 423.4 108.1 423.2 108.6 423.3 109.0 422.6 109.5 422.6 109.9 422.9 110.4 422.9 110.8 422.9 111.3 422.3 111.7 423.2 112.2 422.4 112.6 422.1 113.1 421.8 113.5 423.1 114.0 424.0 114.4 424.0 114.9 423.2 115.3 421.7 115.8 421.7 116.2 422.0 116.7 422.3 117.1 423.4 117.6 423.2 118.0 423.0 118.5 423.0 118.9 422.1 119.4 421.8 119.8 422.2 120.3 423.1 120.7 423.4 121.2 423.7 121.6 423.5 122.1 422.1 122.5 422.3 123.0 422.6 123.4 421.9 123.9 422.5 124.3 423.9 124.8 424.3 125.2 424.1 125.7 423.3 126.1 423.2 126.6 423.7 127.0 423.2 127.5 423.6 127.9 424.1 128.4 423.1 128.8 422.6 129.3 423.2 129.7 423.8 130.2 423.8 130.6 423.6 131.1 423.3 131.5 422.0 132.0 422.3 132.4 423.0 132.9 422.4 133.3 421.9 133.8 421.9 134.2 422.4 134.7 422.8 135.1 422.7 135.6 423.8 136.0 424.7 136.5 424.1 136.9 424.4 137.4 423.8 137.8 422.7 138.3 422.9 138.7 423.0 139.2 423.6 139.6 423.3 140.1 424.4 140.5 423.9 141.0 422.5 141.4 424.1 141.9 424.8 142.3 423.8 142.8 423.8 143.2 422.8 143.7 423.1 144.1 422.8 144.6 423.3 145.0 422.0 145.5 421.6 145.9 424.1 146.4 425.5 146.8 424.2 147.3 424.4 147.7 424.2 148.2 423.9 148.6 424.8 149.1 425.1 149.5 423.7 150.0 424.3 150.4 424.1 150.9 423.6 151.3 425.4 151.8 425.7 152.2 424.4 152.7 425.3 153.1 424.7 153.6 424.5 154.0 425.4 154.5 424.9 154.9 425.0 155.4 425.8 155.8 425.9 156.3 425.0 156.7 423.3 157.2 423.3 157.6 424.7 158.1 424.1 158.5 424.1 159.0 423.8 159.4 423.9 159.9 424.0 160.3 425.2 160.8 424.3 161.2 424.3 161.7 424.8 162.1 425.2 162.6 424.0 163.0 424.4 163.5 424.8 163.9 425.3 164.4 425.2 164.8 424.7 165.3 424.9 165.7 424.8 166.2 425.2 166.6 424.9 167.1 424.5 167.5 424.9 168.0 425.8 168.4 426.7 168.9 425.4 169.3 425.6 169.8 425.8 170.2 423.6 170.7 423.2 171.1 423.9 171.6 425.5 172.0 427.1 172.5 426.5 172.9 426.2 173.4 424.9 173.8 423.0 174.3 423.4 174.7 425.7 175.2 425.8" fill="none" stroke="#000080" stroke-width="1.6" stroke-linejoin="round"/>
<path d="M30.3 417.8 30.7 421.0 31.2 422.3 31.6 425.4 32.1 427.3 32.5 427.1 33.0 428.0 33.4 429.9 33.9 430.3 34.3 431.4 34.8 431.6 35.2 433.0 35.7 433.4 36.1 433.2 36.6 433.5 37.0 434.2 37.5 433.7 37.9 434.7 38.4 435.6 38.8 436.2 39.3 436.0 39.7 437.5 40.2 436.8 40.6 436.5 41.1 438.4 41.5 439.0 42.0 437.8 42.4 437.2 42.9 437.8 43.3 437.7 43.8 438.5 44.2 439.8 44.7 439.5 45.1 439.3 45.6 439.4 46.0 439.5 46.5 440.2 46.9 440.2 47.4 439.5 47.8 440.2 48.3 441.5 48.7 440.5 49.2 440.1 49.6 441.1 50.1 439.8 50.5 438.7 51.0 438.9 51.4 436.7 51.9 429.4 52.0 428.9 52.3 434.9 52.8 437.7 53.2 438.4 53.7 439.1 54.1 440.0 54.6 439.1 55.0 439.4 55.5 440.7 55.9 439.8 56.4 440.5 56.8 440.3 57.3 438.6 57.7 437.1 58.2 436.7 58.6 432.6 59.0 427.1 59.1 427.4 59.5 434.6 60.0 436.4 60.0 435.3 60.4 436.2 60.9 433.7 61.3 425.0 61.5 423.8 61.8 430.9 62.2 436.6 62.7 436.9 63.1 438.3 63.6 439.0 64.0 439.1 64.5 438.7 64.9 438.6 65.4 439.7 65.8 439.2 66.3 439.1 66.7 439.1 67.2 439.4 67.6 440.3 68.1 440.2 68.5 439.3 69.0 439.0 69.4 439.6 69.9 440.5 70.3 440.3 70.8 440.0 71.2 439.7 71.7 439.7 72.1 439.6 72.6 439.0 73.0 440.4 73.5 439.5 73.9 439.5 74.4 440.5 74.8 439.9 75.3 438.8 75.7 436.8 76.2 432.9 76.5 432.1 76.6 433.4 77.1 436.7 77.5 439.1 78.0 438.6 78.4 438.9 78.9 439.9 79.3 440.1 79.8 440.2 80.2 439.3 80.7 438.6 81.1 438.1 81.6 438.4 82.0 438.6 82.5 438.8 82.9 439.8 83.4 439.2 83.8 439.1 84.3 441.2 84.7 439.8 85.2 439.3 85.6 440.9 86.1 440.9 86.5 439.2 87.0 438.5 87.4 439.3 87.9 440.6 88.3 439.9 88.8 439.4 89.2 440.2 89.7 440.6 90.1 439.3 90.6 439.2 91.0 439.5 91.5 441.8 91.9 442.2 92.4 441.2 92.8 440.4 93.3 440.1 93.7 438.8 94.2 439.5 94.6 438.9 95.1 438.7 95.5 439.2 96.0 439.8 96.4 440.6 96.9 440.7 97.3 439.9 97.8 438.3 98.0 438.4 98.2 439.4 98.7 440.5 99.1 439.0 99.6 437.8 100.0 439.7 100.5 441.7 100.9 441.0 101.4 440.4 101.8 440.9 102.3 440.9 102.7 440.5 103.2 440.0 103.6 440.2 104.1 440.2 104.5 439.6 105.0 439.3 105.4 440.3 105.9 441.2 106.3 441.1 106.8 440.9 107.2 441.4 107.7 442.3 108.1 441.4 108.6 441.6 109.0 442.0 109.5 440.9 109.9 440.8 110.4 441.6 110.8 441.9 111.3 441.1 111.7 440.8 112.2 440.3 112.6 439.8 113.1 440.9 113.5 440.1 114.0 439.1 114.4 439.5 114.9 439.0 115.3 439.4 115.8 440.1 116.2 440.1 116.7 440.7 117.1 439.8 117.6 440.5 118.0 441.4 118.5 442.0 118.9 441.7 119.4 441.0 119.8 440.7 120.3 440.9 120.7 441.3 121.2 440.6 121.6 440.9 122.1 440.8 122.5 440.8 123.0 441.1 123.4 442.1 123.9 440.9 124.3 440.9 124.8 441.2 125.2 441.4 125.7 441.4 126.1 441.5 126.6 441.3 127.0 440.1 127.5 440.3 127.9 440.1 128.4 440.5 128.8 440.0 129.3 440.0 129.7 441.1 130.2 442.2 130.6 441.9 131.1 441.8 131.5 442.0 132.0 440.3 132.4 439.3 132.9 440.3 133.3 441.2 133.8 442.5 134.2 442.7 134.7 441.4 135.1 443.1 135.6 443.2 136.0 442.4 136.5 442.4 136.9 443.2 137.4 441.9 137.8 441.1 138.3 441.1 138.7 440.6 139.2 441.4 139.6 441.6 140.1 441.8 140.5 441.6 141.0 441.2 141.4 442.0 141.9 441.4 142.3 441.6 142.8 440.8 143.2 441.4 143.7 441.2 144.1 441.4 144.6 440.8 145.0 439.8 145.5 440.5 145.9 441.8 146.4 442.0 146.8 440.5 147.3 439.8 147.7 440.7 148.2 441.4 148.6 441.3 149.1 441.5 149.5 442.7 150.0 443.1 150.4 442.6 150.9 441.6 151.3 441.9 151.8 441.7 152.2 441.3 152.7 442.5 153.1 442.4 153.6 442.3 154.0 443.4 154.5 443.4 154.9 443.4 155.4 443.6 155.8 442.9 156.3 441.6 156.7 442.1 157.2 442.9 157.6 442.2 158.1 442.5 158.5 443.2 159.0 444.0 159.4 444.1 159.9 443.6 160.3 443.0 160.8 443.4 161.2 443.3 161.7 443.1 162.1 443.9 162.6 443.3 163.0 442.7 163.5 443.6 163.9 443.2 164.4 442.9 164.8 442.0 165.3 442.4 165.7 442.1 166.2 441.7 166.6 442.0 167.1 444.2 167.5 443.6 168.0 443.6 168.4 444.0 168.9 443.5 169.3 443.3 169.8 442.5 170.2 443.0 170.7 443.2 171.1 443.7 171.6 443.3 172.0 442.1 172.5 441.6 172.9 442.5 173.4 443.9 173.8 444.2 174.3 443.5 174.7 441.6 175.2 441.3" fill="none" stroke="#008000" stroke-width="1.6" stroke-linejoin="round"/>
<path d="M30.3 437.9 30.7 440.3 31.2 442.2 31.6 444.4 32.1 445.6 32.5 446.2 33.0 447.6 33.4 449.4 33.9 450.3 34.3 451.5 34.8 453.1 35.2 452.6 35.7 452.5 36.1 452.5 36.6 453.4 37.0 454.6 37.5 455.1 37.9 455.0 38.4 455.5 38.8 455.2 39.3 453.7 39.7 453.8 40.2 457.4 40.6 457.6 41.1 456.5 41.5 455.4 42.0 456.1 42.4 457.3 42.9 455.8 43.3 457.0 43.8 458.5 44.2 458.5 44.7 458.8 45.1 459.0 45.6 459.9 46.0 458.1 46.5 457.6 46.9 459.1 47.4 460.0 47.8 459.6 48.3 459.7 48.7 458.7 49.2 458.5 49.6 460.3 50.1 461.0 50.5 460.6 51.0 459.0 51.4 458.0 51.9 458.1 52.3 458.9 52.8 459.7 53.2 459.4 53.7 458.4 54.1 459.1 54.6 459.3 55.0 459.3 55.5 459.2 55.9 459.3 56.4 459.7 56.8 459.6 57.3 459.3 57.7 458.9 58.2 459.4 58.6 458.8 59.1 457.9 59.5 459.1 60.0 459.5 60.4 459.9 60.9 459.4 61.3 459.3 61.8 459.5 62.2 459.3 62.7 458.6 63.1 458.4 63.6 459.9 64.0 458.6 64.5 458.9 64.9 459.8 65.4 459.9 65.8 460.0 66.3 460.3 66.7 460.5 67.2 460.6 67.6 461.3 68.1 459.4 68.5 459.2 69.0 459.0 69.4 458.9 69.9 459.8 70.3 460.3 70.8 459.0 71.2 458.8 71.7 459.8 72.1 460.4 72.6 461.1 73.0 460.6 73.5 459.6 73.9 459.1 74.4 459.2 74.8 458.6 75.3 457.7 75.7 457.1 76.2 447.1 76.4 431.1 76.6 450.2 77.1 459.0 77.5 459.9 78.0 459.8 78.4 458.7 78.9 458.3 79.3 458.9 79.8 459.4 80.2 459.1 80.7 459.4 81.1 460.1 81.6 459.6 82.0 458.6 82.5 458.7 82.9 458.9 83.4 459.1 83.8 458.6 84.3 459.2 84.7 459.9 85.2 459.4 85.6 458.6 86.1 458.8 86.5 459.5 87.0 460.0 87.4 460.1 87.9 459.2 88.3 458.8 88.8 460.2 89.2 460.1 89.7 459.9 90.1 459.5 90.6 458.7 91.0 459.0 91.5 459.8 91.9 460.3 92.4 459.0 92.8 457.2 93.3 458.6 93.7 460.0 94.2 460.6 94.6 460.9 95.1 461.8 95.5 461.4 96.0 461.0 96.4 460.1 96.9 458.9 97.3 459.9 97.8 460.0 98.2 459.4 98.7 459.9 99.1 459.8 99.6 459.2 100.0 459.2 100.5 459.3 100.9 459.5 101.4 459.4 101.8 459.3 102.3 458.2 102.7 458.4 103.2 458.1 103.6 458.9 104.1 459.8 104.5 459.6 105.0 459.5 105.4 459.9 105.9 460.4 106.3 459.3 106.8 459.5 107.2 458.4 107.7 458.6 108.1 458.7 108.6 456.3 109.0 442.7 109.0 444.1 109.5 457.0 109.9 458.6 110.4 458.6 110.8 457.9 111.3 458.7 111.7 459.2 112.2 460.1 112.6 459.7 113.1 460.5 113.5 460.1 114.0 461.0 114.4 460.6 114.9 460.3 115.3 460.5 115.8 460.8 116.2 461.3 116.7 461.1 117.1 459.5 117.6 458.0 118.0 457.3 118.5 458.9 118.9 460.2 119.4 460.2 119.8 459.8 120.3 459.3 120.7 459.1 121.2 459.4 121.6 459.5 122.1 458.7 122.5 459.5 123.0 458.8 123.4 459.1 123.9 459.1 124.3 459.1 124.8 458.6 125.2 458.6 125.7 459.0 126.1 459.5 126.6 461.2 127.0 459.9 127.5 459.1 127.9 459.0 128.4 458.3 128.8 457.7 129.3 459.1 129.7 459.6 130.2 458.8 130.6 459.2 131.1 458.9 131.5 459.6 132.0 460.2 132.4 460.4 132.9 460.1 133.3 459.6 133.8 460.2 134.2 459.8 134.7 460.2 135.1 460.4 135.6 459.5 136.0 459.0 136.5 459.7 136.9 459.0 137.4 458.7 137.8 459.1 138.3 460.2 138.7 459.4 139.2 458.4 139.6 460.4 140.1 462.0 140.5 461.6 141.0 460.0 141.4 460.0 141.9 460.5 142.3 460.7 142.8 459.9 143.2 459.3 143.7 460.2 144.1 459.8 144.6 456.1 144.8 453.5 145.0 457.8 145.5 459.7 145.9 460.4 146.4 460.8 146.8 460.5 147.3 459.7 147.7 459.2 148.2 460.5 148.6 461.7 149.1 461.8 149.5 460.5 150.0 460.4 150.4 461.4 150.9 461.5 151.3 460.8 151.8 460.5 152.2 459.9 152.7 460.1 153.1 459.6 153.6 459.8 154.0 459.9 154.5 459.3 154.9 458.3 155.4 459.1 155.8 460.2 156.3 460.1 156.7 460.0 157.2 460.6 157.6 461.0 158.1 460.8 158.5 459.8 159.0 459.9 159.4 459.8 159.9 459.1 160.3 458.9 160.8 459.6 161.2 460.1 161.7 461.6 162.1 460.6 162.6 460.0 163.0 460.4 163.5 461.3 163.9 460.0 164.4 459.8 164.8 459.7 165.3 460.0 165.7 460.5 166.2 460.8 166.6 459.6 167.1 460.4 167.5 461.4 168.0 460.3 168.4 459.9 168.9 459.1 169.3 458.2 169.8 460.0 170.2 461.1 170.7 459.9 171.1 459.0 171.6 460.2 172.0 460.8 172.5 461.4 172.9 461.3 173.4 460.6 173.8 460.2 174.3 459.5 174.7 460.9 175.2 460.9" fill="none" stroke="#ff00ff" stroke-width="1.6" stroke-linejoin="round"/>
<path d="M30.3 455.5 30.7 457.9 31.2 458.9 31.6 460.3 32.1 461.1 32.5 462.0 33.0 464.4 33.4 465.8 33.9 466.3 34.3 467.8 34.8 468.6 35.2 469.0 35.7 468.6 36.1 468.7 36.6 470.7 37.0 471.5 37.5 471.3 37.9 471.3 38.4 471.7 38.8 472.1 39.3 471.8 39.7 471.5 40.2 472.8 40.6 472.4 41.1 472.9 41.5 473.6 42.0 473.7 42.4 473.4 42.9 475.1 43.3 475.6 43.8 475.8 44.2 475.9 44.7 474.1 45.1 472.9 45.6 475.2 46.0 476.9 46.5 476.7 46.9 475.7 47.4 475.8 47.8 475.7 48.3 474.7 48.7 475.0 49.2 475.9 49.6 477.0 50.1 476.4 50.5 477.0 51.0 475.9 51.4 474.8 51.9 474.5 52.0 473.2 52.3 475.6 52.8 477.1 53.2 475.8 53.7 475.3 54.1 476.6 54.6 476.2 55.0 475.0 55.5 475.0 55.9 475.8 56.4 476.5 56.8 476.0 57.3 476.0 57.7 475.0 58.0 473.9 58.2 474.6 58.6 475.9 59.1 475.1 59.5 476.4 60.0 476.3 60.4 475.2 60.9 473.1 61.3 469.7 61.4 470.1 61.8 473.2 62.2 474.3 62.7 474.8 63.1 475.6 63.6 476.4 64.0 476.1 64.5 476.4 64.9 477.1 65.4 476.5 65.8 476.4 66.3 475.8 66.7 476.3 67.2 476.5 67.6 476.4 68.1 475.8 68.5 475.4 69.0 475.8 69.4 476.2 69.9 477.2 70.3 477.0 70.8 475.8 71.2 476.4 71.7 476.3 72.1 476.4 72.6 475.7 73.0 475.4 73.5 476.8 73.9 476.6 74.4 475.0 74.8 474.4 75.3 474.9 75.7 474.4 76.2 469.5 76.4 459.1 76.6 472.7 77.1 476.0 77.5 477.3 78.0 477.3 78.4 475.9 78.9 475.2 79.3 476.7 79.8 477.6 80.2 478.6 80.7 478.2 81.1 477.7 81.6 477.5 82.0 476.1 82.5 476.2 82.9 476.7 83.4 477.7 83.8 476.5 84.3 474.7 84.7 476.4 85.2 476.3 85.6 476.6 86.1 476.3 86.5 476.6 87.0 477.0 87.4 476.5 87.9 476.1 88.3 477.3 88.8 477.1 89.2 476.7 89.7 476.8 90.1 476.7 90.6 477.7 91.0 477.2 91.5 476.9 91.9 476.6 92.4 475.6 92.8 475.5 93.3 476.4 93.7 477.1 94.2 477.6 94.6 476.9 95.1 475.9 95.5 476.8 96.0 477.4 96.4 477.5 96.9 476.7 97.3 476.0 97.8 476.9 98.2 476.4 98.7 476.4 99.1 475.7 99.6 476.5 100.0 476.4 100.5 477.5 100.9 478.3 101.4 477.5 101.8 475.7 102.3 475.4 102.7 475.8 103.2 476.9 103.6 476.9 104.1 476.6 104.5 476.3 105.0 473.2 105.0 473.6 105.4 477.3 105.9 476.8 106.3 476.2 106.8 474.9 107.2 475.0 107.7 475.5 108.1 475.6 108.6 476.7 109.0 477.3 109.5 476.4 109.9 476.0 110.4 476.2 110.8 476.5 111.3 476.4 111.7 476.9 112.2 477.1 112.6 477.2 113.1 477.3 113.5 476.9 114.0 477.2 114.4 478.0 114.9 477.3 115.3 477.3 115.8 476.8 116.2 476.3 116.7 476.1 117.1 476.0 117.6 476.4 118.0 476.2 118.5 476.6 118.9 477.5 119.4 477.3 119.8 477.6 120.3 477.5 120.7 477.3 121.2 476.6 121.6 477.4 122.1 479.0 122.5 478.3 123.0 477.8 123.4 477.5 123.9 477.3 124.3 476.0 124.8 476.1 125.2 477.2 125.7 477.5 126.1 476.8 126.6 476.6 127.0 476.6 127.5 476.4 127.9 475.7 128.4 475.6 128.8 476.2 129.3 475.5 129.7 475.7 130.2 476.0 130.6 476.2 131.1 476.8 131.5 476.8 132.0 476.6 132.4 476.1 132.9 476.4 133.3 477.4 133.8 477.4 134.2 476.9 134.7 477.3 135.1 477.4 135.6 477.7 136.0 478.2 136.5 477.3 136.9 477.5 137.4 477.5 137.8 476.8 138.3 476.5 138.7 477.5 139.2 477.6 139.6 477.3 140.1 477.3 140.5 477.0 141.0 476.7 141.4 476.8 141.9 476.0 142.3 476.4 142.8 476.1 143.2 476.8 143.7 477.5 144.1 476.9 144.6 476.0 145.0 474.6 145.0 474.3 145.5 476.1 145.9 477.1 146.4 478.4 146.8 478.3 147.3 477.6 147.7 476.8 148.2 477.2 148.6 476.6 149.1 476.9 149.5 476.1 150.0 473.2 150.0 472.1 150.4 477.0 150.9 477.6 151.3 476.2 151.8 477.2 152.2 478.8 152.7 478.3 153.1 476.5 153.6 476.5 154.0 476.4 154.5 476.5 154.9 477.4 155.4 478.9 155.8 478.2 156.3 477.5 156.7 477.6 157.2 478.3 157.6 478.2 158.1 477.6 158.5 478.4 159.0 477.3 159.4 477.5 159.9 478.5 160.3 479.1 160.8 478.1 161.2 478.3 161.7 479.1 162.1 478.9 162.6 479.1 163.0 479.0 163.5 478.6 163.9 478.7 164.4 478.8 164.8 478.6 165.3 478.7 165.7 476.8 166.2 477.3 166.6 479.0 167.1 478.6 167.5 477.8 168.0 478.5 168.4 478.9 168.9 478.2 169.3 478.6 169.8 478.3 170.2 478.1 170.7 478.4 171.1 478.8 171.6 477.6 172.0 477.9 172.5 478.4 172.9 477.2 173.4 477.0 173.8 478.4 174.3 478.5 174.7 478.3 175.2 478.5" fill="none" stroke="#0000ff" stroke-width="1.6" stroke-linejoin="round"/>
<path d="M30.3 465.2 30.7 470.0 31.2 470.9 31.6 472.4 32.1 474.1 32.5 477.0 33.0 479.9 33.4 480.8 33.9 481.6 34.3 482.5 34.8 484.4 35.2 484.2 35.7 484.0 36.1 485.6 36.6 486.1 37.0 487.0 37.5 487.5 37.9 487.9 38.4 488.1 38.8 487.5 39.3 487.8 39.7 489.5 40.2 489.7 40.6 489.9 41.1 489.4 41.5 488.5 42.0 489.6 42.4 491.5 42.9 490.9 43.3 490.7 43.8 490.5 44.2 491.2 44.7 491.8 45.1 492.2 45.6 492.4 46.0 492.2 46.5 492.4 46.9 493.0 47.4 493.4 47.8 493.7 48.3 494.7 48.7 494.0 49.2 493.5 49.6 493.2 50.1 493.7 50.5 492.3 51.0 491.2 51.4 490.4 51.9 482.3 52.0 480.2 52.3 489.8 52.8 492.4 53.2 491.9 53.7 493.2 54.1 494.4 54.6 492.9 55.0 492.4 55.5 493.8 55.9 494.7 56.4 494.3 56.8 493.2 57.3 493.1 57.7 493.0 58.2 492.6 58.6 488.0 59.0 479.6 59.1 480.7 59.5 489.1 60.0 491.0 60.4 489.3 60.9 482.8 61.1 480.2 61.3 484.5 61.8 491.2 62.2 492.3 62.7 492.9 63.1 493.1 63.6 493.2 64.0 493.7 64.5 495.1 64.9 495.8 65.4 493.6 65.8 493.5 66.3 493.4 66.7 493.0 67.2 493.4 67.6 493.1 68.1 493.7 68.5 494.0 69.0 492.6 69.4 493.4 69.9 493.8 70.3 493.2 70.8 493.9 71.2 493.9 71.7 493.7 72.1 494.0 72.6 493.0 73.0 493.5 73.5 493.1 73.9 492.4 74.4 492.6 74.8 492.7 75.3 492.3 75.7 489.8 76.2 486.8 76.4 486.4 76.6 488.0 77.1 489.3 77.5 490.3 77.5 489.4 78.0 490.9 78.4 491.9 78.9 492.5 79.3 492.0 79.8 491.2 80.2 492.0 80.7 494.0 81.1 493.7 81.6 493.2 82.0 493.8 82.5 493.1 82.9 492.6 83.4 492.9 83.8 494.7 84.3 495.2 84.7 493.5 85.2 493.9 85.6 495.0 86.1 494.9 86.5 492.5 87.0 493.4 87.4 493.9 87.9 492.9 88.3 493.7 88.8 494.2 89.2 494.2 89.7 493.6 90.1 493.7 90.6 493.5 91.0 493.8 91.5 493.2 91.9 490.3 92.0 490.1 92.4 493.8 92.8 494.9 93.3 494.4 93.7 493.4 94.2 493.7 94.6 495.1 95.1 494.5 95.5 493.4 96.0 493.7 96.4 493.9 96.9 493.5 97.3 493.4 97.8 494.7 98.2 494.5 98.7 493.5 99.1 492.5 99.6 493.1 100.0 493.9 100.5 494.4 100.9 494.1 101.4 494.6 101.8 494.1 102.3 492.7 102.7 491.4 103.2 492.0 103.6 492.4 104.1 493.3 104.5 493.5 105.0 491.0 105.0 490.0 105.4 492.7 105.9 495.2 106.3 494.6 106.8 493.7 107.2 493.4 107.7 493.1 108.1 494.2 108.6 494.8 109.0 495.5 109.5 495.4 109.9 495.2 110.4 495.1 110.8 494.0 111.3 493.7 111.7 493.6 112.2 493.1 112.6 493.6 113.1 494.0 113.5 494.5 114.0 493.8 114.4 492.8 114.9 494.1 115.3 494.7 115.8 493.0 116.2 493.2 116.7 493.7 117.1 493.1 117.6 493.5 118.0 493.8 118.5 493.4 118.9 494.2 119.4 494.3 119.8 493.5 120.3 494.3 120.7 495.0 121.2 494.5 121.6 494.7 122.1 494.8 122.5 494.6 123.0 495.1 123.4 494.6 123.9 493.9 124.3 494.7 124.8 495.4 125.2 495.1 125.7 494.3 126.1 495.0 126.6 495.6 127.0 495.3 127.5 495.7 127.9 495.7 128.4 495.0 128.8 494.9 129.3 494.8 129.7 495.2 130.2 494.6 130.6 494.2 131.1 494.4 131.5 494.7 132.0 495.0 132.4 494.8 132.9 493.8 133.3 494.0 133.8 494.9 134.2 495.2 134.7 495.5 135.1 496.9 135.6 496.2 136.0 495.2 136.5 495.6 136.9 496.0 137.4 495.0 137.8 493.7 138.3 494.5 138.7 495.5 139.2 496.0 139.6 494.5 140.1 495.6 140.5 495.4 141.0 495.5 141.4 495.1 141.9 495.3 142.3 495.9 142.8 495.6 143.2 495.8 143.7 495.2 144.1 494.7 144.6 494.8 145.0 494.7 145.5 495.3 145.9 495.9 146.4 494.3 146.8 493.7 147.3 495.2 147.7 496.7 148.2 496.8 148.6 496.8 149.1 496.4 149.5 495.1 150.0 494.6 150.4 493.3 150.9 494.5 151.3 495.3 151.8 494.0 152.2 493.3 152.7 494.1 153.1 495.6 153.6 497.0 154.0 498.0 154.5 496.8 154.9 494.3 155.4 493.6 155.8 495.4 156.3 496.0 156.7 494.6 157.2 494.8 157.6 495.3 158.1 495.6 158.5 495.8 159.0 496.4 159.4 496.7 159.9 496.3 160.3 496.9 160.8 497.2 161.2 495.4 161.7 495.0 162.1 496.5 162.6 497.4 163.0 496.8 163.5 496.7 163.9 496.3 164.4 496.5 164.8 496.0 165.3 496.5 165.7 496.7 166.2 496.8 166.6 497.5 167.1 497.1 167.5 496.2 168.0 496.3 168.4 495.5 168.9 497.2 169.3 498.6 169.8 497.5 170.2 496.9 170.7 496.7 171.1 496.9 171.6 496.5 172.0 496.8 172.5 496.3 172.9 496.2 173.4 496.5 173.8 496.1 174.3 495.8 174.7 497.7 175.2 497.2" fill="none" stroke="#ff0000" stroke-width="1.6" stroke-linejoin="round"/>
<path d="M30.3 485.0 30.7 489.3 31.2 491.5 31.6 493.5 32.1 495.5 32.5 495.6 33.0 495.9 33.4 498.8 33.9 500.8 34.3 501.9 34.8 501.7 35.2 502.5 35.7 503.6 36.1 503.9 36.6 504.4 37.0 505.0 37.5 505.4 37.9 506.8 38.4 506.2 38.8 506.6 39.3 506.8 39.7 507.0 40.2 508.2 40.6 509.2 41.1 509.7 41.5 509.2 42.0 508.8 42.4 509.2 42.9 508.4 43.3 509.3 43.8 510.2 44.2 510.1 44.7 509.0 45.1 509.3 45.6 511.1 46.0 510.2 46.5 509.1 46.9 509.5 47.4 510.9 47.8 511.9 48.3 511.6 48.7 512.0 49.2 511.7 49.6 511.7 50.1 511.7 50.5 510.8 51.0 510.3 51.4 508.1 51.9 496.6 52.0 494.9 52.3 505.3 52.8 509.4 53.2 510.0 53.7 510.5 54.1 510.8 54.6 511.7 55.0 511.4 55.5 511.5 55.9 511.5 56.4 508.9 56.8 508.6 57.3 508.2 57.7 509.3 58.2 508.7 58.6 502.7 59.0 493.1 59.1 494.1 59.5 506.7 60.0 508.9 60.4 507.9 60.9 504.4 61.3 494.2 61.4 493.6 61.8 503.3 62.2 508.7 62.7 510.0 63.1 510.3 63.6 511.2 64.0 510.2 64.5 510.0 64.9 511.0 65.4 511.2 65.8 511.1 66.3 510.8 66.7 510.9 67.2 510.3 67.6 509.9 68.1 511.0 68.5 510.4 69.0 510.8 69.4 511.4 69.9 511.7 70.3 512.4 70.8 510.1 71.2 509.7 71.7 510.5 72.1 510.9 72.6 509.3 73.0 508.0 73.5 508.4 73.9 507.3 74.0 507.5 74.4 508.0 74.8 507.2 75.3 506.7 75.7 505.3 76.2 501.3 76.4 500.5 76.6 501.3 77.1 505.6 77.5 507.3 78.0 508.6 78.4 511.2 78.9 511.5 79.3 511.2 79.8 510.4 80.2 510.6 80.7 510.5 81.1 510.1 81.6 511.0 82.0 510.7 82.5 510.5 82.9 510.3 83.4 511.7 83.8 512.1 84.3 511.4 84.7 510.4 85.2 510.5 85.6 510.3 86.0 507.5 86.1 507.9 86.5 510.3 87.0 510.6 87.4 511.5 87.9 510.2 88.3 511.0 88.8 510.9 89.2 510.2 89.7 511.3 90.1 511.8 90.6 511.3 91.0 510.9 91.5 511.8 91.9 512.3 92.4 512.2 92.8 512.9 93.3 512.6 93.7 512.5 94.2 512.4 94.6 511.1 95.1 511.0 95.5 511.8 96.0 512.2 96.4 512.8 96.9 512.5 97.3 511.4 97.8 509.1 98.0 507.2 98.2 509.0 98.7 510.8 99.1 511.7 99.6 511.2 100.0 511.1 100.5 511.3 100.9 511.0 101.4 510.6 101.8 509.8 102.3 510.7 102.7 509.4 103.0 507.7 103.2 509.0 103.6 510.4 104.1 512.7 104.5 512.2 105.0 511.3 105.4 510.5 105.9 511.7 106.3 512.0 106.8 511.6 107.2 512.1 107.7 512.6 108.1 511.6 108.6 511.3 109.0 512.5 109.5 511.9 109.9 510.4 110.0 511.5 110.4 511.9 110.8 511.7 111.3 511.8 111.7 511.7 112.2 511.9 112.6 511.9 113.1 511.4 113.5 511.6 114.0 512.2 114.4 512.4 114.9 512.6 115.3 512.7 115.8 512.4 116.2 512.3 116.7 511.8 117.1 512.0 117.6 512.2 118.0 510.9 118.5 512.6 118.9 514.0 119.4 511.8 119.8 512.3 120.3 511.3 120.7 512.3 121.2 513.7 121.6 513.3 122.1 511.5 122.5 510.6 123.0 511.0 123.4 512.2 123.9 512.0 124.3 512.1 124.8 512.5 125.2 512.7 125.7 512.7 126.1 512.1 126.6 511.5 127.0 512.3 127.5 510.9 127.9 512.4 128.4 512.1 128.8 511.9 129.3 511.8 129.7 512.0 130.2 512.2 130.6 511.9 131.1 511.8 131.5 512.6 132.0 512.6 132.4 513.3 132.9 512.5 133.3 512.1 133.8 512.9 134.2 513.1 134.7 512.0 135.1 512.5 135.6 513.3 136.0 512.1 136.5 511.8 136.9 512.3 137.4 511.3 137.8 510.3 138.3 511.0 138.7 512.8 139.2 513.5 139.6 513.5 140.1 513.0 140.5 512.2 141.0 513.3 141.4 513.7 141.9 512.9 142.3 513.4 142.8 513.0 143.2 513.1 143.7 513.0 144.1 512.4 144.6 513.6 145.0 512.8 145.5 512.7 145.9 512.9 146.4 513.5 146.8 513.6 147.3 513.7 147.7 514.3 148.2 513.7 148.6 512.4 149.1 511.1 149.5 512.4 150.0 512.9 150.4 512.5 150.9 512.7 151.3 513.9 151.8 514.8 152.2 515.4 152.7 514.6 153.1 513.4 153.6 513.3 154.0 512.9 154.5 513.9 154.9 514.0 155.4 513.3 155.8 513.4 156.3 513.4 156.7 513.6 157.2 515.4 157.6 516.6 158.1 515.5 158.5 514.9 159.0 514.2 159.4 514.3 159.9 515.4 160.3 514.4 160.8 514.2 161.2 514.2 161.7 514.5 162.1 514.4 162.6 514.3 163.0 513.4 163.5 514.2 163.9 515.0 164.4 513.7 164.8 513.9 165.3 515.3 165.7 515.2 166.2 514.7 166.6 513.1 167.1 513.7 167.5 513.3 168.0 513.3 168.4 514.8 168.9 515.2 169.3 513.5 169.8 513.3 170.2 514.0 170.7 514.1 171.1 514.3 171.6 516.2 172.0 515.7 172.5 514.6 172.9 514.9 173.4 517.0 173.8 517.0 174.3 515.2 174.7 515.4 175.2 516.0" fill="none" stroke="#000000" stroke-width="1.6" stroke-linejoin="round"/>
<rect x="29.90" y="370.50" width="145.80" height="150.80" fill="none" stroke="#111" stroke-width="1.1"/>
<line x1="39.01" y1="521.30" x2="39.01" y2="519.80" stroke="#111" stroke-width="0.9"/>
<line x1="54.20" y1="521.30" x2="54.20" y2="518.70" stroke="#111" stroke-width="0.9"/>
<text x="54.20" y="531.80" font-family='"Liberation Serif", serif' font-size="8.8" font-weight="bold" text-anchor="middle" fill="#000" >10</text>
<line x1="69.39" y1="521.30" x2="69.39" y2="519.80" stroke="#111" stroke-width="0.9"/>
<line x1="84.57" y1="521.30" x2="84.57" y2="518.70" stroke="#111" stroke-width="0.9"/>
<text x="84.57" y="531.80" font-family='"Liberation Serif", serif' font-size="8.8" font-weight="bold" text-anchor="middle" fill="#000" >20</text>
<line x1="99.76" y1="521.30" x2="99.76" y2="519.80" stroke="#111" stroke-width="0.9"/>
<line x1="114.95" y1="521.30" x2="114.95" y2="518.70" stroke="#111" stroke-width="0.9"/>
<text x="114.95" y="531.80" font-family='"Liberation Serif", serif' font-size="8.8" font-weight="bold" text-anchor="middle" fill="#000" >30</text>
<line x1="130.14" y1="521.30" x2="130.14" y2="519.80" stroke="#111" stroke-width="0.9"/>
<line x1="145.32" y1="521.30" x2="145.32" y2="518.70" stroke="#111" stroke-width="0.9"/>
<text x="145.32" y="531.80" font-family='"Liberation Serif", serif' font-size="8.8" font-weight="bold" text-anchor="middle" fill="#000" >40</text>
<line x1="160.51" y1="521.30" x2="160.51" y2="519.80" stroke="#111" stroke-width="0.9"/>
<line x1="175.70" y1="521.30" x2="175.70" y2="518.70" stroke="#111" stroke-width="0.9"/>
<text x="175.70" y="531.80" font-family='"Liberation Serif", serif' font-size="8.8" font-weight="bold" text-anchor="middle" fill="#000" >50</text>
<text x="102.80" y="543.60" font-family='"Liberation Serif", serif' font-size="9.5" font-weight="bold" text-anchor="middle" fill="#000" >2-Theta (Deg.)</text>
<text transform="translate(19.80,451.30) rotate(-90)" font-family='"Liberation Serif", serif' font-size="9.6" font-weight="bold" text-anchor="middle" fill="#000">Intensity (a.u.)</text>
<text x="35.80" y="384.84" font-family='"Liberation Sans", sans-serif' font-size="17.2" font-weight="bold" text-anchor="start" fill="#000" >(g)</text>
<text x="70.60" y="383.50" font-family='"Liberation Serif", serif' font-size="13.0" font-weight="bold" textLength="66.20" lengthAdjust="spacingAndGlyphs">MIL-53(Fe)</text>
<line x1="70.60" y1="385.80" x2="136.80" y2="385.80" stroke="#111" stroke-width="1.1"/>
<text x="173.20" y="402.30" font-family='"Liberation Serif", serif' font-size="9.2" font-weight="normal" text-anchor="end" fill="#333" stroke="#333" stroke-width="0.12">pH=5, 20-cycle used</text>
<text x="173.20" y="420.60" font-family='"Liberation Serif", serif' font-size="9.2" font-weight="normal" text-anchor="end" fill="#333" stroke="#333" stroke-width="0.12">pH=5, 5-cycle used</text>
<text x="173.20" y="438.10" font-family='"Liberation Serif", serif' font-size="9.2" font-weight="normal" text-anchor="end" fill="#333" stroke="#333" stroke-width="0.12">pH=5, 1-cycle used</text>
<text x="173.20" y="456.50" font-family='"Liberation Serif", serif' font-size="9.2" font-weight="normal" text-anchor="end" fill="#333" stroke="#333" stroke-width="0.12">pH=3, 20-cycle used</text>
<text x="173.20" y="473.80" font-family='"Liberation Serif", serif' font-size="9.2" font-weight="normal" text-anchor="end" fill="#333" stroke="#333" stroke-width="0.12">pH=3, 5-cycle used</text>
<text x="173.20" y="492.20" font-family='"Liberation Serif", serif' font-size="9.2" font-weight="normal" text-anchor="end" fill="#333" stroke="#333" stroke-width="0.12">pH=3, 1-cycle used</text>
<text x="173.20" y="511.00" font-family='"Liberation Serif", serif' font-size="9.2" font-weight="normal" text-anchor="end" fill="#333" stroke="#333" stroke-width="0.12">Fresh</text>
<path d="M208.6 394.0 209.0 395.6 209.5 397.2 209.9 398.0 210.4 398.7 210.8 399.3 211.3 400.1 211.7 400.8 212.2 400.3 212.6 398.3 212.6 398.8 213.1 401.7 213.5 401.5 214.0 398.8 214.4 387.4 214.5 387.1 214.9 398.1 215.3 402.3 215.8 403.4 216.2 402.1 216.2 402.3 216.7 404.9 217.1 406.0 217.6 406.2 218.0 406.4 218.5 407.1 218.9 407.0 219.4 406.3 219.8 403.9 219.8 404.3 220.3 407.4 220.7 408.2 221.2 408.2 221.6 407.7 222.1 407.8 222.5 408.0 223.0 407.1 223.4 404.9 223.4 404.9 223.9 407.5 224.3 408.2 224.8 408.5 225.2 408.8 225.7 409.1 226.1 409.5 226.6 409.6 227.0 409.2 227.5 409.3 227.9 409.8 228.4 409.8 228.8 409.4 229.3 408.9 229.7 409.1 230.2 409.4 230.6 409.5 231.1 410.0 231.5 409.7 232.0 409.5 232.4 409.2 232.9 409.1 233.3 409.1 233.8 409.1 234.2 409.1 234.7 408.8 235.1 407.6 235.6 402.3 235.8 399.5 236.0 403.0 236.5 407.9 236.9 409.3 237.4 409.4 237.8 409.4 238.3 409.4 238.7 409.7 239.2 409.7 239.6 409.5 240.1 409.5 240.5 409.7 241.0 409.8 241.4 409.6 241.9 409.9 242.3 409.9 242.8 410.3 243.2 410.3 243.7 409.8 244.1 409.8 244.6 410.4 245.0 410.2 245.5 410.0 245.9 409.8 246.4 409.8 246.8 410.1 247.3 410.0 247.7 409.8 248.2 410.1 248.6 410.0 249.1 409.7 249.5 410.0 250.0 410.0 250.4 410.0 250.9 409.8 251.3 409.8 251.8 409.5 252.2 409.7 252.7 409.6 253.1 409.6 253.6 409.3 254.0 409.7 254.5 410.1 254.9 410.1 255.4 410.1 255.8 409.7 256.3 409.9 256.7 408.4 256.9 407.2 257.2 408.4 257.6 409.4 258.1 409.8 258.5 409.7 259.0 409.4 259.4 409.9 259.9 409.8 260.3 409.7 260.8 410.0 261.2 409.9 261.7 409.5 262.0 408.2 262.1 408.6 262.6 410.1 263.0 410.2 263.5 409.8 263.9 409.5 264.4 409.8 264.8 410.1 265.3 410.2 265.7 410.5 266.2 410.3 266.6 410.2 267.1 410.1 267.5 409.9 268.0 410.0 268.4 409.8 268.9 409.4 269.3 409.6 269.8 410.2 270.2 410.1 270.7 410.0 271.1 409.8 271.6 410.0 272.0 410.3 272.5 410.2 272.9 410.2 273.4 410.5 273.8 410.3 274.3 410.2 274.7 410.4 275.2 410.0 275.6 410.2 276.1 410.0 276.5 409.9 277.0 410.1 277.4 410.3 277.9 410.4 278.3 410.4 278.8 410.5 279.2 410.8 279.7 410.9 280.1 410.7 280.6 410.6 281.0 410.2 281.5 410.1 281.9 410.4 282.4 410.5 282.8 410.4 283.3 410.2 283.7 410.8 284.2 410.3 284.6 410.4 285.1 410.6 285.5 410.1 286.0 410.0 286.4 409.8 286.9 409.8 287.3 409.9 287.8 410.4 288.2 410.5 288.7 410.5 289.1 410.9 289.6 410.9 290.0 410.6 290.5 410.4 290.9 410.4 291.4 410.5 291.8 410.8 292.3 410.7 292.7 410.5 293.2 410.5 293.6 410.7 294.1 410.6 294.5 410.6 295.0 410.7 295.4 411.0 295.9 410.9 296.3 410.4 296.8 410.5 297.2 410.8 297.7 410.7 298.1 410.8 298.6 410.9 299.0 410.8 299.5 410.7 299.9 410.8 300.4 410.7 300.8 410.3 301.3 410.3 301.7 410.5 302.2 411.1 302.6 411.0 303.1 410.9 303.5 410.8 304.0 410.6 304.4 410.6 304.9 410.9 305.3 410.9 305.8 411.2 306.2 411.0 306.7 410.8 307.1 410.8 307.6 410.8 308.0 411.0 308.5 411.4 308.9 411.4 309.4 410.8 309.8 410.9 310.3 411.0 310.7 410.7 311.2 410.6 311.6 410.5 312.1 410.3 312.5 410.9 313.0 411.0 313.4 410.9 313.9 411.0 314.3 411.2 314.8 411.5 315.2 411.3 315.7 411.1 316.1 410.9 316.6 411.0 317.0 410.9 317.5 410.9 317.9 410.7 318.4 410.8 318.8 411.1 319.3 411.3 319.7 411.2 320.2 411.0 320.6 410.9 321.1 410.6 321.5 411.1 322.0 411.2 322.4 411.3 322.9 411.4 323.3 411.2 323.8 411.3 324.2 411.1 324.7 411.2 325.1 411.1 325.6 411.3 326.0 411.5 326.5 411.1 326.9 411.0 327.4 411.1 327.8 411.5 328.3 411.9 328.7 411.1 329.2 410.6 329.6 410.8 330.1 410.8 330.5 411.0 331.0 411.1 331.4 411.0 331.9 410.9 332.3 410.8 332.8 411.1 333.2 411.2 333.7 411.6 334.1 411.6 334.6 411.2 335.0 411.2 335.5 411.4 335.9 411.4 336.4 411.0 336.8 411.4 337.3 411.8 337.7 411.5 338.2 411.5 338.6 411.3 339.1 411.2 339.5 411.6 340.0 411.6 340.4 411.6 340.9 411.7 341.3 411.6 341.8 411.1 342.2 411.4 342.7 411.4 343.1 411.4 343.6 411.3 344.0 411.3 344.5 411.7 344.9 411.6 345.4 411.5 345.8 411.5 346.3 411.6 346.7 411.4 347.2 410.9 347.6 411.2 348.1 411.5 348.5 411.9 349.0 411.9 349.4 411.7 349.9 412.0 350.3 411.9 350.8 411.7 351.2 411.5 351.7 411.6 352.1 412.0 352.6 411.8 353.0 411.8 353.5 412.0" fill="none" stroke="#8000ff" stroke-width="1.7" stroke-linejoin="round"/>
<path d="M208.6 405.3 209.0 409.3 209.5 413.3 209.9 416.7 210.4 419.1 210.8 419.9 211.3 419.9 211.7 420.1 212.2 420.0 212.6 418.2 213.1 407.9 213.3 401.9 213.5 409.8 214.0 418.3 214.4 420.7 214.9 422.1 215.3 422.5 215.8 421.9 216.2 421.2 216.7 416.5 216.9 413.2 217.1 418.2 217.6 422.9 218.0 423.3 218.5 424.3 218.9 424.6 219.4 424.7 219.8 423.5 220.3 417.8 220.5 414.6 220.7 419.3 221.2 424.1 221.6 424.9 222.1 424.6 222.5 422.3 222.7 421.2 223.0 424.5 223.4 425.9 223.9 426.1 224.3 426.3 224.8 426.7 225.2 426.6 225.7 426.7 226.1 427.3 226.6 427.4 227.0 426.9 227.5 426.8 227.9 427.1 228.4 427.1 228.8 427.6 229.3 427.3 229.7 427.2 230.2 426.8 230.6 427.0 231.1 427.4 231.5 427.2 232.0 427.1 232.4 427.6 232.9 427.3 233.3 426.8 233.8 426.3 234.2 425.6 234.7 421.5 235.0 415.2 235.1 417.5 235.6 424.8 236.0 426.6 236.5 426.9 236.9 427.2 237.4 427.3 237.8 427.1 238.3 427.4 238.7 427.4 239.2 427.1 239.6 427.6 240.1 428.2 240.5 427.6 241.0 427.3 241.4 427.1 241.9 427.3 242.3 427.3 242.8 427.5 243.2 427.3 243.7 427.1 244.1 427.5 244.6 427.3 245.0 427.1 245.5 427.2 245.9 427.1 246.4 427.1 246.8 425.9 247.0 425.4 247.3 426.6 247.7 427.0 248.2 427.3 248.6 427.1 249.1 427.6 249.5 427.6 250.0 427.3 250.4 427.3 250.9 427.5 251.3 427.4 251.8 427.5 252.2 427.6 252.7 427.4 253.1 427.4 253.6 427.6 254.0 427.7 254.5 427.5 254.9 427.4 255.4 427.5 255.8 427.6 256.3 427.4 256.7 425.6 257.0 424.4 257.2 425.5 257.6 427.2 258.1 427.7 258.5 427.5 259.0 427.6 259.4 427.7 259.9 427.2 260.3 427.2 260.8 427.3 261.2 427.3 261.7 426.8 262.0 425.6 262.1 426.4 262.6 427.3 263.0 427.5 263.5 427.9 263.9 427.9 264.4 427.7 264.8 427.8 265.3 427.9 265.7 427.8 266.2 427.7 266.6 427.5 267.1 427.5 267.5 427.2 268.0 427.2 268.4 427.4 268.9 427.9 269.3 427.7 269.8 427.7 270.2 427.5 270.7 427.6 271.1 427.6 271.6 427.6 272.0 427.8 272.5 427.5 272.9 428.0 273.4 428.4 273.8 427.8 274.3 427.6 274.7 427.4 275.2 427.5 275.6 427.4 276.1 427.8 276.5 427.6 277.0 427.2 277.4 427.3 277.9 427.3 278.3 427.7 278.8 428.0 279.2 427.8 279.7 427.5 280.1 427.6 280.6 427.7 281.0 427.4 281.5 427.9 281.9 427.9 282.4 427.5 282.8 427.9 283.3 427.6 283.7 427.9 284.2 428.1 284.6 427.5 285.1 427.3 285.5 427.5 286.0 427.6 286.4 427.8 286.9 427.8 287.3 427.8 287.8 427.8 288.2 427.9 288.7 427.8 289.1 428.1 289.6 428.0 290.0 428.0 290.5 428.3 290.9 428.0 291.4 428.1 291.8 428.0 292.3 428.2 292.7 428.3 293.2 428.5 293.6 428.5 294.1 428.3 294.5 428.8 295.0 428.4 295.4 427.9 295.9 428.0 296.3 428.8 296.8 428.8 297.2 428.4 297.7 428.5 298.1 428.6 298.6 428.3 299.0 428.1 299.5 428.3 299.9 428.5 300.4 428.2 300.8 428.0 301.3 428.2 301.7 427.9 302.2 428.1 302.6 428.6 303.1 428.5 303.5 428.4 304.0 428.5 304.4 428.6 304.9 428.3 305.3 427.9 305.8 428.0 306.2 427.5 306.7 427.8 307.1 428.7 307.6 428.8 308.0 428.4 308.5 428.4 308.9 428.5 309.4 428.6 309.8 428.3 310.3 428.1 310.7 428.3 311.2 428.5 311.6 428.5 312.1 428.5 312.5 428.6 313.0 428.3 313.4 428.4 313.9 428.3 314.3 428.3 314.8 428.8 315.2 428.5 315.7 428.3 316.1 428.4 316.6 428.4 317.0 428.7 317.5 429.0 317.9 428.9 318.4 428.4 318.8 428.7 319.3 429.1 319.7 428.9 320.2 429.1 320.6 429.0 321.1 428.6 321.5 428.9 322.0 429.1 322.4 429.1 322.9 429.3 323.3 429.0 323.8 428.9 324.2 428.9 324.7 428.8 325.1 428.7 325.6 428.5 326.0 429.0 326.5 428.9 326.9 428.9 327.4 429.0 327.8 428.9 328.3 428.9 328.7 428.7 329.2 428.4 329.6 428.7 330.1 429.1 330.5 428.7 331.0 428.7 331.4 429.4 331.9 429.5 332.3 429.4 332.8 429.1 333.2 429.1 333.7 429.2 334.1 429.2 334.6 428.9 335.0 428.6 335.5 428.6 335.9 428.7 336.4 429.3 336.8 429.0 337.3 429.0 337.7 429.1 338.2 429.1 338.6 429.1 339.1 428.8 339.5 428.8 340.0 429.3 340.4 429.0 340.9 428.9 341.3 428.8 341.8 428.9 342.2 429.2 342.7 429.3 343.1 429.0 343.6 429.1 344.0 429.1 344.5 429.3 344.9 429.0 345.4 429.2 345.8 429.3 346.3 429.0 346.7 429.2 347.2 429.2 347.6 429.1 348.1 429.2 348.5 429.5 349.0 429.4 349.4 429.2 349.9 429.3 350.3 429.5 350.8 429.7 351.2 429.7 351.7 429.7 352.1 429.7 352.6 429.0 353.0 428.7 353.5 428.7" fill="none" stroke="#000080" stroke-width="1.7" stroke-linejoin="round"/>
<path d="M208.6 422.0 209.0 426.0 209.5 430.3 209.9 433.7 210.4 435.2 210.8 436.0 211.3 436.7 211.7 437.0 212.2 436.4 212.6 434.7 213.1 423.9 213.3 417.1 213.5 426.3 214.0 436.4 214.4 438.5 214.9 439.2 215.3 439.6 215.8 439.9 216.2 439.0 216.7 433.7 216.9 430.5 217.1 435.2 217.6 439.9 218.0 441.2 218.5 441.8 218.9 442.1 219.4 442.1 219.8 440.9 220.3 435.0 220.5 431.6 220.7 436.2 221.2 440.9 221.6 442.0 222.1 442.4 222.5 439.7 222.7 438.5 223.0 441.6 223.4 443.6 223.9 443.9 224.3 443.7 224.8 443.9 225.2 443.9 225.7 443.9 226.1 444.3 226.6 444.4 227.0 444.7 227.5 445.1 227.9 445.0 228.4 444.8 228.8 444.4 229.3 444.3 229.7 444.7 230.2 444.5 230.6 444.4 231.1 444.4 231.5 444.7 232.0 445.0 232.4 444.5 232.9 444.3 233.3 444.2 233.8 443.8 234.2 442.3 234.7 437.1 235.0 430.4 235.1 433.3 235.6 441.6 236.0 443.3 236.5 443.8 236.9 444.2 237.4 444.3 237.8 444.1 238.3 444.4 238.7 444.7 239.2 444.6 239.6 444.3 240.1 444.5 240.5 444.7 241.0 444.8 241.4 444.5 241.9 444.7 242.3 444.7 242.8 444.8 243.2 444.9 243.7 444.5 244.1 444.5 244.6 444.7 245.0 444.9 245.5 444.6 245.9 444.3 246.4 444.3 246.8 443.5 247.0 443.1 247.3 443.9 247.7 444.5 248.2 444.7 248.6 444.7 249.1 444.5 249.5 444.7 250.0 444.9 250.4 444.9 250.9 444.8 251.3 444.6 251.8 444.6 252.2 444.7 252.7 445.2 253.1 445.3 253.6 445.2 254.0 445.2 254.5 444.9 254.9 444.6 255.4 444.5 255.8 444.6 256.3 444.4 256.7 443.2 257.0 442.0 257.2 442.7 257.6 444.1 258.1 444.6 258.5 444.8 259.0 444.9 259.4 445.1 259.9 444.9 260.3 445.0 260.8 445.4 261.2 445.2 261.7 444.2 262.0 442.7 262.1 443.4 262.6 444.8 263.0 445.3 263.5 445.6 263.9 445.2 264.4 445.0 264.8 445.0 265.3 445.0 265.7 444.9 266.2 444.9 266.6 445.3 267.1 445.3 267.5 445.4 268.0 445.1 268.4 445.2 268.9 445.2 269.3 444.7 269.8 444.8 270.2 445.3 270.7 445.1 271.1 444.7 271.6 444.8 272.0 444.9 272.5 445.2 272.9 445.5 273.4 445.4 273.8 445.7 274.3 445.3 274.7 445.2 275.2 445.7 275.6 445.8 276.1 445.9 276.5 446.0 277.0 445.8 277.4 445.6 277.9 445.0 278.3 445.1 278.8 445.4 279.2 445.5 279.7 445.5 280.1 445.4 280.6 445.8 281.0 446.0 281.5 445.8 281.9 445.7 282.4 445.7 282.8 445.7 283.3 445.6 283.7 445.4 284.2 445.5 284.6 445.4 285.1 445.2 285.5 445.5 286.0 445.6 286.4 445.5 286.9 445.5 287.3 445.7 287.8 445.7 288.2 445.5 288.7 445.7 289.1 445.9 289.6 445.8 290.0 445.4 290.5 445.3 290.9 445.5 291.4 445.6 291.8 446.1 292.3 445.6 292.7 445.5 293.2 445.7 293.6 445.4 294.1 445.1 294.5 445.4 295.0 445.4 295.4 445.4 295.9 445.2 296.3 445.4 296.8 445.6 297.2 445.6 297.7 445.4 298.1 445.4 298.6 445.5 299.0 445.7 299.5 445.7 299.9 445.5 300.4 445.8 300.8 445.7 301.3 445.8 301.7 445.7 302.2 445.8 302.6 445.8 303.1 445.9 303.5 446.0 304.0 446.0 304.4 446.0 304.9 445.8 305.3 445.6 305.8 445.6 306.2 445.2 306.7 445.2 307.1 445.7 307.6 446.0 308.0 446.4 308.5 446.3 308.9 446.3 309.4 446.1 309.8 446.2 310.3 446.4 310.7 446.3 311.2 446.2 311.6 446.0 312.1 445.8 312.5 445.7 313.0 445.7 313.4 446.1 313.9 446.0 314.3 446.0 314.8 446.1 315.2 446.1 315.7 446.5 316.1 446.7 316.6 446.4 317.0 446.0 317.5 446.0 317.9 446.6 318.4 446.4 318.8 446.1 319.3 446.3 319.7 445.9 320.2 446.0 320.6 446.2 321.1 446.1 321.5 446.2 322.0 446.8 322.4 446.5 322.9 446.4 323.3 446.3 323.8 445.9 324.2 446.1 324.7 446.5 325.1 446.6 325.6 446.4 326.0 446.5 326.5 446.4 326.9 446.4 327.4 446.0 327.8 446.4 328.3 446.3 328.7 446.1 329.2 445.7 329.6 446.1 330.1 446.8 330.5 447.1 331.0 446.5 331.4 446.4 331.9 446.7 332.3 446.7 332.8 446.5 333.2 446.5 333.7 446.6 334.1 446.8 334.6 447.0 335.0 447.2 335.5 447.1 335.9 446.9 336.4 446.9 336.8 446.9 337.3 446.7 337.7 447.2 338.2 447.1 338.6 447.1 339.1 446.8 339.5 447.0 340.0 447.0 340.4 446.7 340.9 446.6 341.3 446.7 341.8 447.3 342.2 447.3 342.7 447.0 343.1 446.9 343.6 446.6 344.0 446.3 344.5 446.3 344.9 446.6 345.4 446.8 345.8 446.7 346.3 447.1 346.7 447.2 347.2 446.9 347.6 446.6 348.1 446.8 348.5 446.9 349.0 446.6 349.4 446.6 349.9 447.4 350.3 447.4 350.8 447.2 351.2 447.6 351.7 447.6 352.1 447.4 352.6 447.3 353.0 447.5 353.5 447.6" fill="none" stroke="#008000" stroke-width="1.7" stroke-linejoin="round"/>
<path d="M208.6 452.6 209.0 454.1 209.5 455.3 209.9 455.9 210.4 457.0 210.8 457.6 211.3 458.0 211.7 458.4 212.2 458.7 212.6 458.8 213.1 458.6 213.5 457.6 214.0 454.7 214.0 454.6 214.4 458.0 214.9 459.0 215.3 459.7 215.8 460.0 216.2 459.8 216.7 460.2 217.1 460.7 217.6 460.5 218.0 460.1 218.5 459.9 218.9 460.6 219.4 461.0 219.8 461.3 220.3 461.6 220.7 461.3 221.2 461.2 221.6 461.2 222.1 461.4 222.5 461.6 223.0 461.9 223.4 461.9 223.9 461.7 224.3 461.9 224.8 462.3 225.2 462.1 225.7 462.5 226.1 462.8 226.6 462.7 227.0 462.6 227.5 462.8 227.9 462.7 228.4 462.5 228.8 462.6 229.3 462.8 229.7 462.9 230.2 462.9 230.6 462.6 231.1 462.4 231.5 462.5 232.0 462.6 232.4 462.5 232.9 462.8 233.3 462.6 233.8 462.1 234.2 461.5 234.7 461.7 235.1 461.8 235.6 459.0 235.8 457.7 236.0 459.3 236.5 461.6 236.9 461.7 237.4 461.7 237.8 462.1 238.3 462.6 238.7 462.9 239.2 462.9 239.6 462.6 240.1 462.5 240.5 462.8 241.0 462.8 241.4 462.7 241.9 462.7 242.3 462.6 242.8 462.5 243.2 462.5 243.7 462.5 244.1 462.8 244.6 462.9 245.0 462.9 245.5 462.6 245.9 463.0 246.4 462.9 246.8 462.7 247.3 462.6 247.7 462.5 248.2 462.5 248.6 462.9 249.1 462.9 249.5 463.1 250.0 463.1 250.4 462.8 250.9 462.8 251.3 462.9 251.8 463.1 252.2 463.0 252.7 463.0 253.1 463.1 253.6 463.1 254.0 463.3 254.5 462.9 254.9 463.2 255.4 463.2 255.8 462.8 256.3 462.8 256.7 462.3 257.0 461.6 257.2 461.7 257.6 462.6 258.1 462.6 258.5 462.9 259.0 463.3 259.4 462.9 259.9 462.3 260.3 462.4 260.8 462.7 261.2 463.1 261.7 462.8 262.1 462.7 262.6 463.2 263.0 463.2 263.5 463.1 263.9 463.0 264.4 463.3 264.8 463.0 265.3 462.5 265.7 462.6 266.2 462.8 266.6 463.1 267.1 463.2 267.5 463.0 268.0 463.1 268.4 463.6 268.9 463.3 269.3 463.0 269.8 463.0 270.2 462.9 270.7 463.3 271.1 463.4 271.6 463.2 272.0 463.4 272.5 463.2 272.9 463.2 273.4 463.0 273.8 462.9 274.3 462.8 274.7 463.2 275.2 463.2 275.6 463.1 276.1 462.9 276.5 462.9 277.0 463.1 277.4 463.4 277.9 463.4 278.3 463.2 278.8 463.5 279.2 463.8 279.7 463.7 280.1 463.9 280.6 463.7 281.0 463.7 281.5 463.4 281.9 463.5 282.4 463.2 282.8 463.3 283.3 463.2 283.7 462.8 284.2 463.0 284.6 463.6 285.1 463.7 285.5 463.8 286.0 463.4 286.4 462.8 286.9 463.2 287.3 463.3 287.8 463.3 288.2 463.3 288.7 463.2 289.1 463.3 289.6 463.8 290.0 463.7 290.5 463.4 290.9 463.4 291.4 463.8 291.8 463.7 292.3 463.5 292.7 463.2 293.2 463.3 293.6 463.1 294.1 463.1 294.5 463.6 295.0 463.6 295.4 463.4 295.9 463.4 296.3 463.9 296.8 464.2 297.2 464.0 297.7 463.8 298.1 463.4 298.6 463.6 299.0 463.9 299.5 464.0 299.9 463.7 300.4 463.5 300.8 463.6 301.3 463.7 301.7 464.1 302.2 464.0 302.6 463.9 303.1 463.9 303.5 463.9 304.0 463.6 304.4 463.4 304.9 463.3 305.3 464.0 305.8 464.1 306.2 464.0 306.7 464.0 307.1 464.1 307.6 463.8 308.0 464.0 308.5 463.7 308.9 463.6 309.4 463.5 309.8 463.8 310.3 463.8 310.7 463.9 311.2 463.7 311.6 463.6 312.1 464.0 312.5 464.3 313.0 464.2 313.4 464.0 313.9 463.9 314.3 463.5 314.8 463.8 315.2 464.2 315.7 464.1 316.1 463.9 316.6 464.1 317.0 464.1 317.5 464.0 317.9 463.7 318.4 463.8 318.8 464.1 319.3 464.2 319.7 464.2 320.2 464.1 320.6 464.0 321.1 464.2 321.5 464.2 322.0 463.8 322.4 463.9 322.9 464.0 323.3 464.2 323.8 464.3 324.2 463.9 324.7 464.0 325.1 463.7 325.6 463.8 326.0 463.9 326.5 464.0 326.9 464.0 327.4 464.0 327.8 464.0 328.3 464.0 328.7 463.6 329.2 463.7 329.6 464.0 330.1 464.4 330.5 464.7 331.0 465.0 331.4 464.4 331.9 464.1 332.3 464.3 332.8 464.5 333.2 464.3 333.7 464.0 334.1 464.2 334.6 464.2 335.0 463.9 335.5 464.0 335.9 464.4 336.4 463.9 336.8 464.2 337.3 464.4 337.7 464.7 338.2 464.6 338.6 464.3 339.1 464.6 339.5 464.5 340.0 465.0 340.4 465.0 340.9 464.6 341.3 464.6 341.8 464.5 342.2 464.3 342.7 464.7 343.1 464.7 343.6 464.8 344.0 464.9 344.5 465.0 344.9 464.9 345.4 464.6 345.8 464.6 346.3 464.6 346.7 464.5 347.2 464.6 347.6 465.0 348.1 465.0 348.5 465.0 349.0 464.6 349.4 464.5 349.9 464.5 350.3 464.5 350.8 464.5 351.2 464.6 351.7 464.7 352.1 465.1 352.6 464.9 353.0 464.5 353.5 464.5" fill="none" stroke="#ff00ff" stroke-width="1.7" stroke-linejoin="round"/>
<path d="M208.6 470.3 209.0 471.9 209.5 473.3 209.9 474.6 210.4 475.0 210.8 475.7 211.3 476.3 211.7 475.8 212.2 476.3 212.6 476.6 213.1 476.0 213.5 474.3 214.0 467.6 214.4 450.2 214.4 451.1 214.9 470.7 215.3 475.4 215.8 476.8 216.2 477.1 216.7 475.4 216.9 473.6 217.1 475.9 217.6 477.7 218.0 478.0 218.5 477.9 218.9 477.8 219.4 478.2 219.8 477.9 220.3 474.1 220.5 471.5 220.7 474.8 221.2 478.2 221.6 478.8 222.1 479.1 222.5 479.1 223.0 479.5 223.4 479.6 223.9 479.6 224.3 480.2 224.8 480.4 225.2 480.4 225.7 480.6 226.1 480.7 226.6 480.3 227.0 480.0 227.5 480.1 227.9 480.6 228.4 480.5 228.8 480.2 229.3 480.7 229.7 480.8 230.2 481.0 230.6 480.9 231.1 480.5 231.5 480.5 232.0 480.3 232.4 480.2 232.9 480.4 233.3 480.6 233.8 480.6 234.2 480.1 234.7 479.8 235.1 478.3 235.6 471.0 235.8 466.9 236.0 472.6 236.5 478.8 236.9 479.8 237.4 480.1 237.8 480.4 238.3 480.2 238.7 480.2 239.2 480.5 239.6 480.7 240.1 480.5 240.5 480.1 241.0 480.3 241.4 480.8 241.9 480.9 242.3 480.6 242.8 480.8 243.2 480.9 243.7 481.0 244.1 480.8 244.6 481.1 245.0 481.0 245.5 481.2 245.9 481.1 246.4 480.6 246.8 480.7 247.3 481.0 247.7 481.0 248.2 480.6 248.6 480.7 249.1 481.0 249.5 481.0 250.0 480.6 250.4 480.6 250.9 480.8 251.3 480.7 251.8 480.9 252.2 481.1 252.7 480.8 253.1 480.4 253.6 481.1 254.0 481.4 254.5 481.4 254.9 481.1 255.4 480.6 255.8 481.0 256.3 480.8 256.7 479.4 257.0 478.0 257.2 478.8 257.6 480.5 258.1 481.1 258.5 481.0 259.0 480.8 259.4 480.7 259.9 481.0 260.3 481.0 260.8 481.0 261.2 481.1 261.7 480.5 262.0 479.1 262.1 479.6 262.6 480.8 263.0 481.2 263.5 481.2 263.9 481.1 264.4 480.9 264.8 481.3 265.3 481.3 265.7 480.9 266.2 481.1 266.6 480.9 267.1 480.6 267.5 481.0 268.0 481.3 268.4 481.0 268.9 481.0 269.3 481.3 269.8 480.9 270.2 480.8 270.7 481.1 271.1 481.4 271.6 481.4 272.0 481.1 272.5 481.1 272.9 481.2 273.4 481.1 273.8 480.9 274.3 481.0 274.7 481.3 275.2 481.5 275.6 482.0 276.1 481.6 276.5 481.2 277.0 481.3 277.4 481.4 277.9 481.5 278.3 481.5 278.8 481.5 279.2 481.4 279.7 481.7 280.1 481.9 280.6 481.4 281.0 481.3 281.5 481.6 281.9 481.8 282.4 481.8 282.8 481.8 283.3 481.5 283.7 481.4 284.2 481.6 284.6 481.8 285.1 482.0 285.5 481.8 286.0 481.2 286.4 481.5 286.9 481.2 287.3 481.0 287.8 481.4 288.2 481.5 288.7 481.3 289.1 481.1 289.6 481.2 290.0 481.3 290.5 481.2 290.9 481.4 291.4 481.6 291.8 481.6 292.3 481.6 292.7 481.5 293.2 481.2 293.6 481.3 294.1 481.6 294.5 481.9 295.0 481.7 295.4 481.5 295.9 481.5 296.3 481.1 296.8 481.2 297.2 481.5 297.7 481.6 298.1 481.6 298.6 481.5 299.0 481.3 299.5 481.5 299.9 481.6 300.4 481.2 300.8 481.3 301.3 481.7 301.7 482.1 302.2 482.2 302.6 482.3 303.1 482.2 303.5 481.8 304.0 481.6 304.4 481.6 304.9 482.0 305.3 482.1 305.8 482.1 306.2 482.1 306.7 482.0 307.1 482.0 307.6 482.0 308.0 482.1 308.5 481.7 308.9 481.6 309.4 481.9 309.8 482.2 310.3 482.0 310.7 482.0 311.2 482.1 311.6 481.9 312.1 481.4 312.5 481.4 313.0 481.4 313.4 481.7 313.9 481.9 314.3 482.2 314.8 482.5 315.2 482.0 315.7 481.9 316.1 481.7 316.6 481.3 317.0 481.6 317.5 481.8 317.9 482.0 318.4 481.8 318.8 481.7 319.3 482.1 319.7 482.1 320.2 481.8 320.6 481.8 321.1 482.1 321.5 482.4 322.0 482.4 322.4 482.0 322.9 482.3 323.3 482.3 323.8 482.3 324.2 482.4 324.7 482.1 325.1 482.2 325.6 481.9 326.0 481.9 326.5 482.1 326.9 482.7 327.4 482.8 327.8 482.6 328.3 482.4 328.7 482.3 329.2 482.8 329.6 482.8 330.1 482.6 330.5 482.3 331.0 482.2 331.4 482.4 331.9 482.6 332.3 482.2 332.8 482.4 333.2 482.8 333.7 482.9 334.1 482.9 334.6 482.7 335.0 482.7 335.5 482.8 335.9 482.7 336.4 482.5 336.8 482.2 337.3 482.2 337.7 482.7 338.2 482.4 338.6 482.3 339.1 482.6 339.5 482.3 340.0 482.1 340.4 482.3 340.9 482.5 341.3 482.6 341.8 482.8 342.2 482.8 342.7 482.7 343.1 482.7 343.6 482.5 344.0 482.5 344.5 482.7 344.9 482.9 345.4 483.1 345.8 482.9 346.3 482.6 346.7 482.7 347.2 482.8 347.6 482.9 348.1 482.4 348.5 482.4 349.0 482.5 349.4 482.7 349.9 482.6 350.3 482.2 350.8 482.2 351.2 482.8 351.7 483.2 352.1 483.2 352.6 482.8 353.0 482.8 353.5 482.6" fill="none" stroke="#0000ff" stroke-width="1.7" stroke-linejoin="round"/>
<path d="M208.6 476.4 209.0 481.7 209.5 486.0 209.9 489.0 210.4 490.9 210.8 491.6 211.3 491.6 211.7 490.2 212.2 483.4 212.5 473.5 212.6 477.4 213.1 489.4 213.5 491.8 214.0 489.7 214.4 480.1 214.4 481.3 214.9 492.4 215.3 494.3 215.8 494.9 216.2 495.2 216.7 495.2 217.1 495.7 217.6 496.0 218.0 496.1 218.5 496.2 218.9 496.1 219.4 495.8 219.8 494.4 220.3 488.6 220.5 484.8 220.7 489.7 221.2 495.2 221.6 496.6 222.1 497.0 222.5 497.5 223.0 497.5 223.4 497.9 223.9 498.0 224.3 498.0 224.8 498.2 225.2 498.0 225.7 498.2 226.1 498.4 226.6 498.4 227.0 498.0 227.5 498.0 227.9 498.2 228.4 498.4 228.8 498.5 229.3 498.5 229.7 498.4 230.2 498.2 230.6 498.1 231.1 498.3 231.5 498.7 232.0 498.7 232.4 498.5 232.9 498.6 233.3 498.2 233.8 498.3 234.2 497.9 234.7 497.4 235.1 495.4 235.6 486.6 235.8 481.6 236.0 488.9 236.5 496.1 236.9 497.7 237.4 498.3 237.8 498.5 238.3 498.6 238.7 498.6 239.2 498.4 239.6 498.6 240.1 498.7 240.5 498.5 241.0 498.5 241.4 498.1 241.9 496.2 242.0 495.6 242.3 497.7 242.8 498.8 243.2 498.9 243.7 498.6 244.1 498.6 244.6 498.7 245.0 498.3 245.5 499.0 245.9 499.1 246.4 498.8 246.8 499.1 247.3 499.0 247.7 498.8 248.2 498.3 248.6 498.5 249.1 498.7 249.5 498.7 250.0 498.7 250.4 498.5 250.9 498.2 251.3 498.5 251.8 498.7 252.2 498.8 252.7 498.8 253.1 498.9 253.6 499.1 254.0 499.2 254.5 498.9 254.9 499.2 255.4 498.8 255.8 498.3 256.3 498.0 256.7 496.6 257.0 494.7 257.2 496.3 257.6 498.4 258.1 498.5 258.5 498.7 259.0 498.9 259.4 499.0 259.9 499.1 260.3 498.9 260.8 498.8 261.2 498.7 261.7 497.6 262.0 496.1 262.1 496.8 262.6 498.2 263.0 498.5 263.5 498.7 263.9 498.7 264.4 499.3 264.8 499.3 265.3 498.9 265.7 499.1 266.2 499.5 266.6 499.2 267.1 498.7 267.5 498.4 268.0 498.7 268.4 499.3 268.9 499.2 269.3 498.9 269.8 499.2 270.2 499.1 270.7 498.9 271.1 499.0 271.6 499.2 272.0 499.5 272.5 499.1 272.9 499.1 273.4 499.6 273.8 499.6 274.3 499.3 274.7 499.7 275.2 499.6 275.6 499.1 276.1 499.5 276.5 499.1 277.0 499.2 277.4 498.9 277.9 498.9 278.3 499.4 278.8 499.5 279.2 499.4 279.7 499.4 280.1 499.3 280.6 499.2 281.0 499.1 281.5 499.4 281.9 499.4 282.4 499.3 282.8 499.2 283.3 499.2 283.7 499.0 284.2 499.1 284.6 499.3 285.1 499.6 285.5 499.3 286.0 499.3 286.4 499.5 286.9 499.7 287.3 499.6 287.8 499.7 288.2 500.0 288.7 499.7 289.1 499.8 289.6 500.1 290.0 499.6 290.5 499.7 290.9 499.6 291.4 499.2 291.8 499.4 292.3 499.6 292.7 499.3 293.2 499.5 293.6 499.8 294.1 499.6 294.5 499.6 295.0 499.4 295.4 499.4 295.9 499.4 296.3 499.5 296.8 499.8 297.2 499.9 297.7 500.2 298.1 500.0 298.6 499.9 299.0 500.2 299.5 499.8 299.9 499.5 300.4 499.6 300.8 499.5 301.3 499.9 301.7 500.1 302.2 500.0 302.6 499.7 303.1 499.7 303.5 499.9 304.0 500.0 304.4 499.7 304.9 499.7 305.3 500.0 305.8 500.0 306.2 499.9 306.7 499.9 307.1 499.7 307.6 499.8 308.0 500.1 308.5 499.9 308.9 499.8 309.4 499.9 309.8 500.2 310.3 500.4 310.7 499.9 311.2 500.0 311.6 500.4 312.1 500.1 312.5 499.9 313.0 499.7 313.4 500.1 313.9 500.3 314.3 500.2 314.8 500.0 315.2 500.0 315.7 500.1 316.1 500.2 316.6 500.1 317.0 500.1 317.5 499.7 317.9 499.6 318.4 499.3 318.8 499.8 319.3 500.2 319.7 500.2 320.2 500.5 320.6 500.0 321.1 499.8 321.5 499.8 322.0 499.9 322.4 499.8 322.9 499.6 323.3 499.9 323.8 500.5 324.2 500.3 324.7 500.2 325.1 499.9 325.6 500.1 326.0 500.3 326.5 500.1 326.9 500.0 327.4 500.1 327.8 500.3 328.3 500.5 328.7 500.5 329.2 499.8 329.6 499.6 330.1 500.0 330.5 500.3 331.0 500.5 331.4 500.5 331.9 500.4 332.3 500.7 332.8 500.4 333.2 500.0 333.7 500.4 334.1 500.5 334.6 500.3 335.0 500.0 335.5 500.2 335.9 500.3 336.4 500.4 336.8 500.6 337.3 500.8 337.7 500.9 338.2 500.8 338.6 500.6 339.1 500.8 339.5 500.7 340.0 500.6 340.4 500.3 340.9 499.9 341.3 499.8 341.8 500.3 342.2 500.3 342.7 500.5 343.1 500.6 343.6 500.1 344.0 500.0 344.5 500.5 344.9 500.6 345.4 500.5 345.8 500.3 346.3 500.1 346.7 500.4 347.2 500.4 347.6 500.7 348.1 500.8 348.5 500.6 349.0 500.7 349.4 500.7 349.9 500.9 350.3 501.1 350.8 501.0 351.2 500.9 351.7 500.9 352.1 500.6 352.6 500.7 353.0 500.9 353.5 501.0" fill="none" stroke="#ff0000" stroke-width="1.7" stroke-linejoin="round"/>
<path d="M208.6 493.7 209.0 497.4 209.5 500.0 209.9 502.4 210.4 503.9 210.8 504.7 211.3 505.0 211.7 504.9 212.2 498.5 212.5 485.4 212.6 491.5 213.1 504.7 213.5 506.3 214.0 502.3 214.4 485.3 214.4 486.3 214.9 505.2 215.3 508.6 215.8 509.1 216.2 506.7 216.5 503.3 216.7 506.5 217.1 510.8 217.6 512.1 218.0 512.5 218.5 512.9 218.9 512.7 219.4 512.5 219.8 510.7 220.3 502.9 220.5 498.5 220.7 504.9 221.2 511.1 221.6 511.1 222.0 508.0 222.1 508.7 222.5 513.2 223.0 514.2 223.4 514.5 223.9 514.8 224.3 515.1 224.8 515.1 225.2 515.3 225.7 515.0 226.1 515.0 226.6 515.2 227.0 515.2 227.5 515.4 227.9 515.4 228.4 515.3 228.8 515.6 229.3 515.4 229.7 514.8 230.2 515.1 230.6 515.5 231.1 515.5 231.5 515.2 232.0 515.1 232.4 515.3 232.9 515.1 233.3 514.0 233.8 511.9 234.2 504.6 234.2 504.7 234.7 512.2 235.1 512.1 235.6 503.4 235.8 498.3 236.0 505.3 236.5 513.0 236.9 514.8 237.4 515.4 237.8 515.5 238.3 515.7 238.7 515.7 239.2 515.6 239.6 515.9 240.1 515.6 240.5 515.8 241.0 516.1 241.4 515.4 241.9 512.2 242.0 511.7 242.3 514.3 242.8 515.2 243.2 515.3 243.7 515.5 244.1 515.4 244.6 515.7 245.0 516.0 245.5 516.2 245.9 516.3 246.4 515.5 246.8 515.3 247.3 515.4 247.7 515.7 248.2 516.0 248.6 515.8 249.1 515.6 249.5 515.5 250.0 515.6 250.4 515.7 250.9 515.7 251.3 515.5 251.8 515.8 252.2 516.0 252.7 515.9 253.1 515.7 253.6 516.0 254.0 516.1 254.5 515.8 254.9 515.3 255.4 514.9 255.8 512.8 256.0 511.6 256.3 514.0 256.7 515.7 257.2 516.1 257.6 516.2 258.1 516.3 258.5 516.1 259.0 515.8 259.4 516.1 259.9 516.0 260.3 516.1 260.8 516.2 261.2 515.8 261.7 514.0 262.0 510.1 262.1 511.5 262.6 514.9 263.0 515.5 263.5 515.5 263.9 515.8 264.4 515.9 264.8 515.7 265.3 515.3 265.7 515.4 266.2 516.0 266.6 516.0 267.1 516.3 267.5 516.0 268.0 516.0 268.4 515.7 268.9 515.7 269.3 515.7 269.8 514.6 270.0 513.7 270.2 514.9 270.7 515.6 271.1 515.9 271.6 516.0 272.0 516.0 272.5 516.4 272.9 516.6 273.4 516.3 273.8 516.6 274.3 516.6 274.7 516.2 275.2 516.7 275.6 516.8 276.1 516.6 276.5 516.7 277.0 516.6 277.4 516.6 277.9 516.5 278.3 516.2 278.8 516.3 279.2 516.3 279.7 516.1 280.1 516.0 280.6 516.0 281.0 516.1 281.5 516.4 281.9 516.0 282.4 516.2 282.8 516.2 283.3 516.1 283.7 516.4 284.2 516.4 284.6 516.6 285.1 516.5 285.5 516.5 286.0 516.5 286.4 516.7 286.9 516.7 287.3 516.4 287.8 516.6 288.2 516.9 288.7 516.6 289.1 516.9 289.6 516.5 290.0 516.2 290.5 516.0 290.9 516.1 291.4 516.0 291.8 516.3 292.3 516.7 292.7 516.6 293.2 516.4 293.6 516.2 294.1 516.2 294.5 516.1 295.0 516.4 295.4 517.0 295.9 516.8 296.3 516.5 296.8 516.9 297.2 517.0 297.7 516.6 298.1 516.5 298.6 516.2 299.0 516.3 299.5 517.2 299.9 517.6 300.4 516.7 300.8 516.4 301.3 517.0 301.7 517.1 302.2 517.1 302.6 517.1 303.1 516.8 303.5 516.9 304.0 517.0 304.4 516.8 304.9 516.9 305.3 516.8 305.8 516.9 306.2 516.7 306.7 516.4 307.1 516.6 307.6 516.4 308.0 516.4 308.5 516.5 308.9 516.9 309.4 516.8 309.8 516.9 310.3 517.2 310.7 517.2 311.2 516.8 311.6 516.5 312.1 516.9 312.5 516.9 313.0 516.9 313.4 517.1 313.9 516.9 314.3 517.0 314.8 517.2 315.2 517.2 315.7 517.0 316.1 517.4 316.6 517.6 317.0 517.6 317.5 517.2 317.9 517.2 318.4 517.4 318.8 517.3 319.3 517.1 319.7 517.1 320.2 517.0 320.6 516.9 321.1 516.9 321.5 517.1 322.0 517.0 322.4 516.8 322.9 517.2 323.3 517.7 323.8 517.5 324.2 516.7 324.7 516.9 325.1 517.3 325.6 517.3 326.0 517.2 326.5 517.2 326.9 517.2 327.4 517.1 327.8 517.4 328.3 517.1 328.7 517.3 329.2 517.7 329.6 517.7 330.1 517.4 330.5 517.3 331.0 517.1 331.4 517.1 331.9 517.3 332.3 517.6 332.8 517.4 333.2 517.5 333.7 517.6 334.1 517.5 334.6 517.4 335.0 517.6 335.5 517.5 335.9 517.4 336.4 517.2 336.8 516.9 337.3 517.5 337.7 517.7 338.2 517.4 338.6 517.4 339.1 517.5 339.5 517.3 340.0 517.7 340.4 517.8 340.9 517.9 341.3 517.7 341.8 517.2 342.2 517.5 342.7 517.6 343.1 517.9 343.6 518.0 344.0 517.9 344.5 517.9 344.9 518.3 345.4 517.8 345.8 517.5 346.3 517.7 346.7 517.5 347.2 518.1 347.6 518.2 348.1 518.2 348.5 518.1 349.0 517.8 349.4 517.4 349.9 517.5 350.3 517.8 350.8 517.8 351.2 517.8 351.7 517.6 352.1 517.6 352.6 517.9 353.0 518.0 353.5 517.9" fill="none" stroke="#000000" stroke-width="1.7" stroke-linejoin="round"/>
<rect x="208.20" y="370.30" width="146.00" height="151.00" fill="none" stroke="#111" stroke-width="1.1"/>
<line x1="217.32" y1="521.30" x2="217.32" y2="519.80" stroke="#111" stroke-width="0.9"/>
<line x1="232.53" y1="521.30" x2="232.53" y2="518.70" stroke="#111" stroke-width="0.9"/>
<text x="232.53" y="531.80" font-family='"Liberation Serif", serif' font-size="8.8" font-weight="bold" text-anchor="middle" fill="#000" >10</text>
<line x1="247.74" y1="521.30" x2="247.74" y2="519.80" stroke="#111" stroke-width="0.9"/>
<line x1="262.95" y1="521.30" x2="262.95" y2="518.70" stroke="#111" stroke-width="0.9"/>
<text x="262.95" y="531.80" font-family='"Liberation Serif", serif' font-size="8.8" font-weight="bold" text-anchor="middle" fill="#000" >20</text>
<line x1="278.16" y1="521.30" x2="278.16" y2="519.80" stroke="#111" stroke-width="0.9"/>
<line x1="293.37" y1="521.30" x2="293.37" y2="518.70" stroke="#111" stroke-width="0.9"/>
<text x="293.37" y="531.80" font-family='"Liberation Serif", serif' font-size="8.8" font-weight="bold" text-anchor="middle" fill="#000" >30</text>
<line x1="308.57" y1="521.30" x2="308.57" y2="519.80" stroke="#111" stroke-width="0.9"/>
<line x1="323.78" y1="521.30" x2="323.78" y2="518.70" stroke="#111" stroke-width="0.9"/>
<text x="323.78" y="531.80" font-family='"Liberation Serif", serif' font-size="8.8" font-weight="bold" text-anchor="middle" fill="#000" >40</text>
<line x1="338.99" y1="521.30" x2="338.99" y2="519.80" stroke="#111" stroke-width="0.9"/>
<line x1="354.20" y1="521.30" x2="354.20" y2="518.70" stroke="#111" stroke-width="0.9"/>
<text x="354.20" y="531.80" font-family='"Liberation Serif", serif' font-size="8.8" font-weight="bold" text-anchor="middle" fill="#000" >50</text>
<text x="281.20" y="543.60" font-family='"Liberation Serif", serif' font-size="9.5" font-weight="bold" text-anchor="middle" fill="#000" >2-Theta (Deg.)</text>
<text transform="translate(198.30,451.30) rotate(-90)" font-family='"Liberation Serif", serif' font-size="9.6" font-weight="bold" text-anchor="middle" fill="#000">Intensity (a.u.)</text>
<text x="213.70" y="385.34" font-family='"Liberation Sans", sans-serif' font-size="17.2" font-weight="bold" text-anchor="start" fill="#000" >(h)</text>
<text x="244.70" y="383.50" font-family='"Liberation Serif", serif' font-size="13.0" font-weight="bold" textLength="72.80" lengthAdjust="spacingAndGlyphs">MIL-100(Fe)</text>
<line x1="244.70" y1="385.80" x2="317.50" y2="385.80" stroke="#111" stroke-width="1.1"/>
<text x="352.00" y="408.00" font-family='"Liberation Serif", serif' font-size="9.2" font-weight="normal" text-anchor="end" fill="#333" stroke="#333" stroke-width="0.12">pH=5, 20-cycle used</text>
<text x="352.00" y="425.50" font-family='"Liberation Serif", serif' font-size="9.2" font-weight="normal" text-anchor="end" fill="#333" stroke="#333" stroke-width="0.12">pH=5, 5-cycle used</text>
<text x="352.00" y="443.70" font-family='"Liberation Serif", serif' font-size="9.2" font-weight="normal" text-anchor="end" fill="#333" stroke="#333" stroke-width="0.12">pH=5, 1-cycle used</text>
<text x="352.00" y="461.00" font-family='"Liberation Serif", serif' font-size="9.2" font-weight="normal" text-anchor="end" fill="#333" stroke="#333" stroke-width="0.12">pH=3, 20-cycle used</text>
<text x="352.00" y="479.20" font-family='"Liberation Serif", serif' font-size="9.2" font-weight="normal" text-anchor="end" fill="#333" stroke="#333" stroke-width="0.12">pH=3, 5-cycle used</text>
<text x="352.00" y="496.70" font-family='"Liberation Serif", serif' font-size="9.2" font-weight="normal" text-anchor="end" fill="#333" stroke="#333" stroke-width="0.12">pH=3, 1-cycle used</text>
<text x="352.00" y="514.90" font-family='"Liberation Serif", serif' font-size="9.2" font-weight="normal" text-anchor="end" fill="#333" stroke="#333" stroke-width="0.12">Fresh</text>
<path d="M387.2 371.1 387.6 374.7 388.1 379.2 388.5 380.5 389.0 382.1 389.4 384.4 389.9 386.7 390.3 387.6 390.8 389.3 391.2 390.1 391.7 390.4 392.1 391.4 392.6 391.8 393.0 393.0 393.5 394.3 393.9 394.2 394.4 394.2 394.8 394.8 395.3 395.6 395.7 395.8 396.2 394.7 396.6 395.2 397.1 397.0 397.5 397.4 398.0 397.6 398.4 397.9 398.9 397.9 399.3 397.9 399.8 398.6 400.2 399.1 400.7 399.2 401.1 398.8 401.6 398.5 402.0 398.9 402.5 398.5 402.9 398.8 403.4 399.6 403.8 400.0 404.3 400.7 404.7 400.8 405.2 400.4 405.6 400.0 406.1 400.0 406.5 400.5 407.0 401.5 407.4 400.9 407.9 399.9 408.3 400.1 408.8 401.0 409.2 400.4 409.7 400.8 410.1 401.2 410.6 401.4 411.0 400.6 411.5 401.1 411.9 401.4 412.4 401.9 412.8 402.1 413.3 401.4 413.7 401.2 414.2 401.4 414.6 400.5 415.1 400.9 415.5 400.4 416.0 400.0 416.4 399.7 416.9 400.2 417.3 401.8 417.8 402.2 418.2 402.0 418.7 402.2 419.1 401.7 419.6 401.0 420.0 401.0 420.5 402.1 420.9 402.6 421.4 402.5 421.8 401.4 422.3 401.1 422.7 401.1 423.2 402.4 423.6 402.6 424.1 402.3 424.5 401.9 425.0 401.7 425.4 401.8 425.9 402.4 426.3 401.9 426.8 402.4 427.2 402.1 427.7 401.0 428.1 400.6 428.6 401.1 429.0 401.5 429.5 401.3 429.9 402.4 430.4 403.0 430.8 402.2 431.3 400.4 431.7 400.1 432.2 402.0 432.6 402.0 433.1 396.8 433.4 384.4 433.5 390.5 434.0 400.1 434.4 402.0 434.9 401.9 435.3 402.8 435.8 403.4 436.2 402.9 436.7 403.1 437.1 402.0 437.6 402.6 438.0 403.0 438.5 404.0 438.9 402.7 439.4 402.2 439.8 402.9 440.3 401.8 440.7 402.1 441.2 402.3 441.6 403.1 442.1 402.8 442.5 402.9 443.0 402.3 443.4 401.2 443.9 401.2 444.3 403.2 444.8 402.7 445.2 401.7 445.7 402.2 446.1 402.7 446.6 402.2 447.0 403.6 447.5 402.8 447.9 402.5 448.4 403.3 448.8 402.7 449.3 402.1 449.7 403.0 450.2 403.3 450.6 403.2 451.1 402.0 451.5 401.8 452.0 402.6 452.4 402.0 452.9 401.0 453.3 401.9 453.8 402.7 454.2 402.5 454.7 403.2 455.1 402.5 455.6 402.1 456.0 401.3 456.5 401.6 456.9 402.2 457.4 401.8 457.7 399.2 457.8 400.4 458.3 401.1 458.7 402.0 459.2 402.3 459.6 401.9 460.1 402.2 460.5 402.3 461.0 402.7 461.4 402.7 461.9 402.7 462.3 402.5 462.8 403.4 463.2 403.5 463.7 403.7 464.1 402.5 464.6 401.2 465.0 395.4 465.3 380.3 465.5 392.5 465.9 401.1 466.4 402.1 466.8 402.0 467.3 402.0 467.7 402.0 468.2 402.3 468.6 402.3 469.1 403.5 469.5 403.1 470.0 401.2 470.0 400.3 470.4 402.5 470.9 403.0 471.3 403.6 471.8 403.3 472.2 402.2 472.7 403.0 473.1 402.5 473.6 403.4 474.0 402.9 474.5 402.3 474.9 403.1 475.4 402.9 475.8 402.1 476.3 402.3 476.7 402.8 477.2 402.0 477.6 402.5 478.1 403.8 478.5 403.0 479.0 403.2 479.4 403.6 479.9 403.9 480.3 403.2 480.8 401.4 481.2 402.4 481.7 403.5 482.1 403.2 482.6 404.1 483.0 403.3 483.5 402.4 483.9 403.6 484.4 404.3 484.8 403.2 485.3 403.1 485.7 402.5 486.2 402.5 486.6 403.2 487.1 403.5 487.5 403.5 488.0 403.9 488.4 404.5 488.9 402.5 489.3 401.8 489.8 403.1 490.2 403.1 490.7 402.6 491.1 403.8 491.6 402.8 492.0 402.2 492.5 403.3 492.9 404.2 493.4 404.5 493.8 402.3 494.3 401.7 494.7 401.6 495.0 400.8 495.2 401.7 495.6 402.1 496.1 401.8 496.5 402.7 497.0 403.7 497.4 403.8 497.9 403.1 498.3 403.5 498.8 403.5 499.2 402.9 499.7 402.9 500.1 403.8 500.6 405.2 501.0 403.8 501.5 402.7 501.9 402.9 502.4 403.1 502.8 403.5 503.3 401.9 503.7 402.3 504.2 403.7 504.6 403.8 505.1 403.6 505.5 403.5 506.0 402.7 506.4 403.0 506.9 402.4 507.3 402.4 507.8 403.2 508.2 402.9 508.7 403.1 509.1 403.5 509.6 403.0 510.0 404.1 510.5 405.0 510.9 404.0 511.4 404.2 511.8 403.9 512.3 402.4 512.7 402.2 513.2 402.7 513.6 402.0 514.1 403.1 514.5 403.7 515.0 403.9 515.4 404.2 515.9 404.4 516.3 403.8 516.8 404.4 517.2 404.3 517.7 403.9 518.1 403.7 518.6 403.9 519.0 403.4 519.5 404.1 519.9 404.3 520.4 403.1 520.8 402.6 521.3 402.8 521.7 403.4 522.2 404.0 522.6 404.6 523.1 405.4 523.5 405.1 524.0 404.0 524.4 403.1 524.9 402.9 525.3 404.0 525.8 404.1 526.2 403.5 526.7 403.4 527.1 402.9 527.6 401.8 528.0 403.1 528.5 403.8 528.9 403.4 529.4 402.9 529.8 403.5 530.3 404.4 530.7 405.2 531.2 404.9 531.6 404.3 532.1 403.7" fill="none" stroke="#8000ff" stroke-width="1.6" stroke-linejoin="round"/>
<path d="M387.2 393.0 387.6 396.9 388.1 399.9 388.5 403.3 389.0 406.4 389.4 408.3 389.9 409.5 390.3 410.3 390.8 411.5 391.2 411.4 391.7 411.3 392.1 413.0 392.6 413.6 393.0 413.2 393.5 413.7 393.9 413.6 394.4 415.2 394.8 416.7 395.3 416.6 395.7 417.5 396.2 417.3 396.6 416.4 397.1 416.3 397.5 417.9 398.0 418.2 398.4 417.1 398.9 417.8 399.3 418.8 399.8 418.3 400.2 418.3 400.7 417.3 401.1 418.0 401.6 419.0 402.0 418.1 402.5 417.6 402.9 417.9 403.4 418.4 403.8 418.2 404.3 419.1 404.7 420.2 405.2 420.6 405.6 420.1 406.1 420.8 406.5 420.4 407.0 419.9 407.4 420.5 407.9 421.4 408.3 421.4 408.8 420.8 409.2 420.3 409.7 420.6 410.1 420.5 410.6 420.4 411.0 420.8 411.5 421.2 411.9 419.8 412.4 419.7 412.8 419.7 413.3 420.9 413.7 421.6 414.2 421.4 414.6 420.5 415.1 420.6 415.5 421.0 416.0 420.8 416.4 420.8 416.9 420.8 417.3 420.7 417.8 420.6 418.2 420.5 418.7 419.6 419.1 419.7 419.6 419.6 420.0 420.1 420.5 420.3 420.9 421.2 421.4 421.4 421.8 420.0 422.3 420.0 422.7 421.1 423.2 422.0 423.6 421.7 424.1 421.2 424.5 420.7 425.0 420.6 425.4 421.1 425.9 421.3 426.3 420.9 426.8 420.1 427.2 419.5 427.7 419.9 428.1 420.2 428.6 420.1 429.0 420.5 429.5 419.9 429.9 420.4 430.4 421.2 430.8 421.6 431.3 421.5 431.7 421.5 432.2 420.4 432.6 419.9 433.1 418.3 433.4 410.6 433.5 413.9 434.0 419.1 434.4 421.2 434.9 421.4 435.3 420.2 435.8 419.7 436.2 420.8 436.7 421.5 437.1 422.3 437.6 422.6 438.0 421.6 438.5 420.9 438.9 420.8 439.4 420.5 439.8 419.9 440.3 420.2 440.7 420.5 441.2 419.7 441.6 420.1 442.1 421.5 442.5 421.1 443.0 421.8 443.4 422.1 443.9 421.6 444.3 421.7 444.8 421.0 445.2 420.5 445.7 420.9 446.1 421.2 446.6 421.3 447.0 421.2 447.5 421.2 447.9 421.8 448.4 421.2 448.8 421.1 449.3 421.5 449.7 420.8 450.2 421.3 450.6 422.2 451.1 421.9 451.5 422.1 452.0 421.3 452.4 420.8 452.9 420.9 453.3 420.8 453.8 420.8 454.2 421.1 454.7 421.8 455.1 421.7 455.6 421.0 456.0 421.4 456.5 423.1 456.9 421.9 457.4 420.7 457.7 416.7 457.8 418.3 458.3 421.3 458.7 420.5 459.2 420.3 459.6 420.9 460.1 420.7 460.5 421.0 461.0 421.5 461.4 422.0 461.9 421.7 462.3 421.8 462.8 422.5 463.2 422.4 463.7 420.8 464.1 419.4 464.6 419.4 465.0 415.2 465.3 401.2 465.5 412.1 465.9 420.0 466.4 421.9 466.8 421.5 467.3 420.9 467.7 420.5 468.2 421.1 468.6 423.0 469.1 422.0 469.5 421.4 470.0 421.5 470.4 421.8 470.9 420.6 471.3 419.8 471.8 420.7 472.2 422.1 472.7 423.0 473.1 421.7 473.6 420.8 474.0 421.0 474.5 420.7 474.9 420.8 475.4 421.4 475.8 421.6 476.3 421.4 476.7 422.1 477.2 421.7 477.6 421.5 478.1 421.3 478.5 421.7 479.0 422.0 479.4 421.9 479.9 421.3 480.3 421.7 480.8 421.3 481.2 421.7 481.7 422.4 482.1 422.6 482.6 421.4 483.0 420.8 483.5 421.7 483.9 422.3 484.4 422.2 484.8 422.7 485.3 421.2 485.7 422.4 486.2 422.9 486.6 422.4 487.1 421.6 487.5 422.6 488.0 423.0 488.4 422.6 488.9 421.7 489.3 421.7 489.8 422.5 490.2 422.1 490.7 421.3 491.1 421.0 491.6 421.3 492.0 420.9 492.5 421.7 492.9 421.5 493.4 420.7 493.8 421.8 494.3 422.4 494.7 420.8 495.0 418.7 495.2 419.9 495.6 421.5 496.1 420.8 496.5 421.3 497.0 422.3 497.4 421.6 497.9 421.4 498.3 422.4 498.8 423.0 499.2 422.0 499.7 420.5 500.1 420.3 500.6 420.8 501.0 420.4 501.5 421.4 501.9 421.7 502.4 420.1 502.8 421.1 503.3 421.8 503.7 421.5 504.2 422.0 504.6 422.4 505.1 423.1 505.5 423.8 506.0 422.3 506.4 421.0 506.9 420.6 507.3 420.9 507.8 422.0 508.2 422.2 508.7 422.2 509.1 422.3 509.6 423.1 510.0 423.1 510.5 422.5 510.9 421.5 511.4 421.1 511.8 420.7 512.3 421.1 512.7 421.4 513.2 420.8 513.6 421.5 514.1 423.0 514.5 421.8 515.0 420.5 515.4 420.6 515.9 421.7 516.3 422.3 516.8 422.1 517.2 422.4 517.7 422.0 518.1 421.4 518.6 422.2 519.0 422.2 519.5 422.9 519.9 421.8 520.4 421.5 520.8 421.4 521.3 421.6 521.7 422.0 522.2 422.1 522.6 422.7 523.1 422.8 523.5 423.0 524.0 422.5 524.4 423.0 524.9 422.9 525.3 422.6 525.8 423.9 526.2 423.6 526.7 422.5 527.1 421.9 527.6 421.8 528.0 421.8 528.5 421.8 528.9 421.2 529.4 421.6 529.8 421.9 530.3 423.1 530.7 423.2 531.2 423.7 531.6 424.0 532.1 422.8" fill="none" stroke="#000080" stroke-width="1.6" stroke-linejoin="round"/>
<path d="M387.2 413.8 387.6 416.8 388.1 419.2 388.5 420.8 389.0 423.5 389.4 426.1 389.9 427.0 390.3 427.5 390.8 428.5 391.2 429.0 391.7 429.6 392.1 430.4 392.6 432.5 393.0 433.4 393.5 432.8 393.9 432.5 394.4 433.8 394.8 435.2 395.3 434.0 395.7 434.1 396.2 434.9 396.6 435.6 397.1 435.0 397.5 435.6 398.0 435.5 398.4 435.6 398.9 435.7 399.3 436.6 399.8 436.4 400.2 436.6 400.7 437.7 401.1 438.1 401.6 439.0 402.0 438.2 402.5 437.6 402.9 438.3 403.4 439.8 403.8 439.1 404.3 438.0 404.7 437.9 405.2 437.8 405.6 438.3 406.1 437.8 406.5 437.8 407.0 438.7 407.4 439.5 407.9 439.4 408.3 439.1 408.8 438.1 409.2 436.9 409.7 437.8 410.1 438.5 410.6 439.3 411.0 440.1 411.5 439.2 411.9 437.7 412.4 438.3 412.8 438.8 413.3 439.2 413.7 438.5 414.2 437.4 414.6 437.8 415.1 438.1 415.5 437.5 416.0 438.4 416.4 439.0 416.9 439.7 417.3 439.1 417.8 438.6 418.2 438.9 418.7 439.3 419.1 439.6 419.6 438.2 420.0 438.1 420.5 440.7 420.9 440.3 421.4 440.0 421.8 440.6 422.3 438.9 422.7 438.4 423.2 438.9 423.6 439.4 424.1 439.3 424.5 439.7 425.0 439.6 425.4 440.3 425.9 439.6 426.3 438.4 426.8 438.8 427.2 438.6 427.7 439.1 428.1 439.9 428.6 440.9 429.0 439.4 429.5 438.3 429.9 438.9 430.4 439.1 430.8 440.5 431.3 440.6 431.7 440.4 432.2 439.0 432.6 437.8 433.1 434.6 433.4 423.5 433.5 428.9 434.0 437.3 434.4 438.5 434.9 437.8 435.3 438.1 435.8 439.9 436.2 439.5 436.7 439.5 437.1 440.1 437.6 439.9 438.0 439.2 438.5 439.6 438.9 440.9 439.4 441.1 439.8 440.9 440.3 440.6 440.7 438.9 441.2 439.3 441.6 439.2 442.1 438.5 442.5 439.7 443.0 440.3 443.4 439.7 443.9 438.6 444.3 439.3 444.8 439.9 445.2 439.8 445.7 440.1 446.1 440.6 446.6 441.0 447.0 440.9 447.5 441.7 447.9 440.7 448.4 440.3 448.8 440.5 449.3 439.9 449.7 439.9 450.2 440.2 450.6 438.4 451.1 438.7 451.5 441.1 452.0 441.0 452.4 440.5 452.9 440.3 453.3 440.0 453.8 439.3 454.2 439.3 454.7 439.5 455.1 440.7 455.6 440.7 456.0 440.3 456.5 440.2 456.9 439.5 457.4 438.4 457.7 437.1 457.8 438.2 458.3 439.8 458.7 440.5 459.2 441.2 459.6 441.2 460.1 440.9 460.5 440.7 461.0 440.4 461.4 441.1 461.9 441.2 462.3 440.6 462.8 439.5 463.2 440.2 463.7 440.6 464.1 439.7 464.6 436.8 465.0 431.1 465.3 417.7 465.5 430.1 465.9 438.7 466.4 439.8 466.8 440.3 467.3 439.6 467.7 439.3 468.2 440.1 468.6 439.8 469.1 438.8 469.5 439.2 470.0 441.7 470.4 440.6 470.9 439.5 471.3 438.6 471.8 439.0 472.2 439.9 472.7 440.5 473.1 440.6 473.6 440.0 474.0 440.6 474.5 441.0 474.9 440.1 475.4 439.6 475.8 438.8 476.3 439.0 476.7 439.3 477.2 440.3 477.6 440.6 478.1 441.3 478.5 440.9 479.0 441.0 479.4 440.8 479.9 440.3 480.3 440.0 480.8 441.1 481.2 440.2 481.7 438.9 482.1 439.2 482.6 439.7 483.0 441.1 483.5 441.6 483.9 442.1 484.4 442.0 484.8 439.9 485.3 438.7 485.7 439.4 486.2 439.8 486.6 438.5 487.1 439.5 487.5 440.6 488.0 439.9 488.4 439.9 488.9 440.1 489.3 441.8 489.8 441.9 490.2 439.9 490.7 439.6 491.1 440.4 491.6 441.0 492.0 441.0 492.5 441.2 492.9 441.5 493.4 441.9 493.8 442.0 494.3 440.7 494.7 439.2 495.0 438.9 495.2 441.0 495.6 441.5 496.1 441.5 496.5 441.9 497.0 442.2 497.4 442.3 497.9 440.6 498.3 440.7 498.8 441.4 499.2 441.3 499.7 440.2 500.1 439.3 500.6 439.9 501.0 440.1 501.5 440.6 501.9 441.5 502.4 441.1 502.8 439.8 503.3 439.9 503.7 440.9 504.2 441.4 504.6 440.9 505.1 440.4 505.5 439.5 506.0 439.8 506.4 440.0 506.9 440.5 507.3 440.3 507.8 439.7 508.2 439.7 508.7 440.4 509.1 440.5 509.6 441.3 510.0 440.9 510.5 440.7 510.9 440.9 511.4 440.2 511.8 440.8 512.3 440.5 512.7 440.8 513.2 440.1 513.6 439.4 514.1 439.2 514.5 440.4 515.0 440.7 515.4 440.2 515.9 441.5 516.3 440.8 516.8 440.3 517.2 441.7 517.7 441.2 518.1 440.9 518.6 439.6 519.0 441.5 519.5 441.3 519.9 440.8 520.4 440.6 520.8 440.2 521.3 441.2 521.7 441.3 522.2 440.9 522.6 440.1 523.1 439.9 523.5 440.9 524.0 441.4 524.4 441.0 524.9 440.5 525.3 440.5 525.8 441.4 526.2 441.8 526.7 440.8 527.1 440.7 527.6 441.9 528.0 440.3 528.5 440.5 528.9 441.0 529.4 441.6 529.8 440.6 530.3 439.3 530.7 439.6 531.2 440.6 531.6 440.6 532.1 440.3" fill="none" stroke="#008000" stroke-width="1.6" stroke-linejoin="round"/>
<path d="M387.2 428.3 387.6 431.4 388.1 434.5 388.5 437.7 389.0 440.2 389.4 442.1 389.9 443.8 390.3 446.0 390.8 446.1 391.2 448.1 391.7 449.6 392.1 451.0 392.6 451.2 393.0 450.3 393.5 451.5 393.9 452.7 394.4 453.2 394.8 453.1 395.3 453.1 395.7 454.1 396.2 453.8 396.6 453.7 397.1 454.2 397.5 454.1 398.0 454.2 398.4 455.5 398.9 457.0 399.3 456.1 399.8 455.5 400.2 455.4 400.7 455.6 401.1 455.3 401.6 456.1 402.0 456.4 402.5 456.5 402.9 456.6 403.4 456.6 403.8 457.0 404.3 457.2 404.7 457.2 405.2 457.1 405.6 457.4 406.1 457.3 406.5 457.8 407.0 457.5 407.4 458.0 407.9 457.6 408.3 457.0 408.8 456.7 409.2 457.6 409.7 457.7 410.1 457.6 410.6 457.8 411.0 457.5 411.5 456.7 411.9 456.7 412.4 457.8 412.8 458.2 413.3 459.2 413.7 459.6 414.2 458.9 414.6 458.5 415.1 458.3 415.5 457.9 416.0 456.8 416.4 456.1 416.9 457.9 417.3 458.5 417.8 458.1 418.2 458.2 418.7 458.8 419.1 458.9 419.6 458.3 420.0 458.0 420.5 458.6 420.9 459.2 421.4 459.5 421.8 458.1 422.3 458.0 422.7 457.5 423.2 458.1 423.6 459.5 424.1 458.3 424.5 457.8 425.0 457.9 425.4 458.5 425.9 457.7 426.3 457.0 426.8 458.1 427.2 458.7 427.7 458.4 428.1 458.1 428.6 457.5 429.0 457.4 429.5 457.7 429.9 457.3 430.4 457.4 430.8 457.3 431.3 458.0 431.7 458.6 432.2 458.6 432.6 459.0 433.1 458.6 433.5 457.9 434.0 457.5 434.4 457.7 434.9 457.5 435.3 458.1 435.8 457.0 436.2 456.6 436.7 456.8 437.1 456.8 437.6 457.6 438.0 457.4 438.5 457.7 438.9 457.9 439.4 456.6 439.8 457.4 440.3 458.4 440.7 458.8 441.2 458.2 441.6 457.8 442.1 458.7 442.5 459.3 443.0 460.1 443.4 459.8 443.9 458.6 444.3 458.8 444.8 458.1 445.2 457.4 445.7 458.4 446.1 458.3 446.6 456.8 447.0 458.0 447.5 457.9 447.9 458.7 448.4 458.3 448.8 458.2 449.3 458.6 449.7 458.3 450.2 458.8 450.6 457.3 451.1 456.8 451.5 456.9 452.0 457.7 452.4 457.8 452.9 458.3 453.3 458.6 453.8 458.6 454.2 458.7 454.7 458.5 455.1 457.5 455.6 456.7 456.0 456.8 456.5 457.6 456.9 457.0 457.4 456.5 457.8 456.6 458.3 457.1 458.7 457.4 459.2 457.0 459.6 456.8 460.1 457.0 460.5 455.9 461.0 456.9 461.4 458.1 461.9 458.1 462.3 458.3 462.8 457.9 463.2 457.8 463.7 457.5 464.1 457.2 464.6 457.8 465.0 457.7 465.5 456.1 465.9 456.0 466.4 455.6 466.8 456.1 467.3 456.3 467.7 456.8 468.2 457.4 468.6 458.4 469.1 458.4 469.5 457.2 470.0 457.2 470.4 457.7 470.9 457.2 471.3 456.8 471.8 456.4 472.2 457.8 472.7 457.8 473.1 456.8 473.6 456.4 474.0 456.8 474.5 457.7 474.9 457.3 475.4 456.8 475.8 457.5 476.3 458.6 476.7 459.2 477.2 459.1 477.6 458.4 478.1 458.2 478.5 458.4 479.0 458.7 479.4 458.4 479.9 457.4 480.3 457.3 480.8 457.8 481.2 458.4 481.7 457.8 482.1 457.8 482.6 459.1 483.0 459.2 483.5 457.9 483.9 458.2 484.4 459.0 484.8 458.5 485.3 458.5 485.7 457.6 486.2 458.1 486.6 459.1 487.1 459.8 487.5 459.0 488.0 457.2 488.4 456.9 488.9 457.7 489.3 459.0 489.8 459.4 490.2 459.6 490.7 459.1 491.1 458.2 491.6 458.0 492.0 458.1 492.5 458.6 492.9 457.9 493.4 458.4 493.8 459.1 494.3 459.3 494.7 458.5 495.2 458.5 495.6 458.3 496.1 459.1 496.5 458.6 497.0 458.2 497.4 457.9 497.9 457.9 498.3 458.0 498.8 458.4 499.2 459.2 499.7 458.4 500.1 458.9 500.6 459.1 501.0 457.7 501.5 457.2 501.9 458.3 502.4 457.7 502.8 457.9 503.3 458.7 503.7 459.0 504.2 458.6 504.6 458.6 505.1 459.5 505.5 459.7 506.0 460.1 506.4 458.7 506.9 458.7 507.3 459.0 507.8 459.4 508.2 459.3 508.7 459.5 509.1 460.3 509.6 459.4 510.0 459.3 510.5 459.1 510.9 458.8 511.4 459.0 511.8 458.2 512.3 459.1 512.7 458.2 513.2 458.6 513.6 459.0 514.1 458.7 514.5 458.9 515.0 460.4 515.4 461.2 515.9 460.4 516.3 459.4 516.8 458.6 517.2 458.8 517.7 460.0 518.1 460.4 518.6 460.5 519.0 460.5 519.5 460.2 519.9 458.9 520.4 458.3 520.8 458.4 521.3 459.0 521.7 459.1 522.2 459.0 522.6 458.5 523.1 459.3 523.5 459.9 524.0 458.9 524.4 457.5 524.9 458.6 525.3 459.3 525.8 459.8 526.2 459.6 526.7 459.6 527.1 459.3 527.6 459.7 528.0 460.0 528.5 459.5 528.9 459.5 529.4 459.7 529.8 459.8 530.3 459.5 530.7 459.3 531.2 458.2 531.6 459.0 532.1 459.9" fill="none" stroke="#ff00ff" stroke-width="1.6" stroke-linejoin="round"/>
<path d="M387.2 445.4 387.6 447.8 388.1 450.7 388.5 454.0 389.0 456.3 389.4 458.1 389.9 459.5 390.3 461.0 390.8 462.4 391.2 462.3 391.7 463.1 392.1 465.1 392.6 465.5 393.0 466.5 393.5 466.4 393.9 467.0 394.4 468.9 394.8 468.6 395.3 468.0 395.7 468.9 396.2 469.6 396.6 470.0 397.1 470.3 397.5 470.0 398.0 470.7 398.4 471.7 398.9 472.0 399.3 471.8 399.8 471.0 400.2 471.0 400.7 472.6 401.1 472.0 401.6 472.1 402.0 472.8 402.5 473.2 402.9 473.0 403.4 472.6 403.8 473.6 404.3 475.3 404.7 475.6 405.2 474.2 405.6 473.7 406.1 472.9 406.5 473.8 407.0 474.5 407.4 474.4 407.9 475.5 408.3 475.3 408.8 474.3 409.2 472.6 409.7 473.6 410.1 474.7 410.6 474.0 411.0 473.2 411.5 474.2 411.9 475.7 412.4 475.7 412.8 475.5 413.3 475.5 413.7 475.4 414.2 473.1 414.6 474.0 415.1 476.2 415.5 476.2 416.0 475.4 416.4 474.5 416.9 473.7 417.3 474.4 417.8 474.8 418.2 474.8 418.7 476.1 419.1 476.2 419.6 475.5 420.0 475.8 420.5 475.5 420.9 475.4 421.4 475.6 421.8 476.6 422.3 474.9 422.7 475.2 423.2 476.3 423.6 476.0 424.1 474.4 424.5 474.4 425.0 475.0 425.4 474.7 425.9 474.8 426.3 475.1 426.8 475.5 427.2 475.8 427.7 474.8 428.1 475.8 428.6 475.7 429.0 475.7 429.5 475.9 429.9 476.6 430.4 475.0 430.8 475.7 431.3 475.3 431.7 475.4 432.2 476.0 432.6 475.1 433.1 473.0 433.4 465.5 433.5 468.8 434.0 475.9 434.4 476.3 434.9 475.4 435.3 475.3 435.8 475.0 436.2 475.6 436.7 476.2 437.1 476.3 437.6 475.6 438.0 474.9 438.5 474.6 438.9 474.5 439.4 475.1 439.8 475.5 440.3 474.9 440.7 474.5 441.2 474.6 441.6 475.4 442.1 474.9 442.5 474.4 443.0 475.8 443.4 476.2 443.9 475.4 444.3 474.9 444.8 474.8 445.2 474.7 445.7 475.9 446.1 476.4 446.6 476.1 447.0 475.5 447.5 475.3 447.9 475.8 448.4 476.0 448.8 474.8 449.3 474.6 449.7 474.1 450.2 474.0 450.6 475.0 451.1 475.4 451.5 474.5 452.0 475.3 452.4 475.5 452.9 475.5 453.3 475.5 453.8 474.9 454.2 475.5 454.7 474.9 455.1 474.6 455.6 473.9 456.0 474.9 456.5 474.7 456.9 474.0 457.4 473.8 457.8 474.7 458.3 475.6 458.7 475.1 459.2 474.2 459.6 473.7 460.1 473.6 460.5 473.7 461.0 473.3 461.4 474.1 461.9 475.1 462.3 474.7 462.8 474.3 463.2 474.2 463.7 474.9 464.1 475.3 464.6 475.1 465.0 472.2 465.3 468.6 465.5 471.2 465.9 473.2 466.4 474.1 466.8 474.1 467.3 473.9 467.7 474.6 468.2 475.5 468.6 475.2 469.1 474.4 469.5 474.7 470.0 475.1 470.4 475.2 470.9 474.4 471.3 474.0 471.8 474.6 472.2 474.2 472.7 474.4 473.1 474.8 473.6 475.4 474.0 474.9 474.5 474.9 474.9 474.8 475.4 474.8 475.8 475.4 476.3 475.1 476.7 475.4 477.2 475.0 477.6 473.6 478.1 473.0 478.5 472.8 479.0 474.8 479.4 475.4 479.9 474.9 480.3 474.8 480.8 474.8 481.2 474.8 481.7 475.2 482.1 475.1 482.6 475.1 483.0 476.4 483.5 476.3 483.9 475.9 484.4 477.4 484.8 477.9 485.3 477.1 485.7 476.5 486.2 475.4 486.6 474.9 487.1 474.4 487.5 475.2 488.0 476.1 488.4 475.2 488.9 474.8 489.3 476.8 489.8 477.7 490.2 476.8 490.7 475.2 491.1 475.8 491.6 475.3 492.0 475.6 492.5 476.5 492.9 476.8 493.4 475.6 493.8 475.2 494.3 474.9 494.7 475.3 495.2 475.1 495.6 475.5 496.1 476.3 496.5 476.1 497.0 476.0 497.4 476.3 497.9 476.8 498.3 476.8 498.8 475.1 499.2 474.7 499.7 476.1 500.1 476.8 500.6 477.2 501.0 477.2 501.5 477.4 501.9 476.6 502.4 475.9 502.8 476.4 503.3 475.5 503.7 475.5 504.2 476.1 504.6 476.2 505.1 476.6 505.5 476.4 506.0 477.0 506.4 476.0 506.9 476.3 507.3 476.3 507.8 476.8 508.2 476.2 508.7 475.8 509.1 474.1 509.6 475.4 510.0 477.2 510.5 476.7 510.9 476.5 511.4 477.4 511.8 477.8 512.3 476.0 512.7 475.9 513.2 476.1 513.6 476.5 514.1 475.6 514.5 474.8 515.0 475.1 515.4 476.5 515.9 476.8 516.3 476.6 516.8 475.3 517.2 475.3 517.7 476.0 518.1 476.9 518.6 476.8 519.0 476.1 519.5 475.7 519.9 476.2 520.4 476.3 520.8 477.3 521.3 477.8 521.7 476.6 522.2 476.2 522.6 477.9 523.1 477.5 523.5 477.0 524.0 476.7 524.4 476.6 524.9 476.6 525.3 476.3 525.8 475.4 526.2 475.6 526.7 476.3 527.1 476.6 527.6 476.7 528.0 476.4 528.5 475.2 528.9 475.3 529.4 475.9 529.8 476.4 530.3 476.9 530.7 477.7 531.2 476.6 531.6 475.9 532.1 475.4" fill="none" stroke="#0000ff" stroke-width="1.6" stroke-linejoin="round"/>
<path d="M387.2 462.6 387.6 464.5 388.1 466.3 388.5 468.2 389.0 470.4 389.4 472.3 389.9 474.3 390.3 474.8 390.8 475.8 391.2 477.2 391.7 478.9 392.1 480.1 392.6 481.2 393.0 481.9 393.5 482.4 393.9 482.9 394.4 483.9 394.8 484.3 395.3 484.2 395.7 483.7 396.2 484.4 396.6 484.7 397.1 485.0 397.5 487.2 398.0 488.3 398.4 488.3 398.9 488.4 399.3 488.4 399.8 487.5 400.2 488.2 400.7 487.4 401.1 488.4 401.6 489.1 402.0 489.6 402.5 490.0 402.9 489.9 403.4 489.2 403.8 489.0 404.3 489.3 404.7 489.9 405.2 489.7 405.6 489.4 406.1 490.4 406.5 489.8 407.0 489.6 407.4 489.2 407.9 487.3 408.3 482.2 408.3 481.7 408.8 487.6 409.2 489.5 409.7 489.8 410.1 490.1 410.6 491.8 411.0 491.8 411.5 489.9 411.9 488.9 411.9 489.2 412.4 490.4 412.8 491.5 413.3 491.9 413.7 491.8 414.2 490.5 414.6 491.9 415.1 492.3 415.5 492.8 416.0 492.6 416.4 491.1 416.9 491.9 417.3 492.7 417.8 493.3 418.2 493.7 418.7 493.3 419.1 492.6 419.6 492.9 420.0 492.6 420.5 493.2 420.9 492.9 421.4 492.8 421.8 492.7 422.3 491.9 422.7 492.2 423.2 492.4 423.6 493.7 424.1 493.8 424.5 492.0 425.0 491.4 425.4 492.7 425.9 492.7 426.3 493.0 426.8 494.5 427.2 493.3 427.7 492.5 428.1 493.0 428.6 493.8 429.0 494.5 429.5 493.6 429.9 492.5 430.4 493.1 430.8 494.0 431.3 492.5 431.7 493.1 432.2 493.9 432.6 492.9 433.1 488.9 433.4 478.8 433.5 484.5 434.0 492.5 434.4 493.5 434.9 494.0 435.3 494.0 435.8 494.3 436.2 494.0 436.7 494.0 437.1 493.8 437.6 494.8 438.0 494.8 438.5 494.0 438.9 493.0 439.4 492.7 439.8 491.5 440.3 492.6 440.7 493.3 441.2 493.0 441.6 493.5 442.1 494.4 442.5 494.8 443.0 493.5 443.4 491.9 443.9 491.5 444.3 493.0 444.8 494.3 445.2 494.4 445.7 493.6 446.1 492.9 446.6 492.8 447.0 493.2 447.5 493.6 447.9 493.8 448.4 494.0 448.8 494.8 449.3 494.0 449.7 493.9 450.2 494.3 450.6 494.0 451.1 492.7 451.5 491.8 452.0 492.1 452.4 493.4 452.9 493.8 453.3 493.8 453.8 494.1 454.2 494.1 454.7 493.6 455.1 495.3 455.6 495.7 456.0 494.2 456.5 493.2 456.9 492.6 457.4 490.7 457.7 488.7 457.8 489.7 458.3 492.3 458.7 493.2 459.2 494.2 459.6 493.1 460.1 493.1 460.5 493.3 461.0 494.3 461.4 493.9 461.9 492.2 462.3 492.2 462.8 493.0 463.2 492.9 463.7 493.3 464.1 492.9 464.6 491.7 465.0 489.0 465.3 483.5 465.5 488.4 465.9 492.6 466.4 493.2 466.8 493.5 467.3 493.8 467.7 492.9 468.2 493.3 468.6 493.2 469.1 493.7 469.5 494.2 470.0 494.2 470.4 494.2 470.9 494.3 471.3 494.0 471.8 493.7 472.2 494.2 472.7 494.6 473.1 494.5 473.6 494.1 474.0 493.5 474.5 492.3 474.9 492.7 475.4 493.7 475.8 494.7 476.3 494.9 476.7 494.0 477.2 493.3 477.6 494.2 478.1 494.9 478.5 494.5 479.0 493.4 479.4 492.9 479.9 493.0 480.3 493.4 480.8 494.6 481.2 495.0 481.7 496.0 482.1 496.0 482.6 495.1 483.0 494.1 483.5 494.6 483.9 494.4 484.4 493.2 484.8 493.0 485.3 493.8 485.7 494.9 486.2 494.1 486.6 493.4 487.1 494.3 487.5 494.6 488.0 494.2 488.4 495.3 488.9 494.6 489.3 495.2 489.8 495.0 490.2 494.2 490.7 494.3 491.1 494.5 491.6 494.5 492.0 495.0 492.5 494.4 492.9 493.5 493.4 494.1 493.8 493.8 494.3 494.3 494.7 494.7 495.2 494.9 495.6 495.3 496.1 494.8 496.5 494.7 497.0 495.9 497.4 495.6 497.9 494.8 498.3 494.7 498.8 494.5 499.2 494.6 499.7 494.6 500.1 496.1 500.6 495.6 501.0 493.4 501.5 493.7 501.9 494.5 502.4 494.0 502.8 493.5 503.3 494.6 503.7 494.5 504.2 495.2 504.6 495.8 505.1 495.9 505.5 495.1 506.0 495.7 506.4 494.9 506.9 496.0 507.3 496.2 507.8 495.3 508.2 494.8 508.7 496.1 509.1 495.6 509.6 493.6 510.0 492.9 510.5 493.9 510.9 494.6 511.4 495.5 511.8 495.5 512.3 495.3 512.7 495.1 513.2 495.6 513.6 494.7 514.1 493.5 514.5 493.4 515.0 494.9 515.4 494.6 515.9 493.8 516.3 494.2 516.8 495.0 517.2 495.2 517.7 493.9 518.1 494.7 518.6 495.8 519.0 496.0 519.5 496.4 519.9 496.7 520.4 495.1 520.8 495.0 521.3 496.3 521.7 496.8 522.2 495.9 522.6 495.0 523.1 494.7 523.5 495.7 524.0 495.6 524.4 494.7 524.9 494.7 525.3 494.9 525.8 495.6 526.2 495.8 526.7 496.6 527.1 496.8 527.6 496.3 528.0 496.6 528.5 496.9 528.9 496.7 529.4 495.7 529.8 496.3 530.3 497.1 530.7 496.4 531.2 495.5 531.6 496.2 532.1 497.2" fill="none" stroke="#ff0000" stroke-width="1.6" stroke-linejoin="round"/>
<path d="M387.2 480.5 387.6 484.4 388.1 488.1 388.5 490.0 389.0 491.1 389.4 493.1 389.9 495.7 390.3 497.5 390.8 499.6 391.2 499.6 391.7 499.7 392.1 500.7 392.6 501.9 393.0 503.6 393.5 504.0 393.9 505.5 394.4 506.2 394.8 507.0 395.3 506.5 395.7 506.4 396.2 505.4 396.6 506.1 397.1 507.0 397.5 508.2 398.0 508.2 398.4 508.4 398.9 507.7 399.3 507.5 399.8 508.7 400.2 509.8 400.7 509.7 401.1 510.2 401.6 509.4 402.0 509.1 402.5 509.3 402.9 509.4 403.4 509.3 403.8 509.5 404.3 509.3 404.7 509.7 405.2 511.3 405.6 511.2 406.1 510.2 406.5 509.6 407.0 509.3 407.4 509.8 407.9 508.4 408.3 504.6 408.3 503.4 408.8 509.2 409.2 511.1 409.7 511.0 410.1 512.3 410.6 512.2 411.0 511.5 411.5 510.5 411.9 510.4 412.4 503.3 412.6 494.1 412.8 505.7 413.3 510.2 413.7 509.5 414.2 511.3 414.6 512.3 415.1 511.3 415.5 510.6 416.0 507.4 416.0 506.9 416.4 508.2 416.9 509.4 417.3 510.8 417.8 510.8 418.2 510.5 418.7 511.9 419.1 512.0 419.6 510.9 420.0 510.4 420.5 511.7 420.9 511.9 421.4 512.6 421.8 512.8 422.3 512.0 422.7 512.0 423.2 512.4 423.6 511.6 424.1 510.8 424.5 512.1 425.0 512.3 425.4 511.9 425.9 512.2 426.3 511.9 426.8 511.9 427.2 512.3 427.7 511.0 428.1 510.7 428.6 511.4 429.0 511.4 429.5 512.3 429.9 511.5 430.4 510.7 430.8 511.0 431.3 510.8 431.7 512.4 432.2 512.2 432.6 511.7 433.1 507.6 433.4 495.3 433.5 500.9 434.0 510.8 434.4 511.5 434.9 511.0 435.3 510.9 435.8 512.5 436.2 512.2 436.7 511.4 437.1 511.0 437.6 512.2 438.0 511.9 438.5 509.7 438.8 504.4 438.9 506.0 439.4 511.0 439.8 510.7 440.3 510.7 440.7 511.9 441.2 512.7 441.6 511.6 442.0 507.6 442.1 508.1 442.5 511.7 443.0 512.0 443.4 512.1 443.9 512.5 444.3 512.2 444.8 512.5 445.2 513.3 445.7 512.8 446.1 512.4 446.6 512.8 447.0 512.7 447.5 512.7 447.9 511.9 448.4 511.4 448.8 511.5 449.3 512.9 449.7 512.0 450.0 509.8 450.2 510.7 450.6 512.2 451.1 512.4 451.5 512.8 452.0 512.3 452.4 512.1 452.9 513.2 453.3 513.5 453.8 513.1 454.2 512.6 454.7 512.3 455.1 512.6 455.6 512.4 456.0 511.6 456.5 511.5 456.9 511.4 457.4 510.0 457.7 504.7 457.8 506.2 458.3 510.8 458.7 511.9 459.2 512.2 459.6 513.5 460.1 512.5 460.5 509.8 461.0 506.3 461.0 506.6 461.4 510.4 461.9 511.9 462.3 512.3 462.8 512.0 463.2 512.3 463.7 512.5 464.1 511.9 464.6 511.0 465.0 505.4 465.3 495.7 465.5 504.2 465.9 512.4 466.4 514.2 466.8 513.9 467.3 512.7 467.7 512.8 468.2 512.7 468.6 512.8 469.1 512.0 469.5 511.9 470.0 512.3 470.4 512.5 470.9 513.5 471.3 513.6 471.8 513.1 472.2 512.7 472.7 512.8 473.1 513.4 473.6 513.0 474.0 513.2 474.5 514.1 474.9 513.2 475.4 512.6 475.8 512.9 476.3 513.5 476.7 512.7 477.2 512.6 477.6 513.7 478.1 514.1 478.5 513.8 479.0 512.7 479.4 512.8 479.9 512.6 480.3 512.6 480.8 511.8 481.2 512.6 481.7 513.6 482.1 512.7 482.6 511.5 483.0 513.1 483.5 513.2 483.9 512.7 484.4 512.7 484.8 512.9 485.3 513.5 485.7 512.6 486.2 511.3 486.6 511.6 487.1 511.2 487.4 507.2 487.5 508.4 488.0 511.6 488.4 512.9 488.9 513.5 489.3 513.3 489.8 513.6 490.2 514.0 490.7 513.9 491.1 513.5 491.6 513.0 492.0 512.1 492.5 512.6 492.9 513.8 493.4 514.3 493.8 513.7 494.3 513.7 494.7 513.0 495.2 512.4 495.6 513.1 496.1 513.2 496.5 512.3 497.0 512.2 497.4 512.7 497.9 512.7 498.3 512.8 498.8 512.3 499.2 512.8 499.7 511.6 500.0 509.7 500.1 510.0 500.6 512.9 501.0 513.6 501.5 514.0 501.9 511.9 502.4 511.6 502.8 513.3 503.3 513.4 503.7 512.1 504.2 513.2 504.6 514.1 505.1 514.2 505.5 513.1 506.0 511.6 506.4 511.9 506.9 514.1 507.3 514.0 507.8 513.7 508.2 513.0 508.7 512.8 509.1 512.7 509.6 512.3 510.0 512.4 510.5 512.2 510.9 512.8 511.4 513.7 511.8 513.2 512.3 513.0 512.7 514.4 513.2 514.3 513.6 513.0 514.1 512.2 514.5 513.8 515.0 514.1 515.4 513.3 515.9 513.7 516.3 512.8 516.8 512.6 517.2 512.8 517.7 513.1 518.1 513.4 518.6 513.9 519.0 513.3 519.5 513.3 519.9 513.3 520.4 513.1 520.8 512.6 521.3 513.2 521.7 514.2 522.2 513.7 522.6 512.4 523.1 512.4 523.5 512.2 524.0 512.3 524.4 512.3 524.9 512.3 525.3 513.4 525.8 513.9 526.2 513.3 526.7 512.9 527.1 513.0 527.6 512.9 528.0 514.2 528.5 514.3 528.9 512.0 529.4 512.8 529.8 513.3 530.3 513.2 530.7 512.7 531.2 512.1 531.6 512.7 532.1 512.9" fill="none" stroke="#000000" stroke-width="1.6" stroke-linejoin="round"/>
<rect x="386.80" y="370.30" width="145.80" height="151.00" fill="none" stroke="#111" stroke-width="1.1"/>
<line x1="395.91" y1="521.30" x2="395.91" y2="519.80" stroke="#111" stroke-width="0.9"/>
<line x1="411.10" y1="521.30" x2="411.10" y2="518.70" stroke="#111" stroke-width="0.9"/>
<text x="411.10" y="531.80" font-family='"Liberation Serif", serif' font-size="8.8" font-weight="bold" text-anchor="middle" fill="#000" >10</text>
<line x1="426.29" y1="521.30" x2="426.29" y2="519.80" stroke="#111" stroke-width="0.9"/>
<line x1="441.48" y1="521.30" x2="441.48" y2="518.70" stroke="#111" stroke-width="0.9"/>
<text x="441.48" y="531.80" font-family='"Liberation Serif", serif' font-size="8.8" font-weight="bold" text-anchor="middle" fill="#000" >20</text>
<line x1="456.66" y1="521.30" x2="456.66" y2="519.80" stroke="#111" stroke-width="0.9"/>
<line x1="471.85" y1="521.30" x2="471.85" y2="518.70" stroke="#111" stroke-width="0.9"/>
<text x="471.85" y="531.80" font-family='"Liberation Serif", serif' font-size="8.8" font-weight="bold" text-anchor="middle" fill="#000" >30</text>
<line x1="487.04" y1="521.30" x2="487.04" y2="519.80" stroke="#111" stroke-width="0.9"/>
<line x1="502.23" y1="521.30" x2="502.23" y2="518.70" stroke="#111" stroke-width="0.9"/>
<text x="502.23" y="531.80" font-family='"Liberation Serif", serif' font-size="8.8" font-weight="bold" text-anchor="middle" fill="#000" >40</text>
<line x1="517.41" y1="521.30" x2="517.41" y2="519.80" stroke="#111" stroke-width="0.9"/>
<line x1="532.60" y1="521.30" x2="532.60" y2="518.70" stroke="#111" stroke-width="0.9"/>
<text x="532.60" y="531.80" font-family='"Liberation Serif", serif' font-size="8.8" font-weight="bold" text-anchor="middle" fill="#000" >50</text>
<text x="459.70" y="543.60" font-family='"Liberation Serif", serif' font-size="9.5" font-weight="bold" text-anchor="middle" fill="#000" >2-Theta (Deg.)</text>
<text transform="translate(376.30,451.30) rotate(-90)" font-family='"Liberation Serif", serif' font-size="9.6" font-weight="bold" text-anchor="middle" fill="#000">Intensity (a.u.)</text>
<text x="392.30" y="385.54" font-family='"Liberation Sans", sans-serif' font-size="17.2" font-weight="bold" text-anchor="start" fill="#000" >(i)</text>
<text x="423.60" y="383.50" font-family='"Liberation Serif", serif' font-size="13.0" font-weight="bold" textLength="72.30" lengthAdjust="spacingAndGlyphs">MIL-101(Fe)</text>
<line x1="423.60" y1="385.80" x2="495.90" y2="385.80" stroke="#111" stroke-width="1.1"/>
<text x="530.00" y="397.80" font-family='"Liberation Serif", serif' font-size="9.2" font-weight="normal" text-anchor="end" fill="#333" stroke="#333" stroke-width="0.12">pH=5, 20-cycle used</text>
<text x="530.00" y="417.00" font-family='"Liberation Serif", serif' font-size="9.2" font-weight="normal" text-anchor="end" fill="#333" stroke="#333" stroke-width="0.12">pH=5, 5-cycle used</text>
<text x="530.00" y="435.50" font-family='"Liberation Serif", serif' font-size="9.2" font-weight="normal" text-anchor="end" fill="#333" stroke="#333" stroke-width="0.12">pH=5, 1-cycle used</text>
<text x="530.00" y="454.50" font-family='"Liberation Serif", serif' font-size="9.2" font-weight="normal" text-anchor="end" fill="#333" stroke="#333" stroke-width="0.12">pH=3, 20-cycle used</text>
<text x="530.00" y="472.50" font-family='"Liberation Serif", serif' font-size="9.2" font-weight="normal" text-anchor="end" fill="#333" stroke="#333" stroke-width="0.12">pH=3, 5-cycle used</text>
<text x="530.00" y="490.80" font-family='"Liberation Serif", serif' font-size="9.2" font-weight="normal" text-anchor="end" fill="#333" stroke="#333" stroke-width="0.12">pH=3, 1-cycle used</text>
<text x="530.00" y="510.50" font-family='"Liberation Serif", serif' font-size="9.2" font-weight="normal" text-anchor="end" fill="#333" stroke="#333" stroke-width="0.12">Fresh</text>
</svg></body></html>
